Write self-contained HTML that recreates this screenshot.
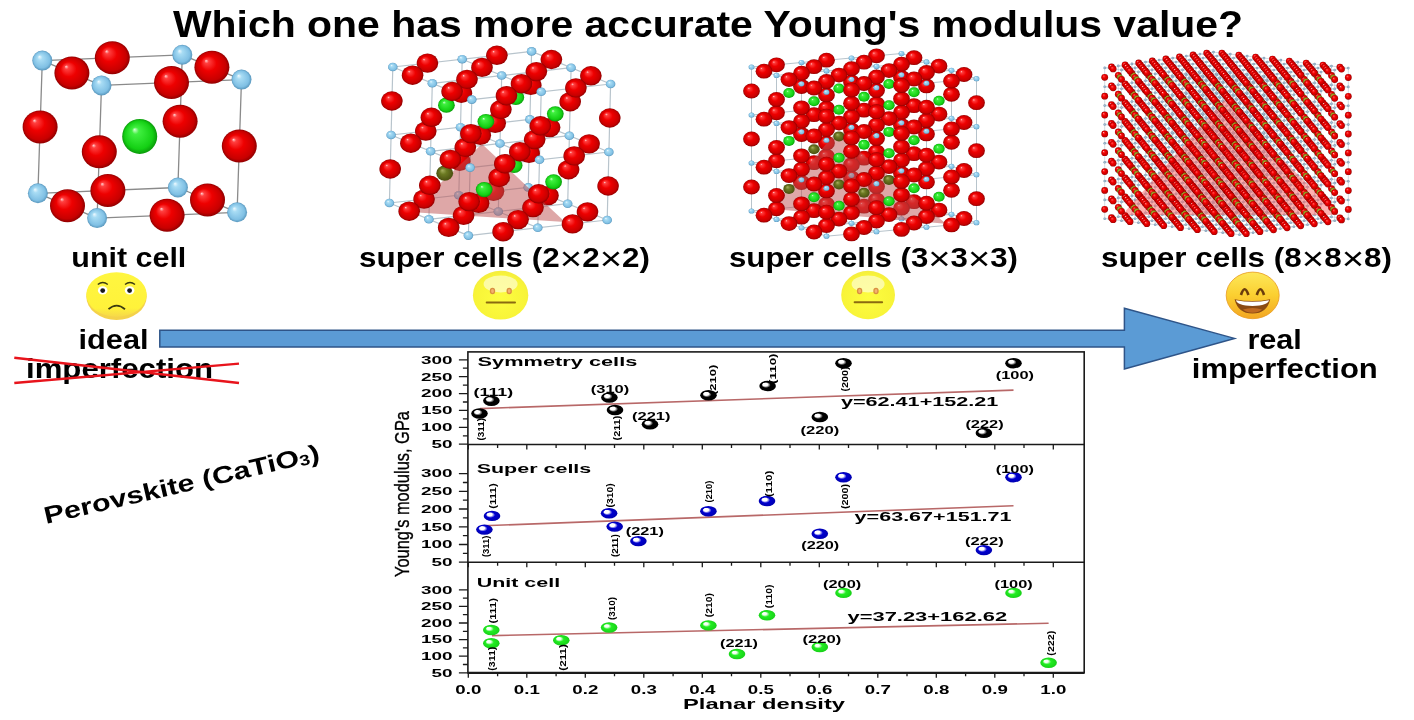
<!DOCTYPE html>
<html><head><meta charset="utf-8">
<style>
html,body{margin:0;padding:0;background:#fff;}
svg{display:block;}
text{font-family:"Liberation Sans",Arial,sans-serif;}
.b{font-weight:bold;}
</style></head>
<body>
<svg width="1414" height="720" viewBox="0 0 1414 720">
<defs>
<radialGradient id="r" cx="0.5" cy="0.5" r="0.5" fx="0.33" fy="0.3">
<stop offset="0" stop-color="#ffd8d8"/><stop offset="0.12" stop-color="#ff4040"/><stop offset="0.45" stop-color="#ee0000"/><stop offset="0.85" stop-color="#c80000"/><stop offset="1" stop-color="#900000"/></radialGradient>
<radialGradient id="b" cx="0.5" cy="0.5" r="0.5" fx="0.35" fy="0.3">
<stop offset="0" stop-color="#f0faff"/><stop offset="0.25" stop-color="#a8dcf4"/><stop offset="0.8" stop-color="#80c0e4"/><stop offset="1" stop-color="#5896bc"/></radialGradient>
<radialGradient id="g" cx="0.5" cy="0.5" r="0.5" fx="0.35" fy="0.3">
<stop offset="0" stop-color="#d8ffd8"/><stop offset="0.2" stop-color="#40f040"/><stop offset="0.8" stop-color="#14d014"/><stop offset="1" stop-color="#0a9a0a"/></radialGradient>
<radialGradient id="go" cx="0.5" cy="0.5" r="0.5" fx="0.35" fy="0.3">
<stop offset="0" stop-color="#a8b060"/><stop offset="0.4" stop-color="#6c7a22"/><stop offset="1" stop-color="#4a5010"/></radialGradient>
<radialGradient id="go8" cx="0.5" cy="0.5" r="0.5" fx="0.4" fy="0.35">
<stop offset="0" stop-color="#c8c040"/><stop offset="0.5" stop-color="#9a9a20"/><stop offset="1" stop-color="#6a6a10"/></radialGradient>
<radialGradient id="b8" cx="0.5" cy="0.5" r="0.5">
<stop offset="0" stop-color="#a8c4d8"/><stop offset="1" stop-color="#7c98b0"/></radialGradient>
<radialGradient id="pk" cx="0.5" cy="0.5" r="0.5" fx="0.3" fy="0.3">
<stop offset="0" stop-color="#ffffff"/><stop offset="0.3" stop-color="#ffffff"/><stop offset="0.55" stop-color="#000000"/><stop offset="1" stop-color="#000000"/></radialGradient>
<radialGradient id="pb" cx="0.5" cy="0.5" r="0.5" fx="0.3" fy="0.3">
<stop offset="0" stop-color="#ffffff"/><stop offset="0.3" stop-color="#ffffff"/><stop offset="0.55" stop-color="#0000d0"/><stop offset="1" stop-color="#0000b0"/></radialGradient>
<radialGradient id="pg" cx="0.5" cy="0.5" r="0.5" fx="0.3" fy="0.3">
<stop offset="0" stop-color="#ffffff"/><stop offset="0.25" stop-color="#f0fff0"/><stop offset="0.5" stop-color="#22ee22"/><stop offset="1" stop-color="#18d018"/></radialGradient>
<linearGradient id="fy1" x1="0" y1="0" x2="0" y2="1"><stop offset="0" stop-color="#fff640"/><stop offset="0.8" stop-color="#fff23a"/><stop offset="1" stop-color="#f6d84a"/></linearGradient>
<radialGradient id="fy2" cx="0.5" cy="0.55" r="0.55"><stop offset="0" stop-color="#fdfd40"/><stop offset="0.85" stop-color="#f8f438"/><stop offset="1" stop-color="#f4ec40"/></radialGradient>
<linearGradient id="fy3" x1="0" y1="0" x2="0" y2="1"><stop offset="0" stop-color="#fde85a"/><stop offset="0.5" stop-color="#fbcf30"/><stop offset="1" stop-color="#f3a622"/></linearGradient>
</defs>

<!-- Title -->
<text class="b" x="173" y="37.4" font-size="36" textLength="1070" lengthAdjust="spacingAndGlyphs">Which one has more accurate Young's modulus value?</text>

<!-- unit cell -->
<g><path d="M42.3 60.6L101.5 85.4M42.3 60.6L37.9 193.3M42.3 60.6L182.3 54.8M37.9 193.3L97.1 218.1M101.5 85.4L97.1 218.1M101.5 85.4L241.5 79.6M182.3 54.8L241.5 79.6M182.3 54.8L177.9 187.5M37.9 193.3L177.9 187.5M177.9 187.5L237.1 212.3M241.5 79.6L237.1 212.3M97.1 218.1L237.1 212.3" stroke="#8a8a8a" stroke-width="1.3" fill="none"/>
<circle cx="177.9" cy="187.5" r="10" fill="url(#b)"/>
<ellipse cx="180.1" cy="121.2" rx="17.5" ry="16.5" fill="url(#r)"/>
<circle cx="182.3" cy="54.8" r="10" fill="url(#b)"/>
<ellipse cx="107.9" cy="190.4" rx="17.5" ry="16.5" fill="url(#r)"/>
<ellipse cx="112.3" cy="57.7" rx="17.5" ry="16.5" fill="url(#r)"/>
<circle cx="37.9" cy="193.3" r="10" fill="url(#b)"/>
<ellipse cx="207.5" cy="199.9" rx="17.5" ry="16.5" fill="url(#r)"/>
<ellipse cx="40.1" cy="126.9" rx="17.5" ry="16.5" fill="url(#r)"/>
<circle cx="42.3" cy="60.6" r="10" fill="url(#b)"/>
<ellipse cx="211.9" cy="67.2" rx="17.5" ry="16.5" fill="url(#r)"/>
<circle cx="139.7" cy="136.4" r="17.5" fill="url(#g)"/>
<ellipse cx="67.5" cy="205.7" rx="17.5" ry="16.5" fill="url(#r)"/>
<circle cx="237.1" cy="212.3" r="10" fill="url(#b)"/>
<ellipse cx="239.3" cy="146" rx="17.5" ry="16.5" fill="url(#r)"/>
<ellipse cx="71.9" cy="73" rx="17.5" ry="16.5" fill="url(#r)"/>
<circle cx="241.5" cy="79.6" r="10" fill="url(#b)"/>
<ellipse cx="167.1" cy="215.2" rx="17.5" ry="16.5" fill="url(#r)"/>
<ellipse cx="171.5" cy="82.5" rx="17.5" ry="16.5" fill="url(#r)"/>
<circle cx="97.1" cy="218.1" r="10" fill="url(#b)"/>
<ellipse cx="99.3" cy="151.8" rx="17.5" ry="16.5" fill="url(#r)"/>
<circle cx="101.5" cy="85.4" r="10" fill="url(#b)"/></g>
<!-- 2x2x2 -->
<g><path d="M392.8 67L471.8 99.6M392.8 67L389.4 203M392.8 67L531.6 51.4M391.1 135L470.1 167.6M432.3 83.3L428.9 219.3M432.3 83.3L571.1 67.7M389.4 203L468.4 235.6M471.8 99.6L468.4 235.6M471.8 99.6L610.6 84M462.2 59.2L541.2 91.8M462.2 59.2L458.8 195.2M391.1 135L529.9 119.4M460.5 127.2L539.5 159.8M501.7 75.5L498.3 211.5M430.6 151.3L569.4 135.7M458.8 195.2L537.8 227.8M541.2 91.8L537.8 227.8M470.1 167.6L608.9 152M531.6 51.4L610.6 84M531.6 51.4L528.2 187.4M389.4 203L528.2 187.4M529.9 119.4L608.9 152M571.1 67.7L567.7 203.7M428.9 219.3L567.7 203.7M528.2 187.4L607.2 220M610.6 84L607.2 220M468.4 235.6L607.2 220" stroke="#b8c4cc" stroke-width="1.2" fill="none"/>
<ellipse cx="528.2" cy="187.4" rx="4.8" ry="4.3" fill="url(#b)"/>
<ellipse cx="529.1" cy="153.4" rx="10.8" ry="9.7" fill="url(#r)"/>
<ellipse cx="493.5" cy="191.3" rx="10.8" ry="9.7" fill="url(#r)"/>
<ellipse cx="529.9" cy="119.4" rx="4.8" ry="4.3" fill="url(#b)"/>
<ellipse cx="530.8" cy="85.4" rx="10.8" ry="9.7" fill="url(#r)"/>
<ellipse cx="548" cy="195.6" rx="10.8" ry="9.7" fill="url(#r)"/>
<ellipse cx="458.8" cy="195.2" rx="4.8" ry="4.3" fill="url(#b)"/>
<ellipse cx="495.2" cy="123.3" rx="10.8" ry="9.7" fill="url(#r)"/>
<ellipse cx="531.6" cy="51.4" rx="4.8" ry="4.3" fill="url(#b)"/>
<ellipse cx="459.7" cy="161.2" rx="10.8" ry="9.7" fill="url(#r)"/>
<ellipse cx="549.6" cy="127.6" rx="10.8" ry="9.7" fill="url(#r)"/>
<ellipse cx="460.5" cy="127.2" rx="4.8" ry="4.3" fill="url(#b)"/>
<ellipse cx="496.9" cy="55.3" rx="10.8" ry="9.7" fill="url(#r)"/>
<ellipse cx="514.1" cy="165.5" rx="8.4" ry="7.6" fill="url(#g)"/>
<ellipse cx="567.7" cy="203.7" rx="4.8" ry="4.3" fill="url(#b)"/>
<ellipse cx="461.4" cy="93.2" rx="10.8" ry="9.7" fill="url(#r)"/>
<ellipse cx="551.4" cy="59.5" rx="10.8" ry="9.7" fill="url(#r)"/>
<ellipse cx="389.4" cy="203" rx="4.8" ry="4.3" fill="url(#b)"/>
<ellipse cx="568.6" cy="169.7" rx="10.8" ry="9.7" fill="url(#r)"/>
<ellipse cx="425.8" cy="131.1" rx="10.8" ry="9.7" fill="url(#r)"/>
<ellipse cx="462.2" cy="59.2" rx="4.8" ry="4.3" fill="url(#b)"/>
<ellipse cx="515.8" cy="97.5" rx="8.4" ry="7.6" fill="url(#g)"/>
<ellipse cx="569.4" cy="135.7" rx="4.8" ry="4.3" fill="url(#b)"/>
<ellipse cx="480.3" cy="135.3" rx="10.8" ry="9.7" fill="url(#r)"/>
<ellipse cx="391.1" cy="135" rx="4.8" ry="4.3" fill="url(#b)"/>
<ellipse cx="570.2" cy="101.7" rx="10.8" ry="9.7" fill="url(#r)"/>
<ellipse cx="427.5" cy="63.1" rx="10.8" ry="9.7" fill="url(#r)"/>
<ellipse cx="498.3" cy="211.5" rx="4.8" ry="4.3" fill="url(#b)"/>
<ellipse cx="534.7" cy="139.6" rx="10.8" ry="9.7" fill="url(#r)"/>
<ellipse cx="391.9" cy="101" rx="10.8" ry="9.7" fill="url(#r)"/>
<ellipse cx="571.1" cy="67.7" rx="4.8" ry="4.3" fill="url(#b)"/>
<ellipse cx="482" cy="67.4" rx="10.8" ry="9.7" fill="url(#r)"/>
<ellipse cx="392.8" cy="67" rx="4.8" ry="4.3" fill="url(#b)"/>
<ellipse cx="589.1" cy="143.9" rx="10.8" ry="9.7" fill="url(#r)"/>
<ellipse cx="446.4" cy="105.2" rx="8.4" ry="7.6" fill="url(#g)"/>
<ellipse cx="500" cy="143.5" rx="4.8" ry="4.3" fill="url(#b)"/>
<ellipse cx="536.4" cy="71.6" rx="10.8" ry="9.7" fill="url(#r)"/>
<ellipse cx="553.6" cy="181.8" rx="8.4" ry="7.6" fill="url(#g)"/>
<ellipse cx="607.2" cy="220" rx="4.8" ry="4.3" fill="url(#b)"/>
<ellipse cx="500.9" cy="109.5" rx="10.8" ry="9.7" fill="url(#r)"/>
<ellipse cx="590.9" cy="75.8" rx="10.8" ry="9.7" fill="url(#r)"/>
<ellipse cx="501.7" cy="75.5" rx="4.8" ry="4.3" fill="url(#b)"/>
<ellipse cx="555.3" cy="113.8" rx="8.4" ry="7.6" fill="url(#g)"/>
<ellipse cx="412.6" cy="75.2" rx="10.8" ry="9.7" fill="url(#r)"/>
<ellipse cx="608.9" cy="152" rx="4.8" ry="4.3" fill="url(#b)"/>
<ellipse cx="430.6" cy="151.3" rx="4.8" ry="4.3" fill="url(#b)"/>
<ellipse cx="609.8" cy="118" rx="10.8" ry="9.7" fill="url(#r)"/>
<ellipse cx="467" cy="79.4" rx="10.8" ry="9.7" fill="url(#r)"/>
<ellipse cx="610.6" cy="84" rx="4.8" ry="4.3" fill="url(#b)"/>
<ellipse cx="521.5" cy="83.7" rx="10.8" ry="9.7" fill="url(#r)"/>
<ellipse cx="432.3" cy="83.3" rx="4.8" ry="4.3" fill="url(#b)"/>
<ellipse cx="485.9" cy="121.5" rx="8.4" ry="7.6" fill="url(#g)"/>
<ellipse cx="539.5" cy="159.8" rx="4.8" ry="4.3" fill="url(#b)"/>
<ellipse cx="575.9" cy="87.9" rx="10.8" ry="9.7" fill="url(#r)"/>
<ellipse cx="541.2" cy="91.8" rx="4.8" ry="4.3" fill="url(#b)"/>
<ellipse cx="471.8" cy="99.6" rx="4.8" ry="4.3" fill="url(#b)"/>
<polygon points="482,144 410,212 565,222" fill="rgba(190,80,80,0.5)"/>
<ellipse cx="424.1" cy="199.1" rx="10.8" ry="9.7" fill="url(#r)"/>
<ellipse cx="478.6" cy="203.3" rx="10.8" ry="9.7" fill="url(#r)"/>
<ellipse cx="533" cy="207.6" rx="10.8" ry="9.7" fill="url(#r)"/>
<ellipse cx="390.2" cy="169" rx="10.8" ry="9.7" fill="url(#r)"/>
<ellipse cx="587.5" cy="211.9" rx="10.8" ry="9.7" fill="url(#r)"/>
<ellipse cx="444.7" cy="173.2" rx="8.4" ry="7.6" fill="url(#go)"/>
<ellipse cx="409.2" cy="211.2" rx="10.8" ry="9.7" fill="url(#r)"/>
<ellipse cx="499.2" cy="177.5" rx="10.8" ry="9.7" fill="url(#r)"/>
<ellipse cx="463.6" cy="215.4" rx="10.8" ry="9.7" fill="url(#r)"/>
<ellipse cx="410.9" cy="143.2" rx="10.8" ry="9.7" fill="url(#r)"/>
<ellipse cx="518.1" cy="219.6" rx="10.8" ry="9.7" fill="url(#r)"/>
<ellipse cx="428.9" cy="219.3" rx="4.8" ry="4.3" fill="url(#b)"/>
<ellipse cx="608.1" cy="186" rx="10.8" ry="9.7" fill="url(#r)"/>
<ellipse cx="465.3" cy="147.4" rx="10.8" ry="9.7" fill="url(#r)"/>
<ellipse cx="572.5" cy="223.9" rx="10.8" ry="9.7" fill="url(#r)"/>
<ellipse cx="429.8" cy="185.3" rx="10.8" ry="9.7" fill="url(#r)"/>
<ellipse cx="519.8" cy="151.7" rx="10.8" ry="9.7" fill="url(#r)"/>
<ellipse cx="484.2" cy="189.6" rx="8.4" ry="7.6" fill="url(#g)"/>
<ellipse cx="537.8" cy="227.8" rx="4.8" ry="4.3" fill="url(#b)"/>
<ellipse cx="574.2" cy="155.9" rx="10.8" ry="9.7" fill="url(#r)"/>
<ellipse cx="431.4" cy="117.3" rx="10.8" ry="9.7" fill="url(#r)"/>
<ellipse cx="448.7" cy="227.4" rx="10.8" ry="9.7" fill="url(#r)"/>
<ellipse cx="538.7" cy="193.8" rx="10.8" ry="9.7" fill="url(#r)"/>
<ellipse cx="503.1" cy="231.7" rx="10.8" ry="9.7" fill="url(#r)"/>
<ellipse cx="450.4" cy="159.4" rx="10.8" ry="9.7" fill="url(#r)"/>
<ellipse cx="540.4" cy="125.8" rx="10.8" ry="9.7" fill="url(#r)"/>
<ellipse cx="468.4" cy="235.6" rx="4.8" ry="4.3" fill="url(#b)"/>
<ellipse cx="504.8" cy="163.7" rx="10.8" ry="9.7" fill="url(#r)"/>
<ellipse cx="452.1" cy="91.5" rx="10.8" ry="9.7" fill="url(#r)"/>
<ellipse cx="469.2" cy="201.6" rx="10.8" ry="9.7" fill="url(#r)"/>
<ellipse cx="470.1" cy="167.6" rx="4.8" ry="4.3" fill="url(#b)"/>
<ellipse cx="506.5" cy="95.7" rx="10.8" ry="9.7" fill="url(#r)"/>
<ellipse cx="470.9" cy="133.6" rx="10.8" ry="9.7" fill="url(#r)"/></g>
<!-- 3x3x3 -->
<g><path d="M751.5 67L826.5 92.2M751.5 67L751.5 211M751.5 67L901.5 53.5M751.5 115L826.5 140.2M776.5 75.4L776.5 219.4M776.5 75.4L926.5 61.9M751.5 163L826.5 188.2M801.5 83.8L801.5 227.8M801.5 83.8L951.5 70.3M751.5 211L826.5 236.2M826.5 92.2L826.5 236.2M826.5 92.2L976.5 78.7M801.5 62.5L876.5 87.7M801.5 62.5L801.5 206.5M751.5 115L901.5 101.5M801.5 110.5L876.5 135.7M826.5 70.9L826.5 214.9M776.5 123.4L926.5 109.9M801.5 158.5L876.5 183.7M851.5 79.3L851.5 223.3M801.5 131.8L951.5 118.3M801.5 206.5L876.5 231.7M876.5 87.7L876.5 231.7M826.5 140.2L976.5 126.7M851.5 58L926.5 83.2M851.5 58L851.5 202M751.5 163L901.5 149.5M851.5 106L926.5 131.2M876.5 66.4L876.5 210.4M776.5 171.4L926.5 157.9M851.5 154L926.5 179.2M901.5 74.8L901.5 218.8M801.5 179.8L951.5 166.3M851.5 202L926.5 227.2M926.5 83.2L926.5 227.2M826.5 188.2L976.5 174.7M901.5 53.5L976.5 78.7M901.5 53.5L901.5 197.5M751.5 211L901.5 197.5M901.5 101.5L976.5 126.7M926.5 61.9L926.5 205.9M776.5 219.4L926.5 205.9M901.5 149.5L976.5 174.7M951.5 70.3L951.5 214.3M801.5 227.8L951.5 214.3M901.5 197.5L976.5 222.7M976.5 78.7L976.5 222.7M826.5 236.2L976.5 222.7" stroke="#b8c4cc" stroke-width="1.0" fill="none"/>
<ellipse cx="901.5" cy="197.5" rx="2.9" ry="2.6" fill="url(#b)"/>
<ellipse cx="901.5" cy="173.5" rx="8.4" ry="7.4" fill="url(#r)"/>
<ellipse cx="901.5" cy="149.5" rx="2.9" ry="2.6" fill="url(#b)"/>
<ellipse cx="876.5" cy="199.8" rx="8.4" ry="7.4" fill="url(#r)"/>
<ellipse cx="901.5" cy="125.5" rx="8.4" ry="7.4" fill="url(#r)"/>
<ellipse cx="901.5" cy="101.5" rx="2.9" ry="2.6" fill="url(#b)"/>
<ellipse cx="876.5" cy="151.8" rx="8.4" ry="7.4" fill="url(#r)"/>
<ellipse cx="914" cy="201.7" rx="8.4" ry="7.4" fill="url(#r)"/>
<ellipse cx="851.5" cy="202" rx="2.9" ry="2.6" fill="url(#b)"/>
<ellipse cx="901.5" cy="77.5" rx="8.4" ry="7.4" fill="url(#r)"/>
<ellipse cx="851.5" cy="178" rx="8.4" ry="7.4" fill="url(#r)"/>
<ellipse cx="901.5" cy="53.5" rx="2.9" ry="2.6" fill="url(#b)"/>
<ellipse cx="876.5" cy="103.8" rx="8.4" ry="7.4" fill="url(#r)"/>
<ellipse cx="914" cy="153.7" rx="8.4" ry="7.4" fill="url(#r)"/>
<ellipse cx="851.5" cy="154" rx="2.9" ry="2.6" fill="url(#b)"/>
<ellipse cx="826.5" cy="204.2" rx="8.4" ry="7.4" fill="url(#r)"/>
<ellipse cx="851.5" cy="130" rx="8.4" ry="7.4" fill="url(#r)"/>
<ellipse cx="876.5" cy="55.8" rx="8.4" ry="7.4" fill="url(#r)"/>
<ellipse cx="914" cy="105.7" rx="8.4" ry="7.4" fill="url(#r)"/>
<ellipse cx="851.5" cy="106" rx="2.9" ry="2.6" fill="url(#b)"/>
<ellipse cx="826.5" cy="156.2" rx="8.4" ry="7.4" fill="url(#r)"/>
<ellipse cx="926.5" cy="205.9" rx="2.9" ry="2.6" fill="url(#b)"/>
<ellipse cx="864" cy="206.2" rx="8.4" ry="7.4" fill="url(#r)"/>
<ellipse cx="801.5" cy="206.5" rx="2.9" ry="2.6" fill="url(#b)"/>
<ellipse cx="851.5" cy="82" rx="8.4" ry="7.4" fill="url(#r)"/>
<ellipse cx="889" cy="131.9" rx="5.7" ry="5" fill="url(#g)"/>
<ellipse cx="926.5" cy="181.9" rx="8.4" ry="7.4" fill="url(#r)"/>
<ellipse cx="801.5" cy="182.5" rx="8.4" ry="7.4" fill="url(#r)"/>
<ellipse cx="914" cy="57.7" rx="8.4" ry="7.4" fill="url(#r)"/>
<ellipse cx="851.5" cy="58" rx="2.9" ry="2.6" fill="url(#b)"/>
<ellipse cx="826.5" cy="108.2" rx="8.4" ry="7.4" fill="url(#r)"/>
<ellipse cx="926.5" cy="157.9" rx="2.9" ry="2.6" fill="url(#b)"/>
<ellipse cx="864" cy="158.2" rx="8.4" ry="7.4" fill="url(#r)"/>
<ellipse cx="801.5" cy="158.5" rx="2.9" ry="2.6" fill="url(#b)"/>
<ellipse cx="901.5" cy="208.2" rx="8.4" ry="7.4" fill="url(#r)"/>
<ellipse cx="889" cy="84" rx="5.7" ry="5" fill="url(#g)"/>
<ellipse cx="926.5" cy="133.9" rx="8.4" ry="7.4" fill="url(#r)"/>
<ellipse cx="801.5" cy="134.5" rx="8.4" ry="7.4" fill="url(#r)"/>
<ellipse cx="826.5" cy="60.2" rx="8.4" ry="7.4" fill="url(#r)"/>
<ellipse cx="926.5" cy="109.9" rx="2.9" ry="2.6" fill="url(#b)"/>
<ellipse cx="864" cy="110.2" rx="8.4" ry="7.4" fill="url(#r)"/>
<ellipse cx="801.5" cy="110.5" rx="2.9" ry="2.6" fill="url(#b)"/>
<ellipse cx="901.5" cy="160.2" rx="8.4" ry="7.4" fill="url(#r)"/>
<ellipse cx="776.5" cy="160.8" rx="8.4" ry="7.4" fill="url(#r)"/>
<ellipse cx="939" cy="210.1" rx="8.4" ry="7.4" fill="url(#r)"/>
<ellipse cx="876.5" cy="210.4" rx="2.9" ry="2.6" fill="url(#b)"/>
<ellipse cx="751.5" cy="211" rx="2.9" ry="2.6" fill="url(#b)"/>
<ellipse cx="926.5" cy="85.9" rx="8.4" ry="7.4" fill="url(#r)"/>
<ellipse cx="801.5" cy="86.5" rx="8.4" ry="7.4" fill="url(#r)"/>
<ellipse cx="876.5" cy="186.4" rx="8.4" ry="7.4" fill="url(#r)"/>
<ellipse cx="926.5" cy="61.9" rx="2.9" ry="2.6" fill="url(#b)"/>
<ellipse cx="864" cy="62.2" rx="8.4" ry="7.4" fill="url(#r)"/>
<ellipse cx="801.5" cy="62.5" rx="2.9" ry="2.6" fill="url(#b)"/>
<ellipse cx="901.5" cy="112.2" rx="8.4" ry="7.4" fill="url(#r)"/>
<ellipse cx="776.5" cy="112.8" rx="8.4" ry="7.4" fill="url(#r)"/>
<ellipse cx="939" cy="162.1" rx="8.4" ry="7.4" fill="url(#r)"/>
<ellipse cx="876.5" cy="162.4" rx="2.9" ry="2.6" fill="url(#b)"/>
<ellipse cx="814" cy="162.7" rx="8.4" ry="7.4" fill="url(#r)"/>
<ellipse cx="751.5" cy="163" rx="2.9" ry="2.6" fill="url(#b)"/>
<ellipse cx="839" cy="88.5" rx="5.7" ry="5" fill="url(#g)"/>
<ellipse cx="876.5" cy="138.4" rx="8.4" ry="7.4" fill="url(#r)"/>
<ellipse cx="751.5" cy="139" rx="8.4" ry="7.4" fill="url(#r)"/>
<ellipse cx="914" cy="188.3" rx="5.7" ry="5" fill="url(#g)"/>
<ellipse cx="901.5" cy="64.2" rx="8.4" ry="7.4" fill="url(#r)"/>
<ellipse cx="776.5" cy="64.8" rx="8.4" ry="7.4" fill="url(#r)"/>
<ellipse cx="939" cy="114.1" rx="8.4" ry="7.4" fill="url(#r)"/>
<ellipse cx="876.5" cy="114.4" rx="2.9" ry="2.6" fill="url(#b)"/>
<ellipse cx="814" cy="114.7" rx="8.4" ry="7.4" fill="url(#r)"/>
<ellipse cx="751.5" cy="115" rx="2.9" ry="2.6" fill="url(#b)"/>
<ellipse cx="851.5" cy="164.7" rx="8.4" ry="7.4" fill="url(#r)"/>
<ellipse cx="951.5" cy="214.3" rx="2.9" ry="2.6" fill="url(#b)"/>
<ellipse cx="826.5" cy="214.9" rx="2.9" ry="2.6" fill="url(#b)"/>
<ellipse cx="876.5" cy="90.4" rx="8.4" ry="7.4" fill="url(#r)"/>
<ellipse cx="751.5" cy="91" rx="8.4" ry="7.4" fill="url(#r)"/>
<ellipse cx="914" cy="140.3" rx="5.7" ry="5" fill="url(#g)"/>
<ellipse cx="789" cy="140.9" rx="5.7" ry="5" fill="url(#g)"/>
<ellipse cx="951.5" cy="190.3" rx="8.4" ry="7.4" fill="url(#r)"/>
<ellipse cx="939" cy="66.1" rx="8.4" ry="7.4" fill="url(#r)"/>
<ellipse cx="876.5" cy="66.4" rx="2.9" ry="2.6" fill="url(#b)"/>
<ellipse cx="814" cy="66.7" rx="8.4" ry="7.4" fill="url(#r)"/>
<ellipse cx="751.5" cy="67" rx="2.9" ry="2.6" fill="url(#b)"/>
<ellipse cx="851.5" cy="116.7" rx="8.4" ry="7.4" fill="url(#r)"/>
<ellipse cx="951.5" cy="166.3" rx="2.9" ry="2.6" fill="url(#b)"/>
<ellipse cx="889" cy="166.6" rx="8.4" ry="7.4" fill="url(#r)"/>
<ellipse cx="826.5" cy="166.9" rx="2.9" ry="2.6" fill="url(#b)"/>
<ellipse cx="914" cy="92.3" rx="5.7" ry="5" fill="url(#g)"/>
<ellipse cx="789" cy="93" rx="5.7" ry="5" fill="url(#g)"/>
<ellipse cx="951.5" cy="142.3" rx="8.4" ry="7.4" fill="url(#r)"/>
<ellipse cx="826.5" cy="142.9" rx="8.4" ry="7.4" fill="url(#r)"/>
<ellipse cx="851.5" cy="68.7" rx="8.4" ry="7.4" fill="url(#r)"/>
<ellipse cx="951.5" cy="118.3" rx="2.9" ry="2.6" fill="url(#b)"/>
<ellipse cx="889" cy="118.6" rx="8.4" ry="7.4" fill="url(#r)"/>
<ellipse cx="826.5" cy="118.9" rx="2.9" ry="2.6" fill="url(#b)"/>
<ellipse cx="764" cy="119.2" rx="8.4" ry="7.4" fill="url(#r)"/>
<ellipse cx="926.5" cy="168.6" rx="8.4" ry="7.4" fill="url(#r)"/>
<ellipse cx="901.5" cy="218.8" rx="2.9" ry="2.6" fill="url(#b)"/>
<ellipse cx="951.5" cy="94.3" rx="8.4" ry="7.4" fill="url(#r)"/>
<ellipse cx="826.5" cy="94.9" rx="8.4" ry="7.4" fill="url(#r)"/>
<ellipse cx="864" cy="144.8" rx="5.7" ry="5" fill="url(#g)"/>
<ellipse cx="951.5" cy="70.3" rx="2.9" ry="2.6" fill="url(#b)"/>
<ellipse cx="889" cy="70.6" rx="8.4" ry="7.4" fill="url(#r)"/>
<ellipse cx="826.5" cy="70.9" rx="2.9" ry="2.6" fill="url(#b)"/>
<ellipse cx="764" cy="71.2" rx="8.4" ry="7.4" fill="url(#r)"/>
<ellipse cx="926.5" cy="120.5" rx="8.4" ry="7.4" fill="url(#r)"/>
<ellipse cx="801.5" cy="121.2" rx="8.4" ry="7.4" fill="url(#r)"/>
<ellipse cx="964" cy="170.5" rx="8.4" ry="7.4" fill="url(#r)"/>
<ellipse cx="901.5" cy="170.8" rx="2.9" ry="2.6" fill="url(#b)"/>
<ellipse cx="776.5" cy="171.4" rx="2.9" ry="2.6" fill="url(#b)"/>
<ellipse cx="864" cy="96.8" rx="5.7" ry="5" fill="url(#g)"/>
<ellipse cx="901.5" cy="146.8" rx="8.4" ry="7.4" fill="url(#r)"/>
<ellipse cx="939" cy="196.8" rx="5.7" ry="5" fill="url(#g)"/>
<ellipse cx="926.5" cy="72.5" rx="8.4" ry="7.4" fill="url(#r)"/>
<ellipse cx="801.5" cy="73.2" rx="8.4" ry="7.4" fill="url(#r)"/>
<ellipse cx="964" cy="122.5" rx="8.4" ry="7.4" fill="url(#r)"/>
<ellipse cx="901.5" cy="122.8" rx="2.9" ry="2.6" fill="url(#b)"/>
<ellipse cx="839" cy="123.1" rx="8.4" ry="7.4" fill="url(#r)"/>
<ellipse cx="776.5" cy="123.4" rx="2.9" ry="2.6" fill="url(#b)"/>
<ellipse cx="976.5" cy="222.7" rx="2.9" ry="2.6" fill="url(#b)"/>
<ellipse cx="901.5" cy="98.8" rx="8.4" ry="7.4" fill="url(#r)"/>
<ellipse cx="776.5" cy="99.4" rx="8.4" ry="7.4" fill="url(#r)"/>
<ellipse cx="939" cy="148.8" rx="5.7" ry="5" fill="url(#g)"/>
<ellipse cx="964" cy="74.5" rx="8.4" ry="7.4" fill="url(#r)"/>
<ellipse cx="901.5" cy="74.8" rx="2.9" ry="2.6" fill="url(#b)"/>
<ellipse cx="839" cy="75.1" rx="8.4" ry="7.4" fill="url(#r)"/>
<ellipse cx="776.5" cy="75.4" rx="2.9" ry="2.6" fill="url(#b)"/>
<ellipse cx="876.5" cy="125" rx="8.4" ry="7.4" fill="url(#r)"/>
<ellipse cx="976.5" cy="174.7" rx="2.9" ry="2.6" fill="url(#b)"/>
<ellipse cx="851.5" cy="175.3" rx="2.9" ry="2.6" fill="url(#b)"/>
<ellipse cx="939" cy="100.8" rx="5.7" ry="5" fill="url(#g)"/>
<ellipse cx="814" cy="101.3" rx="5.7" ry="5" fill="url(#g)"/>
<ellipse cx="976.5" cy="150.7" rx="8.4" ry="7.4" fill="url(#r)"/>
<ellipse cx="876.5" cy="77" rx="8.4" ry="7.4" fill="url(#r)"/>
<ellipse cx="976.5" cy="126.7" rx="2.9" ry="2.6" fill="url(#b)"/>
<ellipse cx="914" cy="127" rx="8.4" ry="7.4" fill="url(#r)"/>
<ellipse cx="851.5" cy="127.3" rx="2.9" ry="2.6" fill="url(#b)"/>
<ellipse cx="976.5" cy="102.7" rx="8.4" ry="7.4" fill="url(#r)"/>
<ellipse cx="851.5" cy="103.3" rx="8.4" ry="7.4" fill="url(#r)"/>
<ellipse cx="889" cy="153.2" rx="5.7" ry="5" fill="url(#g)"/>
<ellipse cx="976.5" cy="78.7" rx="2.9" ry="2.6" fill="url(#b)"/>
<ellipse cx="914" cy="79" rx="8.4" ry="7.4" fill="url(#r)"/>
<ellipse cx="851.5" cy="79.3" rx="2.9" ry="2.6" fill="url(#b)"/>
<ellipse cx="789" cy="79.6" rx="8.4" ry="7.4" fill="url(#r)"/>
<ellipse cx="951.5" cy="128.9" rx="8.4" ry="7.4" fill="url(#r)"/>
<ellipse cx="926.5" cy="179.2" rx="2.9" ry="2.6" fill="url(#b)"/>
<ellipse cx="889" cy="105.2" rx="5.7" ry="5" fill="url(#g)"/>
<ellipse cx="951.5" cy="81" rx="8.4" ry="7.4" fill="url(#r)"/>
<ellipse cx="826.5" cy="81.5" rx="8.4" ry="7.4" fill="url(#r)"/>
<ellipse cx="926.5" cy="131.2" rx="2.9" ry="2.6" fill="url(#b)"/>
<ellipse cx="801.5" cy="131.8" rx="2.9" ry="2.6" fill="url(#b)"/>
<ellipse cx="926.5" cy="107.2" rx="8.4" ry="7.4" fill="url(#r)"/>
<ellipse cx="926.5" cy="83.2" rx="2.9" ry="2.6" fill="url(#b)"/>
<ellipse cx="864" cy="83.5" rx="8.4" ry="7.4" fill="url(#r)"/>
<ellipse cx="801.5" cy="83.8" rx="2.9" ry="2.6" fill="url(#b)"/>
<ellipse cx="839" cy="109.8" rx="5.7" ry="5" fill="url(#g)"/>
<ellipse cx="901.5" cy="85.5" rx="8.4" ry="7.4" fill="url(#r)"/>
<ellipse cx="876.5" cy="135.7" rx="2.9" ry="2.6" fill="url(#b)"/>
<ellipse cx="876.5" cy="87.7" rx="2.9" ry="2.6" fill="url(#b)"/>
<ellipse cx="826.5" cy="92.2" rx="2.9" ry="2.6" fill="url(#b)"/>
<polygon points="836,132 772,209 946,223.7" fill="rgba(190,80,80,0.5)"/>
<ellipse cx="889" cy="179.9" rx="5.7" ry="5" fill="url(#go)"/>
<ellipse cx="776.5" cy="208.8" rx="8.4" ry="7.4" fill="url(#r)"/>
<ellipse cx="839" cy="184.4" rx="5.7" ry="5" fill="url(#go)"/>
<ellipse cx="814" cy="210.7" rx="8.4" ry="7.4" fill="url(#r)"/>
<ellipse cx="839" cy="136.4" rx="5.7" ry="5" fill="url(#go)"/>
<ellipse cx="751.5" cy="187" rx="8.4" ry="7.4" fill="url(#r)"/>
<ellipse cx="851.5" cy="212.7" rx="8.4" ry="7.4" fill="url(#r)"/>
<ellipse cx="789" cy="188.9" rx="5.7" ry="5" fill="url(#go)"/>
<ellipse cx="889" cy="214.6" rx="8.4" ry="7.4" fill="url(#r)"/>
<ellipse cx="764" cy="215.2" rx="8.4" ry="7.4" fill="url(#r)"/>
<ellipse cx="826.5" cy="190.9" rx="8.4" ry="7.4" fill="url(#r)"/>
<ellipse cx="764" cy="167.2" rx="8.4" ry="7.4" fill="url(#r)"/>
<ellipse cx="926.5" cy="216.6" rx="8.4" ry="7.4" fill="url(#r)"/>
<ellipse cx="801.5" cy="217.2" rx="8.4" ry="7.4" fill="url(#r)"/>
<ellipse cx="864" cy="192.8" rx="5.7" ry="5" fill="url(#go)"/>
<ellipse cx="801.5" cy="169.2" rx="8.4" ry="7.4" fill="url(#r)"/>
<ellipse cx="964" cy="218.5" rx="8.4" ry="7.4" fill="url(#r)"/>
<ellipse cx="839" cy="219.1" rx="8.4" ry="7.4" fill="url(#r)"/>
<ellipse cx="776.5" cy="219.4" rx="2.9" ry="2.6" fill="url(#b)"/>
<ellipse cx="901.5" cy="194.8" rx="8.4" ry="7.4" fill="url(#r)"/>
<ellipse cx="776.5" cy="195.4" rx="8.4" ry="7.4" fill="url(#r)"/>
<ellipse cx="839" cy="171.1" rx="8.4" ry="7.4" fill="url(#r)"/>
<ellipse cx="876.5" cy="221.1" rx="8.4" ry="7.4" fill="url(#r)"/>
<ellipse cx="776.5" cy="147.4" rx="8.4" ry="7.4" fill="url(#r)"/>
<ellipse cx="814" cy="197.3" rx="5.7" ry="5" fill="url(#g)"/>
<ellipse cx="876.5" cy="173.1" rx="8.4" ry="7.4" fill="url(#r)"/>
<ellipse cx="914" cy="223" rx="8.4" ry="7.4" fill="url(#r)"/>
<ellipse cx="851.5" cy="223.3" rx="2.9" ry="2.6" fill="url(#b)"/>
<ellipse cx="789" cy="223.6" rx="8.4" ry="7.4" fill="url(#r)"/>
<ellipse cx="814" cy="149.3" rx="5.7" ry="5" fill="url(#go)"/>
<ellipse cx="976.5" cy="198.7" rx="8.4" ry="7.4" fill="url(#r)"/>
<ellipse cx="851.5" cy="199.3" rx="8.4" ry="7.4" fill="url(#r)"/>
<ellipse cx="914" cy="175" rx="8.4" ry="7.4" fill="url(#r)"/>
<ellipse cx="789" cy="175.6" rx="8.4" ry="7.4" fill="url(#r)"/>
<ellipse cx="951.5" cy="224.9" rx="8.4" ry="7.4" fill="url(#r)"/>
<ellipse cx="826.5" cy="225.6" rx="8.4" ry="7.4" fill="url(#r)"/>
<ellipse cx="851.5" cy="151.3" rx="8.4" ry="7.4" fill="url(#r)"/>
<ellipse cx="889" cy="201.2" rx="5.7" ry="5" fill="url(#g)"/>
<ellipse cx="789" cy="127.6" rx="8.4" ry="7.4" fill="url(#r)"/>
<ellipse cx="951.5" cy="176.9" rx="8.4" ry="7.4" fill="url(#r)"/>
<ellipse cx="826.5" cy="177.6" rx="8.4" ry="7.4" fill="url(#r)"/>
<ellipse cx="926.5" cy="227.2" rx="2.9" ry="2.6" fill="url(#b)"/>
<ellipse cx="864" cy="227.5" rx="8.4" ry="7.4" fill="url(#r)"/>
<ellipse cx="801.5" cy="227.8" rx="2.9" ry="2.6" fill="url(#b)"/>
<ellipse cx="926.5" cy="203.2" rx="8.4" ry="7.4" fill="url(#r)"/>
<ellipse cx="801.5" cy="203.8" rx="8.4" ry="7.4" fill="url(#r)"/>
<ellipse cx="826.5" cy="129.6" rx="8.4" ry="7.4" fill="url(#r)"/>
<ellipse cx="864" cy="179.5" rx="8.4" ry="7.4" fill="url(#r)"/>
<ellipse cx="801.5" cy="179.8" rx="2.9" ry="2.6" fill="url(#b)"/>
<ellipse cx="901.5" cy="229.4" rx="8.4" ry="7.4" fill="url(#r)"/>
<ellipse cx="926.5" cy="155.2" rx="8.4" ry="7.4" fill="url(#r)"/>
<ellipse cx="801.5" cy="155.8" rx="8.4" ry="7.4" fill="url(#r)"/>
<ellipse cx="839" cy="205.8" rx="5.7" ry="5" fill="url(#g)"/>
<ellipse cx="864" cy="131.5" rx="8.4" ry="7.4" fill="url(#r)"/>
<ellipse cx="901.5" cy="181.4" rx="8.4" ry="7.4" fill="url(#r)"/>
<ellipse cx="876.5" cy="231.7" rx="2.9" ry="2.6" fill="url(#b)"/>
<ellipse cx="814" cy="232" rx="8.4" ry="7.4" fill="url(#r)"/>
<ellipse cx="801.5" cy="107.8" rx="8.4" ry="7.4" fill="url(#r)"/>
<ellipse cx="839" cy="157.8" rx="5.7" ry="5" fill="url(#g)"/>
<ellipse cx="876.5" cy="207.7" rx="8.4" ry="7.4" fill="url(#r)"/>
<ellipse cx="901.5" cy="133.4" rx="8.4" ry="7.4" fill="url(#r)"/>
<ellipse cx="876.5" cy="183.7" rx="2.9" ry="2.6" fill="url(#b)"/>
<ellipse cx="814" cy="184" rx="8.4" ry="7.4" fill="url(#r)"/>
<ellipse cx="851.5" cy="233.9" rx="8.4" ry="7.4" fill="url(#r)"/>
<ellipse cx="876.5" cy="159.7" rx="8.4" ry="7.4" fill="url(#r)"/>
<ellipse cx="814" cy="136" rx="8.4" ry="7.4" fill="url(#r)"/>
<ellipse cx="851.5" cy="185.9" rx="8.4" ry="7.4" fill="url(#r)"/>
<ellipse cx="826.5" cy="236.2" rx="2.9" ry="2.6" fill="url(#b)"/>
<ellipse cx="876.5" cy="111.7" rx="8.4" ry="7.4" fill="url(#r)"/>
<ellipse cx="826.5" cy="212.2" rx="8.4" ry="7.4" fill="url(#r)"/>
<ellipse cx="814" cy="88" rx="8.4" ry="7.4" fill="url(#r)"/>
<ellipse cx="851.5" cy="137.9" rx="8.4" ry="7.4" fill="url(#r)"/>
<ellipse cx="826.5" cy="188.2" rx="2.9" ry="2.6" fill="url(#b)"/>
<ellipse cx="826.5" cy="164.2" rx="8.4" ry="7.4" fill="url(#r)"/>
<ellipse cx="851.5" cy="90" rx="8.4" ry="7.4" fill="url(#r)"/>
<ellipse cx="826.5" cy="140.2" rx="2.9" ry="2.6" fill="url(#b)"/>
<ellipse cx="826.5" cy="116.2" rx="8.4" ry="7.4" fill="url(#r)"/></g>
<!-- 8x8x8 -->
<g><path d="M1104.7 67.9L1213.5 52.1M1104.7 67.9L1104.7 218.7M1104.7 67.9L1239.5 83.9M1104.7 86.8L1213.5 70.9M1118.3 65.9L1118.3 216.7M1118.3 65.9L1253.1 81.9M1104.7 105.6L1213.5 89.8M1131.9 63.9L1131.9 214.7M1131.9 63.9L1266.7 79.9M1104.7 124.5L1213.5 108.6M1145.5 62L1145.5 212.8M1145.5 62L1280.3 78M1104.7 143.3L1213.5 127.5M1159.1 60L1159.1 210.8M1159.1 60L1293.9 76M1104.7 162.2L1213.5 146.3M1172.7 58L1172.7 208.8M1172.7 58L1307.5 74M1104.7 181L1213.5 165.2M1186.3 56L1186.3 206.8M1186.3 56L1321.1 72M1104.7 199.9L1213.5 184M1199.9 54L1199.9 204.8M1199.9 54L1334.7 70M1104.7 218.7L1213.5 202.9M1213.5 52.1L1213.5 202.9M1213.5 52.1L1348.3 68.1M1121.5 69.9L1230.3 54.1M1121.5 69.9L1121.5 220.7M1104.7 86.8L1239.5 102.8M1121.5 88.8L1230.3 72.9M1135.1 67.9L1135.1 218.7M1118.3 84.8L1253.1 100.8M1121.5 107.6L1230.3 91.8M1148.8 65.9L1148.8 216.7M1131.9 82.8L1266.7 98.8M1121.5 126.5L1230.3 110.6M1162.3 64L1162.3 214.8M1145.5 80.8L1280.3 96.8M1121.5 145.3L1230.3 129.5M1176 62L1176 212.8M1159.1 78.8L1293.9 94.8M1121.5 164.2L1230.3 148.3M1189.5 60L1189.5 210.8M1172.7 76.8L1307.5 92.8M1121.5 183L1230.3 167.2M1203.1 58L1203.1 208.8M1186.3 74.9L1321.1 90.9M1121.5 201.9L1230.3 186M1216.8 56L1216.8 206.8M1199.9 72.9L1334.7 88.9M1121.5 220.7L1230.3 204.9M1230.3 54.1L1230.3 204.9M1213.5 70.9L1348.3 86.9M1138.4 71.9L1247.2 56.1M1138.4 71.9L1138.4 222.7M1104.7 105.6L1239.5 121.6M1138.4 90.8L1247.2 74.9M1152 69.9L1152 220.7M1118.3 103.6L1253.1 119.6M1138.4 109.6L1247.2 93.8M1165.6 67.9L1165.6 218.7M1131.9 101.6L1266.7 117.6M1138.4 128.5L1247.2 112.6M1179.2 66L1179.2 216.8M1145.5 99.7L1280.3 115.7M1138.4 147.3L1247.2 131.5M1192.8 64L1192.8 214.8M1159.1 97.7L1293.9 113.7M1138.4 166.2L1247.2 150.3M1206.4 62L1206.4 212.8M1172.7 95.7L1307.5 111.7M1138.4 185L1247.2 169.2M1220 60L1220 210.8M1186.3 93.7L1321.1 109.7M1138.4 203.9L1247.2 188M1233.6 58L1233.6 208.8M1199.9 91.7L1334.7 107.7M1138.4 222.7L1247.2 206.9M1247.2 56.1L1247.2 206.9M1213.5 89.8L1348.3 105.8M1155.2 73.9L1264 58.1M1155.2 73.9L1155.2 224.7M1104.7 124.5L1239.5 140.5M1155.2 92.8L1264 76.9M1168.8 71.9L1168.8 222.7M1118.3 122.5L1253.1 138.5M1155.2 111.6L1264 95.8M1182.5 69.9L1182.5 220.7M1131.9 120.5L1266.7 136.5M1155.2 130.5L1264 114.6M1196 68L1196 218.8M1145.5 118.5L1280.3 134.5M1155.2 149.3L1264 133.5M1209.7 66L1209.7 216.8M1159.1 116.5L1293.9 132.5M1155.2 168.2L1264 152.3M1223.2 64L1223.2 214.8M1172.7 114.6L1307.5 130.6M1155.2 187L1264 171.2M1236.8 62L1236.8 212.8M1186.3 112.6L1321.1 128.6M1155.2 205.9L1264 190M1250.5 60L1250.5 210.8M1199.9 110.6L1334.7 126.6M1155.2 224.7L1264 208.9M1264 58.1L1264 208.9M1213.5 108.6L1348.3 124.6M1172.1 75.9L1280.9 60.1M1172.1 75.9L1172.1 226.7M1104.7 143.3L1239.5 159.3M1172.1 94.8L1280.9 78.9M1185.7 73.9L1185.7 224.7M1118.3 141.3L1253.1 157.3M1172.1 113.6L1280.9 97.8M1199.3 71.9L1199.3 222.7M1131.9 139.3L1266.7 155.3M1172.1 132.5L1280.9 116.6M1212.9 70L1212.9 220.8M1145.5 137.4L1280.3 153.4M1172.1 151.3L1280.9 135.5M1226.5 68L1226.5 218.8M1159.1 135.4L1293.9 151.4M1172.1 170.2L1280.9 154.3M1240.1 66L1240.1 216.8M1172.7 133.4L1307.5 149.4M1172.1 189L1280.9 173.2M1253.7 64L1253.7 214.8M1186.3 131.4L1321.1 147.4M1172.1 207.9L1280.9 192M1267.3 62L1267.3 212.8M1199.9 129.4L1334.7 145.4M1172.1 226.7L1280.9 210.9M1280.9 60.1L1280.9 210.9M1213.5 127.5L1348.3 143.5M1189 77.9L1297.8 62.1M1189 77.9L1189 228.7M1104.7 162.2L1239.5 178.2M1189 96.8L1297.8 80.9M1202.5 75.9L1202.5 226.7M1118.3 160.2L1253.1 176.2M1189 115.6L1297.8 99.8M1216.2 73.9L1216.2 224.7M1131.9 158.2L1266.7 174.2M1189 134.5L1297.8 118.6M1229.8 72L1229.8 222.8M1145.5 156.2L1280.3 172.2M1189 153.3L1297.8 137.5M1243.4 70L1243.4 220.8M1159.1 154.2L1293.9 170.2M1189 172.2L1297.8 156.3M1257 68L1257 218.8M1172.7 152.2L1307.5 168.2M1189 191L1297.8 175.2M1270.5 66L1270.5 216.8M1186.3 150.3L1321.1 166.3M1189 209.9L1297.8 194M1284.2 64L1284.2 214.8M1199.9 148.3L1334.7 164.3M1189 228.7L1297.8 212.9M1297.8 62.1L1297.8 212.9M1213.5 146.3L1348.3 162.3M1205.8 79.9L1314.6 64.1M1205.8 79.9L1205.8 230.7M1104.7 181L1239.5 197M1205.8 98.8L1314.6 82.9M1219.4 77.9L1219.4 228.7M1118.3 179L1253.1 195M1205.8 117.6L1314.6 101.8M1233 75.9L1233 226.7M1131.9 177L1266.7 193M1205.8 136.5L1314.6 120.6M1246.6 74L1246.6 224.8M1145.5 175.1L1280.3 191.1M1205.8 155.3L1314.6 139.5M1260.2 72L1260.2 222.8M1159.1 173.1L1293.9 189.1M1205.8 174.2L1314.6 158.3M1273.8 70L1273.8 220.8M1172.7 171.1L1307.5 187.1M1205.8 193L1314.6 177.2M1287.4 68L1287.4 218.8M1186.3 169.1L1321.1 185.1M1205.8 211.9L1314.6 196M1301 66L1301 216.8M1199.9 167.1L1334.7 183.1M1205.8 230.7L1314.6 214.9M1314.6 64.1L1314.6 214.9M1213.5 165.2L1348.3 181.2M1222.7 81.9L1331.5 66.1M1222.7 81.9L1222.7 232.7M1104.7 199.9L1239.5 215.9M1222.7 100.8L1331.5 84.9M1236.2 79.9L1236.2 230.7M1118.3 197.9L1253.1 213.9M1222.7 119.6L1331.5 103.8M1249.9 77.9L1249.9 228.7M1131.9 195.9L1266.7 211.9M1222.7 138.5L1331.5 122.6M1263.5 76L1263.5 226.8M1145.5 193.9L1280.3 209.9M1222.7 157.3L1331.5 141.5M1277.1 74L1277.1 224.8M1159.1 191.9L1293.9 207.9M1222.7 176.2L1331.5 160.3M1290.7 72L1290.7 222.8M1172.7 190L1307.5 206M1222.7 195L1331.5 179.2M1304.2 70L1304.2 220.8M1186.3 188L1321.1 204M1222.7 213.9L1331.5 198M1317.9 68L1317.9 218.8M1199.9 186L1334.7 202M1222.7 232.7L1331.5 216.9M1331.5 66.1L1331.5 216.9M1213.5 184L1348.3 200M1239.5 83.9L1348.3 68.1M1239.5 83.9L1239.5 234.7M1104.7 218.7L1239.5 234.7M1239.5 102.8L1348.3 86.9M1253.1 81.9L1253.1 232.7M1118.3 216.7L1253.1 232.7M1239.5 121.6L1348.3 105.8M1266.7 79.9L1266.7 230.7M1131.9 214.7L1266.7 230.7M1239.5 140.5L1348.3 124.6M1280.3 78L1280.3 228.8M1145.5 212.8L1280.3 228.8M1239.5 159.3L1348.3 143.5M1293.9 76L1293.9 226.8M1159.1 210.8L1293.9 226.8M1239.5 178.2L1348.3 162.3M1307.5 74L1307.5 224.8M1172.7 208.8L1307.5 224.8M1239.5 197L1348.3 181.2M1321.1 72L1321.1 222.8M1186.3 206.8L1321.1 222.8M1239.5 215.9L1348.3 200M1334.7 70L1334.7 220.8M1199.9 204.8L1334.7 220.8M1239.5 234.7L1348.3 218.9M1348.3 68.1L1348.3 218.9M1213.5 202.9L1348.3 218.9" stroke="#b4c4d0" stroke-width="0.6" fill="none"/>
<circle cx="1213.5" cy="202.9" r="1.3" fill="url(#b8)"/>
<circle cx="1213.5" cy="184" r="1.3" fill="url(#b8)"/>
<circle cx="1213.5" cy="165.2" r="1.3" fill="url(#b8)"/>
<circle cx="1213.5" cy="146.3" r="1.3" fill="url(#b8)"/>
<circle cx="1213.5" cy="127.5" r="1.3" fill="url(#b8)"/>
<circle cx="1230.3" cy="204.9" r="1.3" fill="url(#b8)"/>
<circle cx="1213.5" cy="108.6" r="1.3" fill="url(#b8)"/>
<circle cx="1230.3" cy="186" r="1.3" fill="url(#b8)"/>
<circle cx="1199.9" cy="204.8" r="1.3" fill="url(#b8)"/>
<circle cx="1213.5" cy="89.8" r="1.3" fill="url(#b8)"/>
<circle cx="1230.3" cy="167.2" r="1.3" fill="url(#b8)"/>
<circle cx="1199.9" cy="186" r="1.3" fill="url(#b8)"/>
<circle cx="1213.5" cy="70.9" r="1.3" fill="url(#b8)"/>
<circle cx="1230.3" cy="148.3" r="1.3" fill="url(#b8)"/>
<circle cx="1199.9" cy="167.1" r="1.3" fill="url(#b8)"/>
<circle cx="1213.5" cy="52.1" r="1.3" fill="url(#b8)"/>
<circle cx="1230.3" cy="129.5" r="1.3" fill="url(#b8)"/>
<circle cx="1199.9" cy="148.3" r="1.3" fill="url(#b8)"/>
<circle cx="1247.2" cy="206.9" r="1.3" fill="url(#b8)"/>
<circle cx="1230.3" cy="110.6" r="1.3" fill="url(#b8)"/>
<circle cx="1199.9" cy="129.4" r="1.3" fill="url(#b8)"/>
<circle cx="1247.2" cy="188" r="1.3" fill="url(#b8)"/>
<circle cx="1216.8" cy="206.8" r="1.3" fill="url(#b8)"/>
<circle cx="1230.3" cy="91.8" r="1.3" fill="url(#b8)"/>
<circle cx="1199.9" cy="110.6" r="1.3" fill="url(#b8)"/>
<circle cx="1247.2" cy="169.2" r="1.3" fill="url(#b8)"/>
<circle cx="1216.8" cy="188" r="1.3" fill="url(#b8)"/>
<circle cx="1186.3" cy="206.8" r="1.3" fill="url(#b8)"/>
<circle cx="1230.3" cy="72.9" r="1.3" fill="url(#b8)"/>
<circle cx="1199.9" cy="91.7" r="1.3" fill="url(#b8)"/>
<circle cx="1247.2" cy="150.3" r="1.3" fill="url(#b8)"/>
<circle cx="1216.8" cy="169.1" r="1.3" fill="url(#b8)"/>
<circle cx="1186.3" cy="188" r="1.3" fill="url(#b8)"/>
<circle cx="1230.3" cy="54.1" r="1.3" fill="url(#b8)"/>
<circle cx="1199.9" cy="72.9" r="1.3" fill="url(#b8)"/>
<circle cx="1247.2" cy="131.5" r="1.3" fill="url(#b8)"/>
<circle cx="1216.8" cy="150.3" r="1.3" fill="url(#b8)"/>
<circle cx="1264" cy="208.9" r="1.3" fill="url(#b8)"/>
<circle cx="1186.3" cy="169.1" r="1.3" fill="url(#b8)"/>
<circle cx="1199.9" cy="54" r="1.3" fill="url(#b8)"/>
<circle cx="1247.2" cy="112.6" r="1.3" fill="url(#b8)"/>
<circle cx="1216.8" cy="131.4" r="1.3" fill="url(#b8)"/>
<circle cx="1264" cy="190" r="1.3" fill="url(#b8)"/>
<circle cx="1233.6" cy="208.8" r="1.3" fill="url(#b8)"/>
<circle cx="1186.3" cy="150.3" r="1.3" fill="url(#b8)"/>
<circle cx="1247.2" cy="93.8" r="1.3" fill="url(#b8)"/>
<circle cx="1216.8" cy="112.6" r="1.3" fill="url(#b8)"/>
<circle cx="1264" cy="171.2" r="1.3" fill="url(#b8)"/>
<circle cx="1233.6" cy="190" r="1.3" fill="url(#b8)"/>
<circle cx="1186.3" cy="131.4" r="1.3" fill="url(#b8)"/>
<circle cx="1203.1" cy="208.8" r="1.3" fill="url(#b8)"/>
<circle cx="1247.2" cy="74.9" r="1.3" fill="url(#b8)"/>
<circle cx="1216.8" cy="93.7" r="1.3" fill="url(#b8)"/>
<circle cx="1264" cy="152.3" r="1.3" fill="url(#b8)"/>
<circle cx="1186.3" cy="112.6" r="1.3" fill="url(#b8)"/>
<circle cx="1233.6" cy="171.1" r="1.3" fill="url(#b8)"/>
<circle cx="1203.1" cy="190" r="1.3" fill="url(#b8)"/>
<circle cx="1172.7" cy="208.8" r="1.3" fill="url(#b8)"/>
<circle cx="1247.2" cy="56.1" r="1.3" fill="url(#b8)"/>
<circle cx="1216.8" cy="74.9" r="1.3" fill="url(#b8)"/>
<circle cx="1264" cy="133.5" r="1.3" fill="url(#b8)"/>
<circle cx="1233.6" cy="152.3" r="1.3" fill="url(#b8)"/>
<circle cx="1186.3" cy="93.7" r="1.3" fill="url(#b8)"/>
<circle cx="1280.9" cy="210.9" r="1.3" fill="url(#b8)"/>
<circle cx="1203.1" cy="171.1" r="1.3" fill="url(#b8)"/>
<circle cx="1172.7" cy="190" r="1.3" fill="url(#b8)"/>
<circle cx="1216.8" cy="56" r="1.3" fill="url(#b8)"/>
<circle cx="1264" cy="114.6" r="1.3" fill="url(#b8)"/>
<circle cx="1186.3" cy="74.9" r="1.3" fill="url(#b8)"/>
<circle cx="1233.6" cy="133.4" r="1.3" fill="url(#b8)"/>
<circle cx="1280.9" cy="192" r="1.3" fill="url(#b8)"/>
<circle cx="1250.5" cy="210.8" r="1.3" fill="url(#b8)"/>
<circle cx="1203.1" cy="152.3" r="1.3" fill="url(#b8)"/>
<circle cx="1172.7" cy="171.1" r="1.3" fill="url(#b8)"/>
<circle cx="1264" cy="95.8" r="1.3" fill="url(#b8)"/>
<circle cx="1233.6" cy="114.6" r="1.3" fill="url(#b8)"/>
<circle cx="1186.3" cy="56" r="1.3" fill="url(#b8)"/>
<circle cx="1280.9" cy="173.2" r="1.3" fill="url(#b8)"/>
<circle cx="1203.1" cy="133.4" r="1.3" fill="url(#b8)"/>
<circle cx="1250.5" cy="192" r="1.3" fill="url(#b8)"/>
<circle cx="1172.7" cy="152.2" r="1.3" fill="url(#b8)"/>
<circle cx="1220" cy="210.8" r="1.3" fill="url(#b8)"/>
<circle cx="1264" cy="76.9" r="1.3" fill="url(#b8)"/>
<circle cx="1233.6" cy="95.7" r="1.3" fill="url(#b8)"/>
<circle cx="1280.9" cy="154.3" r="1.3" fill="url(#b8)"/>
<circle cx="1250.5" cy="173.1" r="1.3" fill="url(#b8)"/>
<circle cx="1203.1" cy="114.6" r="1.3" fill="url(#b8)"/>
<circle cx="1172.7" cy="133.4" r="1.3" fill="url(#b8)"/>
<circle cx="1220" cy="192" r="1.3" fill="url(#b8)"/>
<circle cx="1189.5" cy="210.8" r="1.3" fill="url(#b8)"/>
<circle cx="1264" cy="58.1" r="1.3" fill="url(#b8)"/>
<circle cx="1233.6" cy="76.9" r="1.3" fill="url(#b8)"/>
<circle cx="1280.9" cy="135.5" r="1.3" fill="url(#b8)"/>
<circle cx="1203.1" cy="95.7" r="1.3" fill="url(#b8)"/>
<circle cx="1250.5" cy="154.3" r="1.3" fill="url(#b8)"/>
<circle cx="1297.8" cy="212.9" r="1.3" fill="url(#b8)"/>
<circle cx="1172.7" cy="114.6" r="1.3" fill="url(#b8)"/>
<circle cx="1220" cy="173.1" r="1.3" fill="url(#b8)"/>
<circle cx="1189.5" cy="192" r="1.3" fill="url(#b8)"/>
<circle cx="1159.1" cy="210.8" r="1.3" fill="url(#b8)"/>
<circle cx="1233.6" cy="58" r="1.3" fill="url(#b8)"/>
<circle cx="1280.9" cy="116.6" r="1.3" fill="url(#b8)"/>
<circle cx="1203.1" cy="76.9" r="1.3" fill="url(#b8)"/>
<circle cx="1250.5" cy="135.4" r="1.3" fill="url(#b8)"/>
<circle cx="1297.8" cy="194" r="1.3" fill="url(#b8)"/>
<circle cx="1172.7" cy="95.7" r="1.3" fill="url(#b8)"/>
<circle cx="1220" cy="154.3" r="1.3" fill="url(#b8)"/>
<circle cx="1267.3" cy="212.8" r="1.3" fill="url(#b8)"/>
<circle cx="1189.5" cy="173.1" r="1.3" fill="url(#b8)"/>
<circle cx="1159.1" cy="191.9" r="1.3" fill="url(#b8)"/>
<circle cx="1280.9" cy="97.8" r="1.3" fill="url(#b8)"/>
<circle cx="1250.5" cy="116.6" r="1.3" fill="url(#b8)"/>
<circle cx="1203.1" cy="58" r="1.3" fill="url(#b8)"/>
<circle cx="1297.8" cy="175.2" r="1.3" fill="url(#b8)"/>
<circle cx="1267.3" cy="194" r="1.3" fill="url(#b8)"/>
<circle cx="1172.7" cy="76.8" r="1.3" fill="url(#b8)"/>
<circle cx="1220" cy="135.4" r="1.3" fill="url(#b8)"/>
<circle cx="1189.5" cy="154.2" r="1.3" fill="url(#b8)"/>
<circle cx="1236.8" cy="212.8" r="1.3" fill="url(#b8)"/>
<circle cx="1159.1" cy="173.1" r="1.3" fill="url(#b8)"/>
<circle cx="1280.9" cy="78.9" r="1.3" fill="url(#b8)"/>
<circle cx="1250.5" cy="97.7" r="1.3" fill="url(#b8)"/>
<circle cx="1297.8" cy="156.3" r="1.3" fill="url(#b8)"/>
<circle cx="1267.3" cy="175.1" r="1.3" fill="url(#b8)"/>
<circle cx="1172.7" cy="58" r="1.3" fill="url(#b8)"/>
<circle cx="1220" cy="116.6" r="1.3" fill="url(#b8)"/>
<circle cx="1189.5" cy="135.4" r="1.3" fill="url(#b8)"/>
<circle cx="1236.8" cy="194" r="1.3" fill="url(#b8)"/>
<circle cx="1159.1" cy="154.2" r="1.3" fill="url(#b8)"/>
<circle cx="1206.4" cy="212.8" r="1.3" fill="url(#b8)"/>
<circle cx="1280.9" cy="60.1" r="1.3" fill="url(#b8)"/>
<circle cx="1250.5" cy="78.9" r="1.3" fill="url(#b8)"/>
<circle cx="1297.8" cy="137.5" r="1.3" fill="url(#b8)"/>
<circle cx="1267.3" cy="156.3" r="1.3" fill="url(#b8)"/>
<circle cx="1220" cy="97.7" r="1.3" fill="url(#b8)"/>
<circle cx="1314.6" cy="214.9" r="1.3" fill="url(#b8)"/>
<circle cx="1189.5" cy="116.6" r="1.3" fill="url(#b8)"/>
<circle cx="1236.8" cy="175.1" r="1.3" fill="url(#b8)"/>
<circle cx="1159.1" cy="135.4" r="1.3" fill="url(#b8)"/>
<circle cx="1206.4" cy="194" r="1.3" fill="url(#b8)"/>
<circle cx="1176" cy="212.8" r="1.3" fill="url(#b8)"/>
<circle cx="1250.5" cy="60" r="1.3" fill="url(#b8)"/>
<circle cx="1297.8" cy="118.6" r="1.3" fill="url(#b8)"/>
<circle cx="1267.3" cy="137.4" r="1.3" fill="url(#b8)"/>
<circle cx="1220" cy="78.9" r="1.3" fill="url(#b8)"/>
<circle cx="1314.6" cy="196" r="1.3" fill="url(#b8)"/>
<circle cx="1284.2" cy="214.8" r="1.3" fill="url(#b8)"/>
<circle cx="1189.5" cy="97.7" r="1.3" fill="url(#b8)"/>
<circle cx="1236.8" cy="156.3" r="1.3" fill="url(#b8)"/>
<circle cx="1159.1" cy="116.5" r="1.3" fill="url(#b8)"/>
<circle cx="1206.4" cy="175.1" r="1.3" fill="url(#b8)"/>
<circle cx="1176" cy="193.9" r="1.3" fill="url(#b8)"/>
<circle cx="1145.5" cy="212.8" r="1.3" fill="url(#b8)"/>
<circle cx="1297.8" cy="99.8" r="1.3" fill="url(#b8)"/>
<circle cx="1220" cy="60" r="1.3" fill="url(#b8)"/>
<circle cx="1267.3" cy="118.6" r="1.3" fill="url(#b8)"/>
<circle cx="1314.6" cy="177.2" r="1.3" fill="url(#b8)"/>
<circle cx="1284.2" cy="196" r="1.3" fill="url(#b8)"/>
<circle cx="1189.5" cy="78.8" r="1.3" fill="url(#b8)"/>
<circle cx="1236.8" cy="137.4" r="1.3" fill="url(#b8)"/>
<circle cx="1159.1" cy="97.7" r="1.3" fill="url(#b8)"/>
<circle cx="1206.4" cy="156.2" r="1.3" fill="url(#b8)"/>
<circle cx="1253.7" cy="214.8" r="1.3" fill="url(#b8)"/>
<circle cx="1176" cy="175.1" r="1.3" fill="url(#b8)"/>
<circle cx="1145.5" cy="193.9" r="1.3" fill="url(#b8)"/>
<circle cx="1297.8" cy="80.9" r="1.3" fill="url(#b8)"/>
<circle cx="1267.3" cy="99.7" r="1.3" fill="url(#b8)"/>
<circle cx="1314.6" cy="158.3" r="1.3" fill="url(#b8)"/>
<circle cx="1284.2" cy="177.1" r="1.3" fill="url(#b8)"/>
<circle cx="1189.5" cy="60" r="1.3" fill="url(#b8)"/>
<circle cx="1236.8" cy="118.6" r="1.3" fill="url(#b8)"/>
<circle cx="1253.7" cy="196" r="1.3" fill="url(#b8)"/>
<circle cx="1159.1" cy="78.8" r="1.3" fill="url(#b8)"/>
<circle cx="1206.4" cy="137.4" r="1.3" fill="url(#b8)"/>
<circle cx="1176" cy="156.2" r="1.3" fill="url(#b8)"/>
<circle cx="1223.2" cy="214.8" r="1.3" fill="url(#b8)"/>
<circle cx="1145.5" cy="175.1" r="1.3" fill="url(#b8)"/>
<circle cx="1297.8" cy="62.1" r="1.3" fill="url(#b8)"/>
<circle cx="1267.3" cy="80.9" r="1.3" fill="url(#b8)"/>
<circle cx="1314.6" cy="139.5" r="1.3" fill="url(#b8)"/>
<circle cx="1284.2" cy="158.3" r="1.3" fill="url(#b8)"/>
<circle cx="1331.5" cy="216.9" r="1.3" fill="url(#b8)"/>
<circle cx="1236.8" cy="99.7" r="1.3" fill="url(#b8)"/>
<circle cx="1159.1" cy="60" r="1.3" fill="url(#b8)"/>
<circle cx="1206.4" cy="118.6" r="1.3" fill="url(#b8)"/>
<circle cx="1253.7" cy="177.1" r="1.3" fill="url(#b8)"/>
<circle cx="1176" cy="137.4" r="1.3" fill="url(#b8)"/>
<circle cx="1223.2" cy="196" r="1.3" fill="url(#b8)"/>
<circle cx="1145.5" cy="156.2" r="1.3" fill="url(#b8)"/>
<circle cx="1192.8" cy="214.8" r="1.3" fill="url(#b8)"/>
<circle cx="1267.3" cy="62" r="1.3" fill="url(#b8)"/>
<circle cx="1314.6" cy="120.6" r="1.3" fill="url(#b8)"/>
<circle cx="1284.2" cy="139.4" r="1.3" fill="url(#b8)"/>
<circle cx="1331.5" cy="198" r="1.3" fill="url(#b8)"/>
<circle cx="1236.8" cy="80.9" r="1.3" fill="url(#b8)"/>
<circle cx="1301" cy="216.8" r="1.3" fill="url(#b8)"/>
<circle cx="1206.4" cy="99.7" r="1.3" fill="url(#b8)"/>
<circle cx="1253.7" cy="158.3" r="1.3" fill="url(#b8)"/>
<circle cx="1176" cy="118.5" r="1.3" fill="url(#b8)"/>
<circle cx="1223.2" cy="177.1" r="1.3" fill="url(#b8)"/>
<circle cx="1145.5" cy="137.4" r="1.3" fill="url(#b8)"/>
<circle cx="1192.8" cy="195.9" r="1.3" fill="url(#b8)"/>
<circle cx="1162.3" cy="214.8" r="1.3" fill="url(#b8)"/>
<circle cx="1314.6" cy="101.8" r="1.3" fill="url(#b8)"/>
<circle cx="1284.2" cy="120.6" r="1.3" fill="url(#b8)"/>
<circle cx="1331.5" cy="179.2" r="1.3" fill="url(#b8)"/>
<circle cx="1236.8" cy="62" r="1.3" fill="url(#b8)"/>
<circle cx="1206.4" cy="80.8" r="1.3" fill="url(#b8)"/>
<circle cx="1253.7" cy="139.4" r="1.3" fill="url(#b8)"/>
<circle cx="1301" cy="198" r="1.3" fill="url(#b8)"/>
<circle cx="1270.5" cy="216.8" r="1.3" fill="url(#b8)"/>
<circle cx="1176" cy="99.7" r="1.3" fill="url(#b8)"/>
<circle cx="1223.2" cy="158.2" r="1.3" fill="url(#b8)"/>
<circle cx="1145.5" cy="118.5" r="1.3" fill="url(#b8)"/>
<circle cx="1192.8" cy="177.1" r="1.3" fill="url(#b8)"/>
<circle cx="1162.3" cy="195.9" r="1.3" fill="url(#b8)"/>
<circle cx="1131.9" cy="214.7" r="1.3" fill="url(#b8)"/>
<circle cx="1314.6" cy="82.9" r="1.3" fill="url(#b8)"/>
<circle cx="1284.2" cy="101.7" r="1.3" fill="url(#b8)"/>
<circle cx="1331.5" cy="160.3" r="1.3" fill="url(#b8)"/>
<circle cx="1301" cy="179.1" r="1.3" fill="url(#b8)"/>
<circle cx="1206.4" cy="62" r="1.3" fill="url(#b8)"/>
<circle cx="1253.7" cy="120.6" r="1.3" fill="url(#b8)"/>
<circle cx="1176" cy="80.8" r="1.3" fill="url(#b8)"/>
<circle cx="1223.2" cy="139.4" r="1.3" fill="url(#b8)"/>
<circle cx="1270.5" cy="198" r="1.3" fill="url(#b8)"/>
<circle cx="1192.8" cy="158.2" r="1.3" fill="url(#b8)"/>
<circle cx="1240.1" cy="216.8" r="1.3" fill="url(#b8)"/>
<circle cx="1145.5" cy="99.7" r="1.3" fill="url(#b8)"/>
<circle cx="1162.3" cy="177.1" r="1.3" fill="url(#b8)"/>
<circle cx="1131.9" cy="195.9" r="1.3" fill="url(#b8)"/>
<circle cx="1314.6" cy="64.1" r="1.3" fill="url(#b8)"/>
<circle cx="1284.2" cy="82.9" r="1.3" fill="url(#b8)"/>
<circle cx="1331.5" cy="141.5" r="1.3" fill="url(#b8)"/>
<circle cx="1301" cy="160.3" r="1.3" fill="url(#b8)"/>
<circle cx="1348.3" cy="218.9" r="1.3" fill="url(#b8)"/>
<circle cx="1253.7" cy="101.7" r="1.3" fill="url(#b8)"/>
<circle cx="1176" cy="62" r="1.3" fill="url(#b8)"/>
<circle cx="1270.5" cy="179.1" r="1.3" fill="url(#b8)"/>
<circle cx="1223.2" cy="120.6" r="1.3" fill="url(#b8)"/>
<circle cx="1145.5" cy="80.8" r="1.3" fill="url(#b8)"/>
<circle cx="1192.8" cy="139.4" r="1.3" fill="url(#b8)"/>
<circle cx="1240.1" cy="198" r="1.3" fill="url(#b8)"/>
<circle cx="1162.3" cy="158.2" r="1.3" fill="url(#b8)"/>
<circle cx="1209.7" cy="216.8" r="1.3" fill="url(#b8)"/>
<circle cx="1131.9" cy="177" r="1.3" fill="url(#b8)"/>
<circle cx="1284.2" cy="64" r="1.3" fill="url(#b8)"/>
<circle cx="1331.5" cy="122.6" r="1.3" fill="url(#b8)"/>
<circle cx="1301" cy="141.4" r="1.3" fill="url(#b8)"/>
<circle cx="1253.7" cy="82.9" r="1.3" fill="url(#b8)"/>
<circle cx="1348.3" cy="200" r="1.3" fill="url(#b8)"/>
<circle cx="1317.9" cy="218.8" r="1.3" fill="url(#b8)"/>
<circle cx="1223.2" cy="101.7" r="1.3" fill="url(#b8)"/>
<circle cx="1270.5" cy="160.3" r="1.3" fill="url(#b8)"/>
<circle cx="1145.5" cy="62" r="1.3" fill="url(#b8)"/>
<circle cx="1192.8" cy="120.5" r="1.3" fill="url(#b8)"/>
<circle cx="1240.1" cy="179.1" r="1.3" fill="url(#b8)"/>
<circle cx="1162.3" cy="139.4" r="1.3" fill="url(#b8)"/>
<circle cx="1209.7" cy="197.9" r="1.3" fill="url(#b8)"/>
<circle cx="1131.9" cy="158.2" r="1.3" fill="url(#b8)"/>
<circle cx="1179.2" cy="216.8" r="1.3" fill="url(#b8)"/>
<circle cx="1331.5" cy="103.8" r="1.3" fill="url(#b8)"/>
<circle cx="1301" cy="122.6" r="1.3" fill="url(#b8)"/>
<circle cx="1253.7" cy="64" r="1.3" fill="url(#b8)"/>
<circle cx="1348.3" cy="181.2" r="1.3" fill="url(#b8)"/>
<circle cx="1317.9" cy="200" r="1.3" fill="url(#b8)"/>
<circle cx="1270.5" cy="141.4" r="1.3" fill="url(#b8)"/>
<circle cx="1223.2" cy="82.8" r="1.3" fill="url(#b8)"/>
<circle cx="1192.8" cy="101.7" r="1.3" fill="url(#b8)"/>
<circle cx="1240.1" cy="160.2" r="1.3" fill="url(#b8)"/>
<circle cx="1287.4" cy="218.8" r="1.3" fill="url(#b8)"/>
<circle cx="1162.3" cy="120.5" r="1.3" fill="url(#b8)"/>
<circle cx="1209.7" cy="179.1" r="1.3" fill="url(#b8)"/>
<circle cx="1131.9" cy="139.3" r="1.3" fill="url(#b8)"/>
<circle cx="1179.2" cy="197.9" r="1.3" fill="url(#b8)"/>
<circle cx="1148.8" cy="216.7" r="1.3" fill="url(#b8)"/>
<circle cx="1331.5" cy="84.9" r="1.3" fill="url(#b8)"/>
<circle cx="1301" cy="103.7" r="1.3" fill="url(#b8)"/>
<circle cx="1348.3" cy="162.3" r="1.3" fill="url(#b8)"/>
<circle cx="1317.9" cy="181.1" r="1.3" fill="url(#b8)"/>
<circle cx="1270.5" cy="122.6" r="1.3" fill="url(#b8)"/>
<circle cx="1223.2" cy="64" r="1.3" fill="url(#b8)"/>
<circle cx="1240.1" cy="141.4" r="1.3" fill="url(#b8)"/>
<circle cx="1192.8" cy="82.8" r="1.3" fill="url(#b8)"/>
<circle cx="1287.4" cy="200" r="1.3" fill="url(#b8)"/>
<circle cx="1162.3" cy="101.7" r="1.3" fill="url(#b8)"/>
<circle cx="1209.7" cy="160.2" r="1.3" fill="url(#b8)"/>
<circle cx="1257" cy="218.8" r="1.3" fill="url(#b8)"/>
<circle cx="1131.9" cy="120.5" r="1.3" fill="url(#b8)"/>
<circle cx="1179.2" cy="179.1" r="1.3" fill="url(#b8)"/>
<circle cx="1148.8" cy="197.9" r="1.3" fill="url(#b8)"/>
<circle cx="1118.3" cy="216.7" r="1.3" fill="url(#b8)"/>
<circle cx="1331.5" cy="66.1" r="1.3" fill="url(#b8)"/>
<circle cx="1301" cy="84.9" r="1.3" fill="url(#b8)"/>
<circle cx="1348.3" cy="143.5" r="1.3" fill="url(#b8)"/>
<circle cx="1317.9" cy="162.3" r="1.3" fill="url(#b8)"/>
<circle cx="1270.5" cy="103.7" r="1.3" fill="url(#b8)"/>
<circle cx="1192.8" cy="64" r="1.3" fill="url(#b8)"/>
<circle cx="1240.1" cy="122.6" r="1.3" fill="url(#b8)"/>
<circle cx="1287.4" cy="181.1" r="1.3" fill="url(#b8)"/>
<circle cx="1257" cy="200" r="1.3" fill="url(#b8)"/>
<circle cx="1162.3" cy="82.8" r="1.3" fill="url(#b8)"/>
<circle cx="1209.7" cy="141.4" r="1.3" fill="url(#b8)"/>
<circle cx="1131.9" cy="101.6" r="1.3" fill="url(#b8)"/>
<circle cx="1179.2" cy="160.2" r="1.3" fill="url(#b8)"/>
<circle cx="1226.5" cy="218.8" r="1.3" fill="url(#b8)"/>
<circle cx="1148.8" cy="179" r="1.3" fill="url(#b8)"/>
<circle cx="1118.3" cy="197.9" r="1.3" fill="url(#b8)"/>
<circle cx="1301" cy="66" r="1.3" fill="url(#b8)"/>
<circle cx="1348.3" cy="124.6" r="1.3" fill="url(#b8)"/>
<circle cx="1317.9" cy="143.4" r="1.3" fill="url(#b8)"/>
<circle cx="1270.5" cy="84.9" r="1.3" fill="url(#b8)"/>
<circle cx="1334.7" cy="220.8" r="1.3" fill="url(#b8)"/>
<circle cx="1240.1" cy="103.7" r="1.3" fill="url(#b8)"/>
<circle cx="1287.4" cy="162.3" r="1.3" fill="url(#b8)"/>
<circle cx="1162.3" cy="64" r="1.3" fill="url(#b8)"/>
<circle cx="1257" cy="181.1" r="1.3" fill="url(#b8)"/>
<circle cx="1209.7" cy="122.5" r="1.3" fill="url(#b8)"/>
<circle cx="1226.5" cy="199.9" r="1.3" fill="url(#b8)"/>
<circle cx="1131.9" cy="82.8" r="1.3" fill="url(#b8)"/>
<circle cx="1179.2" cy="141.4" r="1.3" fill="url(#b8)"/>
<circle cx="1148.8" cy="160.2" r="1.3" fill="url(#b8)"/>
<circle cx="1196" cy="218.8" r="1.3" fill="url(#b8)"/>
<circle cx="1118.3" cy="179" r="1.3" fill="url(#b8)"/>
<circle cx="1348.3" cy="105.8" r="1.3" fill="url(#b8)"/>
<circle cx="1317.9" cy="124.6" r="1.3" fill="url(#b8)"/>
<circle cx="1270.5" cy="66" r="1.3" fill="url(#b8)"/>
<circle cx="1334.7" cy="202" r="1.3" fill="url(#b8)"/>
<circle cx="1240.1" cy="84.8" r="1.3" fill="url(#b8)"/>
<circle cx="1287.4" cy="143.4" r="1.3" fill="url(#b8)"/>
<circle cx="1304.2" cy="220.8" r="1.3" fill="url(#b8)"/>
<circle cx="1257" cy="162.2" r="1.3" fill="url(#b8)"/>
<circle cx="1209.7" cy="103.7" r="1.3" fill="url(#b8)"/>
<circle cx="1131.9" cy="63.9" r="1.3" fill="url(#b8)"/>
<circle cx="1179.2" cy="122.5" r="1.3" fill="url(#b8)"/>
<circle cx="1226.5" cy="181.1" r="1.3" fill="url(#b8)"/>
<circle cx="1148.8" cy="141.3" r="1.3" fill="url(#b8)"/>
<circle cx="1196" cy="199.9" r="1.3" fill="url(#b8)"/>
<circle cx="1118.3" cy="160.2" r="1.3" fill="url(#b8)"/>
<circle cx="1165.6" cy="218.7" r="1.3" fill="url(#b8)"/>
<circle cx="1348.3" cy="86.9" r="1.3" fill="url(#b8)"/>
<circle cx="1317.9" cy="105.7" r="1.3" fill="url(#b8)"/>
<circle cx="1334.7" cy="183.1" r="1.3" fill="url(#b8)"/>
<circle cx="1240.1" cy="66" r="1.3" fill="url(#b8)"/>
<circle cx="1287.4" cy="124.6" r="1.3" fill="url(#b8)"/>
<circle cx="1257" cy="143.4" r="1.3" fill="url(#b8)"/>
<circle cx="1304.2" cy="202" r="1.3" fill="url(#b8)"/>
<circle cx="1209.7" cy="84.8" r="1.3" fill="url(#b8)"/>
<circle cx="1179.2" cy="103.7" r="1.3" fill="url(#b8)"/>
<circle cx="1226.5" cy="162.2" r="1.3" fill="url(#b8)"/>
<circle cx="1273.8" cy="220.8" r="1.3" fill="url(#b8)"/>
<circle cx="1148.8" cy="122.5" r="1.3" fill="url(#b8)"/>
<circle cx="1196" cy="181.1" r="1.3" fill="url(#b8)"/>
<circle cx="1118.3" cy="141.3" r="1.3" fill="url(#b8)"/>
<circle cx="1165.6" cy="199.9" r="1.3" fill="url(#b8)"/>
<circle cx="1135.1" cy="218.7" r="1.3" fill="url(#b8)"/>
<circle cx="1348.3" cy="68.1" r="1.3" fill="url(#b8)"/>
<circle cx="1317.9" cy="86.9" r="1.3" fill="url(#b8)"/>
<circle cx="1334.7" cy="164.3" r="1.3" fill="url(#b8)"/>
<circle cx="1287.4" cy="105.7" r="1.3" fill="url(#b8)"/>
<circle cx="1257" cy="124.6" r="1.3" fill="url(#b8)"/>
<circle cx="1304.2" cy="183.1" r="1.3" fill="url(#b8)"/>
<circle cx="1209.7" cy="66" r="1.3" fill="url(#b8)"/>
<circle cx="1226.5" cy="143.4" r="1.3" fill="url(#b8)"/>
<circle cx="1179.2" cy="84.8" r="1.3" fill="url(#b8)"/>
<circle cx="1273.8" cy="202" r="1.3" fill="url(#b8)"/>
<circle cx="1243.4" cy="220.8" r="1.3" fill="url(#b8)"/>
<circle cx="1148.8" cy="103.6" r="1.3" fill="url(#b8)"/>
<circle cx="1196" cy="162.2" r="1.3" fill="url(#b8)"/>
<circle cx="1118.3" cy="122.5" r="1.3" fill="url(#b8)"/>
<circle cx="1165.6" cy="181" r="1.3" fill="url(#b8)"/>
<circle cx="1135.1" cy="199.9" r="1.3" fill="url(#b8)"/>
<circle cx="1104.7" cy="218.7" r="1.3" fill="url(#b8)"/>
<circle cx="1317.9" cy="68" r="1.3" fill="url(#b8)"/>
<circle cx="1334.7" cy="145.4" r="1.3" fill="url(#b8)"/>
<circle cx="1287.4" cy="86.9" r="1.3" fill="url(#b8)"/>
<circle cx="1304.2" cy="164.3" r="1.3" fill="url(#b8)"/>
<circle cx="1257" cy="105.7" r="1.3" fill="url(#b8)"/>
<circle cx="1179.2" cy="66" r="1.3" fill="url(#b8)"/>
<circle cx="1226.5" cy="124.5" r="1.3" fill="url(#b8)"/>
<circle cx="1273.8" cy="183.1" r="1.3" fill="url(#b8)"/>
<circle cx="1243.4" cy="201.9" r="1.3" fill="url(#b8)"/>
<circle cx="1148.8" cy="84.8" r="1.3" fill="url(#b8)"/>
<circle cx="1196" cy="143.4" r="1.3" fill="url(#b8)"/>
<circle cx="1118.3" cy="103.6" r="1.3" fill="url(#b8)"/>
<circle cx="1165.6" cy="162.2" r="1.3" fill="url(#b8)"/>
<circle cx="1212.9" cy="220.8" r="1.3" fill="url(#b8)"/>
<circle cx="1135.1" cy="181" r="1.3" fill="url(#b8)"/>
<circle cx="1104.7" cy="199.9" r="1.3" fill="url(#b8)"/>
<circle cx="1334.7" cy="126.6" r="1.3" fill="url(#b8)"/>
<circle cx="1287.4" cy="68" r="1.3" fill="url(#b8)"/>
<circle cx="1304.2" cy="145.4" r="1.3" fill="url(#b8)"/>
<circle cx="1257" cy="86.8" r="1.3" fill="url(#b8)"/>
<circle cx="1321.1" cy="222.8" r="1.3" fill="url(#b8)"/>
<circle cx="1226.5" cy="105.7" r="1.3" fill="url(#b8)"/>
<circle cx="1273.8" cy="164.2" r="1.3" fill="url(#b8)"/>
<circle cx="1243.4" cy="183.1" r="1.3" fill="url(#b8)"/>
<circle cx="1148.8" cy="65.9" r="1.3" fill="url(#b8)"/>
<circle cx="1196" cy="124.5" r="1.3" fill="url(#b8)"/>
<circle cx="1212.9" cy="201.9" r="1.3" fill="url(#b8)"/>
<circle cx="1118.3" cy="84.8" r="1.3" fill="url(#b8)"/>
<circle cx="1165.6" cy="143.3" r="1.3" fill="url(#b8)"/>
<circle cx="1135.1" cy="162.2" r="1.3" fill="url(#b8)"/>
<circle cx="1182.5" cy="220.7" r="1.3" fill="url(#b8)"/>
<circle cx="1104.7" cy="181" r="1.3" fill="url(#b8)"/>
<circle cx="1334.7" cy="107.7" r="1.3" fill="url(#b8)"/>
<circle cx="1304.2" cy="126.6" r="1.3" fill="url(#b8)"/>
<circle cx="1257" cy="68" r="1.3" fill="url(#b8)"/>
<circle cx="1226.5" cy="86.8" r="1.3" fill="url(#b8)"/>
<circle cx="1273.8" cy="145.4" r="1.3" fill="url(#b8)"/>
<circle cx="1321.1" cy="204" r="1.3" fill="url(#b8)"/>
<circle cx="1290.7" cy="222.8" r="1.3" fill="url(#b8)"/>
<circle cx="1243.4" cy="164.2" r="1.3" fill="url(#b8)"/>
<circle cx="1196" cy="105.7" r="1.3" fill="url(#b8)"/>
<circle cx="1118.3" cy="65.9" r="1.3" fill="url(#b8)"/>
<circle cx="1165.6" cy="124.5" r="1.3" fill="url(#b8)"/>
<circle cx="1212.9" cy="183.1" r="1.3" fill="url(#b8)"/>
<circle cx="1135.1" cy="143.3" r="1.3" fill="url(#b8)"/>
<circle cx="1182.5" cy="201.9" r="1.3" fill="url(#b8)"/>
<circle cx="1104.7" cy="162.2" r="1.3" fill="url(#b8)"/>
<circle cx="1152" cy="220.7" r="1.3" fill="url(#b8)"/>
<circle cx="1334.7" cy="88.9" r="1.3" fill="url(#b8)"/>
<circle cx="1304.2" cy="107.7" r="1.3" fill="url(#b8)"/>
<circle cx="1226.5" cy="68" r="1.3" fill="url(#b8)"/>
<circle cx="1273.8" cy="126.6" r="1.3" fill="url(#b8)"/>
<circle cx="1321.1" cy="185.1" r="1.3" fill="url(#b8)"/>
<circle cx="1243.4" cy="145.4" r="1.3" fill="url(#b8)"/>
<circle cx="1290.7" cy="204" r="1.3" fill="url(#b8)"/>
<circle cx="1196" cy="86.8" r="1.3" fill="url(#b8)"/>
<circle cx="1165.6" cy="105.6" r="1.3" fill="url(#b8)"/>
<circle cx="1212.9" cy="164.2" r="1.3" fill="url(#b8)"/>
<circle cx="1260.2" cy="222.8" r="1.3" fill="url(#b8)"/>
<circle cx="1135.1" cy="124.5" r="1.3" fill="url(#b8)"/>
<circle cx="1182.5" cy="183" r="1.3" fill="url(#b8)"/>
<circle cx="1152" cy="201.9" r="1.3" fill="url(#b8)"/>
<circle cx="1104.7" cy="143.3" r="1.3" fill="url(#b8)"/>
<circle cx="1121.5" cy="220.7" r="1.3" fill="url(#b8)"/>
<circle cx="1334.7" cy="70" r="1.3" fill="url(#b8)"/>
<circle cx="1304.2" cy="88.9" r="1.3" fill="url(#b8)"/>
<circle cx="1321.1" cy="166.3" r="1.3" fill="url(#b8)"/>
<circle cx="1273.8" cy="107.7" r="1.3" fill="url(#b8)"/>
<circle cx="1243.4" cy="126.5" r="1.3" fill="url(#b8)"/>
<circle cx="1290.7" cy="185.1" r="1.3" fill="url(#b8)"/>
<circle cx="1196" cy="68" r="1.3" fill="url(#b8)"/>
<circle cx="1212.9" cy="145.4" r="1.3" fill="url(#b8)"/>
<circle cx="1165.6" cy="86.8" r="1.3" fill="url(#b8)"/>
<circle cx="1260.2" cy="203.9" r="1.3" fill="url(#b8)"/>
<circle cx="1229.8" cy="222.8" r="1.3" fill="url(#b8)"/>
<circle cx="1135.1" cy="105.6" r="1.3" fill="url(#b8)"/>
<circle cx="1182.5" cy="164.2" r="1.3" fill="url(#b8)"/>
<circle cx="1104.7" cy="124.5" r="1.3" fill="url(#b8)"/>
<circle cx="1152" cy="183" r="1.3" fill="url(#b8)"/>
<circle cx="1121.5" cy="201.9" r="1.3" fill="url(#b8)"/>
<circle cx="1304.2" cy="70" r="1.3" fill="url(#b8)"/>
<circle cx="1273.8" cy="88.8" r="1.3" fill="url(#b8)"/>
<circle cx="1321.1" cy="147.4" r="1.3" fill="url(#b8)"/>
<circle cx="1290.7" cy="166.2" r="1.3" fill="url(#b8)"/>
<circle cx="1243.4" cy="107.7" r="1.3" fill="url(#b8)"/>
<circle cx="1165.6" cy="67.9" r="1.3" fill="url(#b8)"/>
<circle cx="1212.9" cy="126.5" r="1.3" fill="url(#b8)"/>
<circle cx="1260.2" cy="185.1" r="1.3" fill="url(#b8)"/>
<circle cx="1229.8" cy="203.9" r="1.3" fill="url(#b8)"/>
<circle cx="1135.1" cy="86.8" r="1.3" fill="url(#b8)"/>
<circle cx="1182.5" cy="145.3" r="1.3" fill="url(#b8)"/>
<circle cx="1152" cy="164.2" r="1.3" fill="url(#b8)"/>
<circle cx="1199.3" cy="222.7" r="1.3" fill="url(#b8)"/>
<circle cx="1104.7" cy="105.6" r="1.3" fill="url(#b8)"/>
<circle cx="1121.5" cy="183" r="1.3" fill="url(#b8)"/>
<circle cx="1321.1" cy="128.6" r="1.3" fill="url(#b8)"/>
<circle cx="1273.8" cy="70" r="1.3" fill="url(#b8)"/>
<circle cx="1290.7" cy="147.4" r="1.3" fill="url(#b8)"/>
<circle cx="1243.4" cy="88.8" r="1.3" fill="url(#b8)"/>
<circle cx="1307.5" cy="224.8" r="1.3" fill="url(#b8)"/>
<circle cx="1212.9" cy="107.7" r="1.3" fill="url(#b8)"/>
<circle cx="1260.2" cy="166.2" r="1.3" fill="url(#b8)"/>
<circle cx="1229.8" cy="185.1" r="1.3" fill="url(#b8)"/>
<circle cx="1135.1" cy="67.9" r="1.3" fill="url(#b8)"/>
<circle cx="1182.5" cy="126.5" r="1.3" fill="url(#b8)"/>
<circle cx="1199.3" cy="203.9" r="1.3" fill="url(#b8)"/>
<circle cx="1152" cy="145.3" r="1.3" fill="url(#b8)"/>
<circle cx="1104.7" cy="86.8" r="1.3" fill="url(#b8)"/>
<circle cx="1121.5" cy="164.2" r="1.3" fill="url(#b8)"/>
<circle cx="1168.8" cy="222.7" r="1.3" fill="url(#b8)"/>
<circle cx="1321.1" cy="109.7" r="1.3" fill="url(#b8)"/>
<circle cx="1290.7" cy="128.6" r="1.3" fill="url(#b8)"/>
<circle cx="1243.4" cy="70" r="1.3" fill="url(#b8)"/>
<circle cx="1212.9" cy="88.8" r="1.3" fill="url(#b8)"/>
<circle cx="1260.2" cy="147.4" r="1.3" fill="url(#b8)"/>
<circle cx="1307.5" cy="206" r="1.3" fill="url(#b8)"/>
<circle cx="1277.1" cy="224.8" r="1.3" fill="url(#b8)"/>
<circle cx="1229.8" cy="166.2" r="1.3" fill="url(#b8)"/>
<circle cx="1182.5" cy="107.6" r="1.3" fill="url(#b8)"/>
<circle cx="1104.7" cy="67.9" r="1.3" fill="url(#b8)"/>
<circle cx="1152" cy="126.5" r="1.3" fill="url(#b8)"/>
<circle cx="1199.3" cy="185" r="1.3" fill="url(#b8)"/>
<circle cx="1121.5" cy="145.3" r="1.3" fill="url(#b8)"/>
<circle cx="1168.8" cy="203.9" r="1.3" fill="url(#b8)"/>
<circle cx="1138.4" cy="222.7" r="1.3" fill="url(#b8)"/>
<circle cx="1321.1" cy="90.9" r="1.3" fill="url(#b8)"/>
<circle cx="1290.7" cy="109.7" r="1.3" fill="url(#b8)"/>
<circle cx="1212.9" cy="70" r="1.3" fill="url(#b8)"/>
<circle cx="1260.2" cy="128.5" r="1.3" fill="url(#b8)"/>
<circle cx="1307.5" cy="187.1" r="1.3" fill="url(#b8)"/>
<circle cx="1229.8" cy="147.4" r="1.3" fill="url(#b8)"/>
<circle cx="1277.1" cy="205.9" r="1.3" fill="url(#b8)"/>
<circle cx="1182.5" cy="88.8" r="1.3" fill="url(#b8)"/>
<circle cx="1152" cy="107.6" r="1.3" fill="url(#b8)"/>
<circle cx="1199.3" cy="166.2" r="1.3" fill="url(#b8)"/>
<circle cx="1246.6" cy="224.8" r="1.3" fill="url(#b8)"/>
<circle cx="1121.5" cy="126.5" r="1.3" fill="url(#b8)"/>
<circle cx="1168.8" cy="185" r="1.3" fill="url(#b8)"/>
<circle cx="1138.4" cy="203.9" r="1.3" fill="url(#b8)"/>
<circle cx="1321.1" cy="72" r="1.3" fill="url(#b8)"/>
<circle cx="1290.7" cy="90.8" r="1.3" fill="url(#b8)"/>
<circle cx="1307.5" cy="168.2" r="1.3" fill="url(#b8)"/>
<circle cx="1260.2" cy="109.7" r="1.3" fill="url(#b8)"/>
<circle cx="1229.8" cy="128.5" r="1.3" fill="url(#b8)"/>
<circle cx="1277.1" cy="187.1" r="1.3" fill="url(#b8)"/>
<circle cx="1182.5" cy="69.9" r="1.3" fill="url(#b8)"/>
<circle cx="1199.3" cy="147.3" r="1.3" fill="url(#b8)"/>
<circle cx="1152" cy="88.8" r="1.3" fill="url(#b8)"/>
<circle cx="1246.6" cy="205.9" r="1.3" fill="url(#b8)"/>
<circle cx="1216.2" cy="224.7" r="1.3" fill="url(#b8)"/>
<circle cx="1121.5" cy="107.6" r="1.3" fill="url(#b8)"/>
<circle cx="1168.8" cy="166.2" r="1.3" fill="url(#b8)"/>
<circle cx="1138.4" cy="185" r="1.3" fill="url(#b8)"/>
<circle cx="1290.7" cy="72" r="1.3" fill="url(#b8)"/>
<circle cx="1260.2" cy="90.8" r="1.3" fill="url(#b8)"/>
<circle cx="1307.5" cy="149.4" r="1.3" fill="url(#b8)"/>
<circle cx="1277.1" cy="168.2" r="1.3" fill="url(#b8)"/>
<circle cx="1229.8" cy="109.7" r="1.3" fill="url(#b8)"/>
<circle cx="1152" cy="69.9" r="1.3" fill="url(#b8)"/>
<circle cx="1199.3" cy="128.5" r="1.3" fill="url(#b8)"/>
<circle cx="1246.6" cy="187.1" r="1.3" fill="url(#b8)"/>
<circle cx="1216.2" cy="205.9" r="1.3" fill="url(#b8)"/>
<circle cx="1121.5" cy="88.8" r="1.3" fill="url(#b8)"/>
<circle cx="1168.8" cy="147.3" r="1.3" fill="url(#b8)"/>
<circle cx="1138.4" cy="166.2" r="1.3" fill="url(#b8)"/>
<circle cx="1185.7" cy="224.7" r="1.3" fill="url(#b8)"/>
<circle cx="1307.5" cy="130.6" r="1.3" fill="url(#b8)"/>
<circle cx="1260.2" cy="72" r="1.3" fill="url(#b8)"/>
<circle cx="1277.1" cy="149.4" r="1.3" fill="url(#b8)"/>
<circle cx="1229.8" cy="90.8" r="1.3" fill="url(#b8)"/>
<circle cx="1293.9" cy="226.8" r="1.3" fill="url(#b8)"/>
<circle cx="1199.3" cy="109.6" r="1.3" fill="url(#b8)"/>
<circle cx="1246.6" cy="168.2" r="1.3" fill="url(#b8)"/>
<circle cx="1216.2" cy="187" r="1.3" fill="url(#b8)"/>
<circle cx="1121.5" cy="69.9" r="1.3" fill="url(#b8)"/>
<circle cx="1168.8" cy="128.5" r="1.3" fill="url(#b8)"/>
<circle cx="1185.7" cy="205.9" r="1.3" fill="url(#b8)"/>
<circle cx="1138.4" cy="147.3" r="1.3" fill="url(#b8)"/>
<circle cx="1155.2" cy="224.7" r="1.3" fill="url(#b8)"/>
<circle cx="1307.5" cy="111.7" r="1.3" fill="url(#b8)"/>
<circle cx="1277.1" cy="130.5" r="1.3" fill="url(#b8)"/>
<circle cx="1229.8" cy="72" r="1.3" fill="url(#b8)"/>
<circle cx="1199.3" cy="90.8" r="1.3" fill="url(#b8)"/>
<circle cx="1246.6" cy="149.4" r="1.3" fill="url(#b8)"/>
<circle cx="1293.9" cy="207.9" r="1.3" fill="url(#b8)"/>
<circle cx="1263.5" cy="226.8" r="1.3" fill="url(#b8)"/>
<circle cx="1216.2" cy="168.2" r="1.3" fill="url(#b8)"/>
<circle cx="1168.8" cy="109.6" r="1.3" fill="url(#b8)"/>
<circle cx="1138.4" cy="128.5" r="1.3" fill="url(#b8)"/>
<circle cx="1185.7" cy="187" r="1.3" fill="url(#b8)"/>
<circle cx="1155.2" cy="205.9" r="1.3" fill="url(#b8)"/>
<circle cx="1307.5" cy="92.8" r="1.3" fill="url(#b8)"/>
<circle cx="1277.1" cy="111.7" r="1.3" fill="url(#b8)"/>
<circle cx="1199.3" cy="71.9" r="1.3" fill="url(#b8)"/>
<circle cx="1246.6" cy="130.5" r="1.3" fill="url(#b8)"/>
<circle cx="1293.9" cy="189.1" r="1.3" fill="url(#b8)"/>
<circle cx="1216.2" cy="149.3" r="1.3" fill="url(#b8)"/>
<circle cx="1263.5" cy="207.9" r="1.3" fill="url(#b8)"/>
<circle cx="1168.8" cy="90.8" r="1.3" fill="url(#b8)"/>
<circle cx="1138.4" cy="109.6" r="1.3" fill="url(#b8)"/>
<circle cx="1185.7" cy="168.2" r="1.3" fill="url(#b8)"/>
<circle cx="1233" cy="226.7" r="1.3" fill="url(#b8)"/>
<circle cx="1155.2" cy="187" r="1.3" fill="url(#b8)"/>
<circle cx="1307.5" cy="74" r="1.3" fill="url(#b8)"/>
<circle cx="1277.1" cy="92.8" r="1.3" fill="url(#b8)"/>
<circle cx="1293.9" cy="170.2" r="1.3" fill="url(#b8)"/>
<circle cx="1246.6" cy="111.7" r="1.3" fill="url(#b8)"/>
<circle cx="1216.2" cy="130.5" r="1.3" fill="url(#b8)"/>
<circle cx="1263.5" cy="189.1" r="1.3" fill="url(#b8)"/>
<circle cx="1168.8" cy="71.9" r="1.3" fill="url(#b8)"/>
<circle cx="1185.7" cy="149.3" r="1.3" fill="url(#b8)"/>
<circle cx="1138.4" cy="90.8" r="1.3" fill="url(#b8)"/>
<circle cx="1233" cy="207.9" r="1.3" fill="url(#b8)"/>
<circle cx="1202.5" cy="226.7" r="1.3" fill="url(#b8)"/>
<circle cx="1155.2" cy="168.2" r="1.3" fill="url(#b8)"/>
<circle cx="1277.1" cy="74" r="1.3" fill="url(#b8)"/>
<circle cx="1246.6" cy="92.8" r="1.3" fill="url(#b8)"/>
<circle cx="1293.9" cy="151.4" r="1.3" fill="url(#b8)"/>
<circle cx="1263.5" cy="170.2" r="1.3" fill="url(#b8)"/>
<circle cx="1216.2" cy="111.6" r="1.3" fill="url(#b8)"/>
<circle cx="1138.4" cy="71.9" r="1.3" fill="url(#b8)"/>
<circle cx="1185.7" cy="130.5" r="1.3" fill="url(#b8)"/>
<circle cx="1233" cy="189" r="1.3" fill="url(#b8)"/>
<circle cx="1202.5" cy="207.9" r="1.3" fill="url(#b8)"/>
<circle cx="1155.2" cy="149.3" r="1.3" fill="url(#b8)"/>
<circle cx="1172.1" cy="226.7" r="1.3" fill="url(#b8)"/>
<circle cx="1293.9" cy="132.5" r="1.3" fill="url(#b8)"/>
<circle cx="1246.6" cy="74" r="1.3" fill="url(#b8)"/>
<circle cx="1263.5" cy="151.4" r="1.3" fill="url(#b8)"/>
<circle cx="1216.2" cy="92.8" r="1.3" fill="url(#b8)"/>
<circle cx="1280.3" cy="228.8" r="1.3" fill="url(#b8)"/>
<circle cx="1185.7" cy="111.6" r="1.3" fill="url(#b8)"/>
<circle cx="1233" cy="170.2" r="1.3" fill="url(#b8)"/>
<circle cx="1202.5" cy="189" r="1.3" fill="url(#b8)"/>
<circle cx="1155.2" cy="130.5" r="1.3" fill="url(#b8)"/>
<circle cx="1172.1" cy="207.9" r="1.3" fill="url(#b8)"/>
<circle cx="1293.9" cy="113.7" r="1.3" fill="url(#b8)"/>
<circle cx="1263.5" cy="132.5" r="1.3" fill="url(#b8)"/>
<circle cx="1216.2" cy="73.9" r="1.3" fill="url(#b8)"/>
<circle cx="1185.7" cy="92.8" r="1.3" fill="url(#b8)"/>
<circle cx="1233" cy="151.3" r="1.3" fill="url(#b8)"/>
<circle cx="1280.3" cy="209.9" r="1.3" fill="url(#b8)"/>
<circle cx="1249.9" cy="228.7" r="1.3" fill="url(#b8)"/>
<circle cx="1202.5" cy="170.2" r="1.3" fill="url(#b8)"/>
<circle cx="1155.2" cy="111.6" r="1.3" fill="url(#b8)"/>
<circle cx="1172.1" cy="189" r="1.3" fill="url(#b8)"/>
<circle cx="1293.9" cy="94.8" r="1.3" fill="url(#b8)"/>
<circle cx="1263.5" cy="113.7" r="1.3" fill="url(#b8)"/>
<circle cx="1185.7" cy="73.9" r="1.3" fill="url(#b8)"/>
<circle cx="1233" cy="132.5" r="1.3" fill="url(#b8)"/>
<circle cx="1280.3" cy="191.1" r="1.3" fill="url(#b8)"/>
<circle cx="1202.5" cy="151.3" r="1.3" fill="url(#b8)"/>
<circle cx="1249.9" cy="209.9" r="1.3" fill="url(#b8)"/>
<circle cx="1155.2" cy="92.8" r="1.3" fill="url(#b8)"/>
<circle cx="1172.1" cy="170.2" r="1.3" fill="url(#b8)"/>
<circle cx="1219.4" cy="228.7" r="1.3" fill="url(#b8)"/>
<circle cx="1293.9" cy="76" r="1.3" fill="url(#b8)"/>
<circle cx="1263.5" cy="94.8" r="1.3" fill="url(#b8)"/>
<circle cx="1280.3" cy="172.2" r="1.3" fill="url(#b8)"/>
<circle cx="1233" cy="113.6" r="1.3" fill="url(#b8)"/>
<circle cx="1202.5" cy="132.5" r="1.3" fill="url(#b8)"/>
<circle cx="1249.9" cy="191" r="1.3" fill="url(#b8)"/>
<circle cx="1155.2" cy="73.9" r="1.3" fill="url(#b8)"/>
<circle cx="1172.1" cy="151.3" r="1.3" fill="url(#b8)"/>
<circle cx="1219.4" cy="209.9" r="1.3" fill="url(#b8)"/>
<circle cx="1189" cy="228.7" r="1.3" fill="url(#b8)"/>
<circle cx="1263.5" cy="76" r="1.3" fill="url(#b8)"/>
<circle cx="1233" cy="94.8" r="1.3" fill="url(#b8)"/>
<circle cx="1280.3" cy="153.4" r="1.3" fill="url(#b8)"/>
<circle cx="1249.9" cy="172.2" r="1.3" fill="url(#b8)"/>
<circle cx="1202.5" cy="113.6" r="1.3" fill="url(#b8)"/>
<circle cx="1172.1" cy="132.5" r="1.3" fill="url(#b8)"/>
<circle cx="1219.4" cy="191" r="1.3" fill="url(#b8)"/>
<circle cx="1189" cy="209.9" r="1.3" fill="url(#b8)"/>
<circle cx="1280.3" cy="134.5" r="1.3" fill="url(#b8)"/>
<circle cx="1233" cy="75.9" r="1.3" fill="url(#b8)"/>
<circle cx="1249.9" cy="153.3" r="1.3" fill="url(#b8)"/>
<circle cx="1202.5" cy="94.8" r="1.3" fill="url(#b8)"/>
<circle cx="1266.7" cy="230.7" r="1.3" fill="url(#b8)"/>
<circle cx="1172.1" cy="113.6" r="1.3" fill="url(#b8)"/>
<circle cx="1219.4" cy="172.2" r="1.3" fill="url(#b8)"/>
<circle cx="1189" cy="191" r="1.3" fill="url(#b8)"/>
<circle cx="1280.3" cy="115.7" r="1.3" fill="url(#b8)"/>
<circle cx="1249.9" cy="134.5" r="1.3" fill="url(#b8)"/>
<circle cx="1202.5" cy="75.9" r="1.3" fill="url(#b8)"/>
<circle cx="1172.1" cy="94.8" r="1.3" fill="url(#b8)"/>
<circle cx="1219.4" cy="153.3" r="1.3" fill="url(#b8)"/>
<circle cx="1266.7" cy="211.9" r="1.3" fill="url(#b8)"/>
<circle cx="1236.2" cy="230.7" r="1.3" fill="url(#b8)"/>
<circle cx="1189" cy="172.2" r="1.3" fill="url(#b8)"/>
<circle cx="1280.3" cy="96.8" r="1.3" fill="url(#b8)"/>
<circle cx="1249.9" cy="115.6" r="1.3" fill="url(#b8)"/>
<circle cx="1172.1" cy="75.9" r="1.3" fill="url(#b8)"/>
<circle cx="1219.4" cy="134.5" r="1.3" fill="url(#b8)"/>
<circle cx="1266.7" cy="193" r="1.3" fill="url(#b8)"/>
<circle cx="1189" cy="153.3" r="1.3" fill="url(#b8)"/>
<circle cx="1236.2" cy="211.9" r="1.3" fill="url(#b8)"/>
<circle cx="1205.8" cy="230.7" r="1.3" fill="url(#b8)"/>
<circle cx="1280.3" cy="78" r="1.3" fill="url(#b8)"/>
<circle cx="1249.9" cy="96.8" r="1.3" fill="url(#b8)"/>
<circle cx="1266.7" cy="174.2" r="1.3" fill="url(#b8)"/>
<circle cx="1219.4" cy="115.6" r="1.3" fill="url(#b8)"/>
<circle cx="1189" cy="134.5" r="1.3" fill="url(#b8)"/>
<circle cx="1236.2" cy="193" r="1.3" fill="url(#b8)"/>
<circle cx="1205.8" cy="211.9" r="1.3" fill="url(#b8)"/>
<circle cx="1249.9" cy="77.9" r="1.3" fill="url(#b8)"/>
<circle cx="1219.4" cy="96.8" r="1.3" fill="url(#b8)"/>
<circle cx="1266.7" cy="155.3" r="1.3" fill="url(#b8)"/>
<circle cx="1236.2" cy="174.2" r="1.3" fill="url(#b8)"/>
<circle cx="1189" cy="115.6" r="1.3" fill="url(#b8)"/>
<circle cx="1205.8" cy="193" r="1.3" fill="url(#b8)"/>
<circle cx="1266.7" cy="136.5" r="1.3" fill="url(#b8)"/>
<circle cx="1219.4" cy="77.9" r="1.3" fill="url(#b8)"/>
<circle cx="1236.2" cy="155.3" r="1.3" fill="url(#b8)"/>
<circle cx="1189" cy="96.8" r="1.3" fill="url(#b8)"/>
<circle cx="1253.1" cy="232.7" r="1.3" fill="url(#b8)"/>
<circle cx="1205.8" cy="174.2" r="1.3" fill="url(#b8)"/>
<circle cx="1266.7" cy="117.6" r="1.3" fill="url(#b8)"/>
<circle cx="1236.2" cy="136.5" r="1.3" fill="url(#b8)"/>
<circle cx="1189" cy="77.9" r="1.3" fill="url(#b8)"/>
<circle cx="1205.8" cy="155.3" r="1.3" fill="url(#b8)"/>
<circle cx="1253.1" cy="213.9" r="1.3" fill="url(#b8)"/>
<circle cx="1222.7" cy="232.7" r="1.3" fill="url(#b8)"/>
<circle cx="1266.7" cy="98.8" r="1.3" fill="url(#b8)"/>
<circle cx="1236.2" cy="117.6" r="1.3" fill="url(#b8)"/>
<circle cx="1205.8" cy="136.5" r="1.3" fill="url(#b8)"/>
<circle cx="1253.1" cy="195" r="1.3" fill="url(#b8)"/>
<circle cx="1222.7" cy="213.9" r="1.3" fill="url(#b8)"/>
<circle cx="1266.7" cy="79.9" r="1.3" fill="url(#b8)"/>
<circle cx="1236.2" cy="98.8" r="1.3" fill="url(#b8)"/>
<circle cx="1253.1" cy="176.2" r="1.3" fill="url(#b8)"/>
<circle cx="1205.8" cy="117.6" r="1.3" fill="url(#b8)"/>
<circle cx="1222.7" cy="195" r="1.3" fill="url(#b8)"/>
<circle cx="1236.2" cy="79.9" r="1.3" fill="url(#b8)"/>
<circle cx="1205.8" cy="98.8" r="1.3" fill="url(#b8)"/>
<circle cx="1253.1" cy="157.3" r="1.3" fill="url(#b8)"/>
<circle cx="1222.7" cy="176.2" r="1.3" fill="url(#b8)"/>
<circle cx="1253.1" cy="138.5" r="1.3" fill="url(#b8)"/>
<circle cx="1205.8" cy="79.9" r="1.3" fill="url(#b8)"/>
<circle cx="1222.7" cy="157.3" r="1.3" fill="url(#b8)"/>
<circle cx="1239.5" cy="234.7" r="1.3" fill="url(#b8)"/>
<circle cx="1253.1" cy="119.6" r="1.3" fill="url(#b8)"/>
<circle cx="1222.7" cy="138.5" r="1.3" fill="url(#b8)"/>
<circle cx="1239.5" cy="215.9" r="1.3" fill="url(#b8)"/>
<circle cx="1253.1" cy="100.8" r="1.3" fill="url(#b8)"/>
<circle cx="1222.7" cy="119.6" r="1.3" fill="url(#b8)"/>
<circle cx="1239.5" cy="197" r="1.3" fill="url(#b8)"/>
<circle cx="1253.1" cy="81.9" r="1.3" fill="url(#b8)"/>
<circle cx="1222.7" cy="100.8" r="1.3" fill="url(#b8)"/>
<circle cx="1239.5" cy="178.2" r="1.3" fill="url(#b8)"/>
<circle cx="1222.7" cy="81.9" r="1.3" fill="url(#b8)"/>
<circle cx="1239.5" cy="159.3" r="1.3" fill="url(#b8)"/>
<circle cx="1239.5" cy="140.5" r="1.3" fill="url(#b8)"/>
<circle cx="1239.5" cy="121.6" r="1.3" fill="url(#b8)"/>
<circle cx="1239.5" cy="102.8" r="1.3" fill="url(#b8)"/>
<circle cx="1239.5" cy="83.9" r="1.3" fill="url(#b8)"/>
<polygon points="1224,100 1122,215 1338,215" fill="rgba(255,100,100,0.5)"/>
<circle cx="1213.5" cy="193.4" r="3.4" fill="url(#r)"/>
<circle cx="1213.5" cy="174.6" r="3.4" fill="url(#r)"/>
<circle cx="1221.9" cy="203.9" r="3.4" fill="url(#r)"/>
<circle cx="1213.5" cy="155.7" r="3.4" fill="url(#r)"/>
<circle cx="1206.7" cy="203.9" r="3.4" fill="url(#r)"/>
<circle cx="1221.9" cy="185" r="3.4" fill="url(#r)"/>
<circle cx="1213.5" cy="136.9" r="3.4" fill="url(#r)"/>
<circle cx="1206.7" cy="185" r="3.4" fill="url(#r)"/>
<circle cx="1221.9" cy="166.2" r="3.4" fill="url(#r)"/>
<circle cx="1213.5" cy="118" r="3.4" fill="url(#r)"/>
<circle cx="1206.7" cy="166.2" r="3.4" fill="url(#r)"/>
<circle cx="1230.3" cy="195.4" r="3.4" fill="url(#r)"/>
<circle cx="1221.9" cy="147.3" r="3.4" fill="url(#r)"/>
<circle cx="1215.1" cy="195.4" r="3" fill="url(#go8)"/>
<circle cx="1213.5" cy="99.2" r="3.4" fill="url(#r)"/>
<circle cx="1206.7" cy="147.3" r="3.4" fill="url(#r)"/>
<circle cx="1230.3" cy="176.6" r="3.4" fill="url(#r)"/>
<circle cx="1199.9" cy="195.4" r="3.4" fill="url(#r)"/>
<circle cx="1221.9" cy="128.5" r="3.4" fill="url(#r)"/>
<circle cx="1215.1" cy="176.6" r="3" fill="url(#go8)"/>
<circle cx="1238.8" cy="205.9" r="3.4" fill="url(#r)"/>
<circle cx="1213.5" cy="80.3" r="3.4" fill="url(#r)"/>
<circle cx="1206.7" cy="128.5" r="3.4" fill="url(#r)"/>
<circle cx="1230.3" cy="157.7" r="3.4" fill="url(#r)"/>
<circle cx="1199.9" cy="176.6" r="3.4" fill="url(#r)"/>
<circle cx="1223.5" cy="205.9" r="3.4" fill="url(#r)"/>
<circle cx="1221.9" cy="109.6" r="3.4" fill="url(#r)"/>
<circle cx="1215.1" cy="157.7" r="3" fill="url(#go8)"/>
<circle cx="1238.8" cy="187" r="3.4" fill="url(#r)"/>
<circle cx="1208.3" cy="205.8" r="3.4" fill="url(#r)"/>
<circle cx="1213.5" cy="61.5" r="3.4" fill="url(#r)"/>
<circle cx="1206.7" cy="109.6" r="3.4" fill="url(#r)"/>
<circle cx="1230.3" cy="138.9" r="3.4" fill="url(#r)"/>
<circle cx="1199.9" cy="157.7" r="3.4" fill="url(#r)"/>
<circle cx="1223.5" cy="187" r="3.4" fill="url(#r)"/>
<circle cx="1193.1" cy="205.8" r="3.4" fill="url(#r)"/>
<circle cx="1221.9" cy="90.8" r="3.4" fill="url(#r)"/>
<circle cx="1215.1" cy="138.9" r="3" fill="url(#go8)"/>
<circle cx="1238.8" cy="168.2" r="3.4" fill="url(#r)"/>
<circle cx="1208.3" cy="187" r="3.4" fill="url(#r)"/>
<circle cx="1206.7" cy="90.8" r="3.4" fill="url(#r)"/>
<circle cx="1230.3" cy="120" r="3.4" fill="url(#r)"/>
<circle cx="1199.9" cy="138.9" r="3.4" fill="url(#r)"/>
<circle cx="1223.5" cy="168.2" r="3.4" fill="url(#r)"/>
<circle cx="1247.2" cy="197.4" r="3.4" fill="url(#r)"/>
<circle cx="1193.1" cy="187" r="3.4" fill="url(#r)"/>
<circle cx="1221.9" cy="71.9" r="3.4" fill="url(#r)"/>
<circle cx="1215.1" cy="120" r="3" fill="url(#go8)"/>
<circle cx="1238.8" cy="149.3" r="3.4" fill="url(#r)"/>
<circle cx="1208.3" cy="168.1" r="3.4" fill="url(#r)"/>
<circle cx="1232" cy="197.4" r="3" fill="url(#go8)"/>
<circle cx="1206.7" cy="71.9" r="3.4" fill="url(#r)"/>
<circle cx="1230.3" cy="101.2" r="3.4" fill="url(#r)"/>
<circle cx="1199.9" cy="120" r="3.4" fill="url(#r)"/>
<circle cx="1223.5" cy="149.3" r="3.4" fill="url(#r)"/>
<circle cx="1247.2" cy="178.6" r="3.4" fill="url(#r)"/>
<circle cx="1216.8" cy="197.4" r="3.4" fill="url(#r)"/>
<circle cx="1193.1" cy="168.1" r="3.4" fill="url(#r)"/>
<circle cx="1221.9" cy="53.1" r="3.4" fill="url(#r)"/>
<circle cx="1215.1" cy="101.2" r="3" fill="url(#go8)"/>
<circle cx="1238.8" cy="130.5" r="3.4" fill="url(#r)"/>
<circle cx="1208.3" cy="149.3" r="3.4" fill="url(#r)"/>
<circle cx="1232" cy="178.6" r="3" fill="url(#go8)"/>
<circle cx="1255.6" cy="207.9" r="3.4" fill="url(#r)"/>
<circle cx="1201.5" cy="197.4" r="3" fill="url(#go8)"/>
<circle cx="1206.7" cy="53.1" r="3.4" fill="url(#r)"/>
<circle cx="1230.3" cy="82.3" r="3.4" fill="url(#r)"/>
<circle cx="1199.9" cy="101.2" r="3.4" fill="url(#r)"/>
<circle cx="1223.5" cy="130.5" r="3.4" fill="url(#r)"/>
<circle cx="1247.2" cy="159.7" r="3.4" fill="url(#r)"/>
<circle cx="1216.8" cy="178.6" r="3.4" fill="url(#r)"/>
<circle cx="1240.4" cy="207.9" r="3.4" fill="url(#r)"/>
<circle cx="1193.1" cy="149.3" r="3.4" fill="url(#r)"/>
<circle cx="1186.3" cy="197.4" r="3.4" fill="url(#r)"/>
<circle cx="1215.1" cy="82.3" r="3" fill="url(#go8)"/>
<circle cx="1238.8" cy="111.6" r="3.4" fill="url(#r)"/>
<circle cx="1208.3" cy="130.4" r="3.4" fill="url(#r)"/>
<circle cx="1232" cy="159.7" r="3" fill="url(#go8)"/>
<circle cx="1255.6" cy="189" r="3.4" fill="url(#r)"/>
<circle cx="1225.2" cy="207.8" r="3.4" fill="url(#r)"/>
<circle cx="1201.5" cy="178.6" r="3" fill="url(#go8)"/>
<circle cx="1230.3" cy="63.5" r="3.4" fill="url(#r)"/>
<circle cx="1199.9" cy="82.3" r="3.4" fill="url(#r)"/>
<circle cx="1223.5" cy="111.6" r="3.4" fill="url(#r)"/>
<circle cx="1247.2" cy="140.9" r="3.4" fill="url(#r)"/>
<circle cx="1216.8" cy="159.7" r="3.4" fill="url(#r)"/>
<circle cx="1240.4" cy="189" r="3.4" fill="url(#r)"/>
<circle cx="1193.1" cy="130.4" r="3.4" fill="url(#r)"/>
<circle cx="1186.3" cy="178.5" r="3.4" fill="url(#r)"/>
<circle cx="1210" cy="207.8" r="3.4" fill="url(#r)"/>
<circle cx="1215.1" cy="63.5" r="3" fill="url(#go8)"/>
<circle cx="1238.8" cy="92.8" r="3.4" fill="url(#r)"/>
<circle cx="1208.3" cy="111.6" r="3.4" fill="url(#r)"/>
<circle cx="1232" cy="140.9" r="3" fill="url(#go8)"/>
<circle cx="1255.6" cy="170.2" r="3.4" fill="url(#r)"/>
<circle cx="1201.5" cy="159.7" r="3" fill="url(#go8)"/>
<circle cx="1225.2" cy="189" r="3.4" fill="url(#r)"/>
<circle cx="1194.7" cy="207.8" r="3.4" fill="url(#r)"/>
<circle cx="1199.9" cy="63.5" r="3.4" fill="url(#r)"/>
<circle cx="1223.5" cy="92.8" r="3.4" fill="url(#r)"/>
<circle cx="1247.2" cy="122" r="3.4" fill="url(#r)"/>
<circle cx="1193.1" cy="111.6" r="3.4" fill="url(#r)"/>
<circle cx="1216.8" cy="140.9" r="3.4" fill="url(#r)"/>
<circle cx="1240.4" cy="170.2" r="3.4" fill="url(#r)"/>
<circle cx="1264" cy="199.4" r="3.4" fill="url(#r)"/>
<circle cx="1186.3" cy="159.7" r="3.4" fill="url(#r)"/>
<circle cx="1210" cy="189" r="3.4" fill="url(#r)"/>
<circle cx="1179.5" cy="207.8" r="3.4" fill="url(#r)"/>
<circle cx="1238.8" cy="73.9" r="3.4" fill="url(#r)"/>
<circle cx="1208.3" cy="92.7" r="3.4" fill="url(#r)"/>
<circle cx="1232" cy="122" r="3" fill="url(#go8)"/>
<circle cx="1255.6" cy="151.3" r="3.4" fill="url(#r)"/>
<circle cx="1201.5" cy="140.9" r="3" fill="url(#go8)"/>
<circle cx="1225.2" cy="170.1" r="3.4" fill="url(#r)"/>
<circle cx="1248.8" cy="199.4" r="3" fill="url(#go8)"/>
<circle cx="1194.7" cy="189" r="3.4" fill="url(#r)"/>
<circle cx="1223.5" cy="73.9" r="3.4" fill="url(#r)"/>
<circle cx="1247.2" cy="103.2" r="3.4" fill="url(#r)"/>
<circle cx="1216.8" cy="122" r="3.4" fill="url(#r)"/>
<circle cx="1240.4" cy="151.3" r="3.4" fill="url(#r)"/>
<circle cx="1193.1" cy="92.7" r="3.4" fill="url(#r)"/>
<circle cx="1264" cy="180.6" r="3.4" fill="url(#r)"/>
<circle cx="1233.6" cy="199.4" r="3.4" fill="url(#r)"/>
<circle cx="1186.3" cy="140.8" r="3.4" fill="url(#r)"/>
<circle cx="1210" cy="170.1" r="3.4" fill="url(#r)"/>
<circle cx="1179.5" cy="189" r="3.4" fill="url(#r)"/>
<circle cx="1238.8" cy="55.1" r="3.4" fill="url(#r)"/>
<circle cx="1208.3" cy="73.9" r="3.4" fill="url(#r)"/>
<circle cx="1232" cy="103.2" r="3" fill="url(#go8)"/>
<circle cx="1255.6" cy="132.5" r="3.4" fill="url(#r)"/>
<circle cx="1225.2" cy="151.3" r="3.4" fill="url(#r)"/>
<circle cx="1248.8" cy="180.6" r="3" fill="url(#go8)"/>
<circle cx="1272.5" cy="209.9" r="3.4" fill="url(#r)"/>
<circle cx="1201.5" cy="122" r="3" fill="url(#go8)"/>
<circle cx="1194.7" cy="170.1" r="3.4" fill="url(#r)"/>
<circle cx="1218.4" cy="199.4" r="3" fill="url(#go8)"/>
<circle cx="1223.5" cy="55.1" r="3.4" fill="url(#r)"/>
<circle cx="1247.2" cy="84.3" r="3.4" fill="url(#r)"/>
<circle cx="1193.1" cy="73.9" r="3.4" fill="url(#r)"/>
<circle cx="1216.8" cy="103.2" r="3.4" fill="url(#r)"/>
<circle cx="1240.4" cy="132.5" r="3.4" fill="url(#r)"/>
<circle cx="1264" cy="161.7" r="3.4" fill="url(#r)"/>
<circle cx="1186.3" cy="122" r="3.4" fill="url(#r)"/>
<circle cx="1233.6" cy="180.6" r="3.4" fill="url(#r)"/>
<circle cx="1257.2" cy="209.9" r="3.4" fill="url(#r)"/>
<circle cx="1210" cy="151.3" r="3.4" fill="url(#r)"/>
<circle cx="1179.5" cy="170.1" r="3.4" fill="url(#r)"/>
<circle cx="1203.1" cy="199.4" r="3.4" fill="url(#r)"/>
<circle cx="1208.3" cy="55" r="3.4" fill="url(#r)"/>
<circle cx="1232" cy="84.3" r="3" fill="url(#go8)"/>
<circle cx="1255.6" cy="113.6" r="3.4" fill="url(#r)"/>
<circle cx="1201.5" cy="103.2" r="3" fill="url(#go8)"/>
<circle cx="1225.2" cy="132.4" r="3.4" fill="url(#r)"/>
<circle cx="1248.8" cy="161.7" r="3" fill="url(#go8)"/>
<circle cx="1272.5" cy="191" r="3.4" fill="url(#r)"/>
<circle cx="1194.7" cy="151.3" r="3.4" fill="url(#r)"/>
<circle cx="1242" cy="209.8" r="3.4" fill="url(#r)"/>
<circle cx="1218.4" cy="180.6" r="3" fill="url(#go8)"/>
<circle cx="1187.9" cy="199.4" r="3" fill="url(#go8)"/>
<circle cx="1247.2" cy="65.5" r="3.4" fill="url(#r)"/>
<circle cx="1216.8" cy="84.3" r="3.4" fill="url(#r)"/>
<circle cx="1240.4" cy="113.6" r="3.4" fill="url(#r)"/>
<circle cx="1193.1" cy="55" r="3.4" fill="url(#r)"/>
<circle cx="1264" cy="142.9" r="3.4" fill="url(#r)"/>
<circle cx="1233.6" cy="161.7" r="3.4" fill="url(#r)"/>
<circle cx="1186.3" cy="103.1" r="3.4" fill="url(#r)"/>
<circle cx="1210" cy="132.4" r="3.4" fill="url(#r)"/>
<circle cx="1257.2" cy="191" r="3.4" fill="url(#r)"/>
<circle cx="1179.5" cy="151.3" r="3.4" fill="url(#r)"/>
<circle cx="1203.1" cy="180.5" r="3.4" fill="url(#r)"/>
<circle cx="1226.8" cy="209.8" r="3.4" fill="url(#r)"/>
<circle cx="1172.7" cy="199.4" r="3.4" fill="url(#r)"/>
<circle cx="1232" cy="65.5" r="3" fill="url(#go8)"/>
<circle cx="1255.6" cy="94.8" r="3.4" fill="url(#r)"/>
<circle cx="1225.2" cy="113.6" r="3.4" fill="url(#r)"/>
<circle cx="1248.8" cy="142.9" r="3" fill="url(#go8)"/>
<circle cx="1272.5" cy="172.2" r="3.4" fill="url(#r)"/>
<circle cx="1201.5" cy="84.3" r="3" fill="url(#go8)"/>
<circle cx="1242" cy="191" r="3.4" fill="url(#r)"/>
<circle cx="1194.7" cy="132.4" r="3.4" fill="url(#r)"/>
<circle cx="1218.4" cy="161.7" r="3" fill="url(#go8)"/>
<circle cx="1187.9" cy="180.5" r="3" fill="url(#go8)"/>
<circle cx="1211.6" cy="209.8" r="3.4" fill="url(#r)"/>
<circle cx="1216.8" cy="65.5" r="3.4" fill="url(#r)"/>
<circle cx="1240.4" cy="94.8" r="3.4" fill="url(#r)"/>
<circle cx="1264" cy="124" r="3.4" fill="url(#r)"/>
<circle cx="1233.6" cy="142.9" r="3.4" fill="url(#r)"/>
<circle cx="1257.2" cy="172.2" r="3.4" fill="url(#r)"/>
<circle cx="1280.9" cy="201.4" r="3.4" fill="url(#r)"/>
<circle cx="1186.3" cy="84.3" r="3.4" fill="url(#r)"/>
<circle cx="1210" cy="113.6" r="3.4" fill="url(#r)"/>
<circle cx="1179.5" cy="132.4" r="3.4" fill="url(#r)"/>
<circle cx="1203.1" cy="161.7" r="3.4" fill="url(#r)"/>
<circle cx="1226.8" cy="191" r="3.4" fill="url(#r)"/>
<circle cx="1172.7" cy="180.5" r="3.4" fill="url(#r)"/>
<circle cx="1196.3" cy="209.8" r="3.4" fill="url(#r)"/>
<circle cx="1255.6" cy="75.9" r="3.4" fill="url(#r)"/>
<circle cx="1201.5" cy="65.5" r="3" fill="url(#go8)"/>
<circle cx="1225.2" cy="94.7" r="3.4" fill="url(#r)"/>
<circle cx="1248.8" cy="124" r="3" fill="url(#go8)"/>
<circle cx="1272.5" cy="153.3" r="3.4" fill="url(#r)"/>
<circle cx="1242" cy="172.1" r="3.4" fill="url(#r)"/>
<circle cx="1265.7" cy="201.4" r="3" fill="url(#go8)"/>
<circle cx="1194.7" cy="113.6" r="3.4" fill="url(#r)"/>
<circle cx="1218.4" cy="142.9" r="3" fill="url(#go8)"/>
<circle cx="1187.9" cy="161.7" r="3" fill="url(#go8)"/>
<circle cx="1211.6" cy="191" r="3.4" fill="url(#r)"/>
<circle cx="1181.1" cy="209.8" r="3.4" fill="url(#r)"/>
<circle cx="1240.4" cy="75.9" r="3.4" fill="url(#r)"/>
<circle cx="1264" cy="105.2" r="3.4" fill="url(#r)"/>
<circle cx="1186.3" cy="65.4" r="3.4" fill="url(#r)"/>
<circle cx="1210" cy="94.7" r="3.4" fill="url(#r)"/>
<circle cx="1233.6" cy="124" r="3.4" fill="url(#r)"/>
<circle cx="1257.2" cy="153.3" r="3.4" fill="url(#r)"/>
<circle cx="1280.9" cy="182.6" r="3.4" fill="url(#r)"/>
<circle cx="1179.5" cy="113.6" r="3.4" fill="url(#r)"/>
<circle cx="1203.1" cy="142.8" r="3.4" fill="url(#r)"/>
<circle cx="1250.5" cy="201.4" r="3.4" fill="url(#r)"/>
<circle cx="1226.8" cy="172.1" r="3.4" fill="url(#r)"/>
<circle cx="1196.3" cy="191" r="3.4" fill="url(#r)"/>
<circle cx="1172.7" cy="161.7" r="3.4" fill="url(#r)"/>
<circle cx="1165.9" cy="209.8" r="3.4" fill="url(#r)"/>
<circle cx="1255.6" cy="57.1" r="3.4" fill="url(#r)"/>
<circle cx="1225.2" cy="75.9" r="3.4" fill="url(#r)"/>
<circle cx="1248.8" cy="105.2" r="3" fill="url(#go8)"/>
<circle cx="1272.5" cy="134.5" r="3.4" fill="url(#r)"/>
<circle cx="1194.7" cy="94.7" r="3.4" fill="url(#r)"/>
<circle cx="1218.4" cy="124" r="3" fill="url(#go8)"/>
<circle cx="1242" cy="153.3" r="3.4" fill="url(#r)"/>
<circle cx="1265.7" cy="182.6" r="3" fill="url(#go8)"/>
<circle cx="1289.3" cy="211.9" r="3.4" fill="url(#r)"/>
<circle cx="1187.9" cy="142.8" r="3" fill="url(#go8)"/>
<circle cx="1211.6" cy="172.1" r="3.4" fill="url(#r)"/>
<circle cx="1235.2" cy="201.4" r="3" fill="url(#go8)"/>
<circle cx="1181.1" cy="191" r="3.4" fill="url(#r)"/>
<circle cx="1240.4" cy="57.1" r="3.4" fill="url(#r)"/>
<circle cx="1264" cy="86.3" r="3.4" fill="url(#r)"/>
<circle cx="1233.6" cy="105.2" r="3.4" fill="url(#r)"/>
<circle cx="1210" cy="75.9" r="3.4" fill="url(#r)"/>
<circle cx="1257.2" cy="134.5" r="3.4" fill="url(#r)"/>
<circle cx="1280.9" cy="163.7" r="3.4" fill="url(#r)"/>
<circle cx="1179.5" cy="94.7" r="3.4" fill="url(#r)"/>
<circle cx="1203.1" cy="124" r="3.4" fill="url(#r)"/>
<circle cx="1226.8" cy="153.3" r="3.4" fill="url(#r)"/>
<circle cx="1250.5" cy="182.6" r="3.4" fill="url(#r)"/>
<circle cx="1274.1" cy="211.9" r="3.4" fill="url(#r)"/>
<circle cx="1172.7" cy="142.8" r="3.4" fill="url(#r)"/>
<circle cx="1196.3" cy="172.1" r="3.4" fill="url(#r)"/>
<circle cx="1220" cy="201.4" r="3.4" fill="url(#r)"/>
<circle cx="1165.9" cy="190.9" r="3.4" fill="url(#r)"/>
<circle cx="1225.2" cy="57" r="3.4" fill="url(#r)"/>
<circle cx="1248.8" cy="86.3" r="3" fill="url(#go8)"/>
<circle cx="1272.5" cy="115.6" r="3.4" fill="url(#r)"/>
<circle cx="1242" cy="134.4" r="3.4" fill="url(#r)"/>
<circle cx="1265.7" cy="163.7" r="3" fill="url(#go8)"/>
<circle cx="1194.7" cy="75.9" r="3.4" fill="url(#r)"/>
<circle cx="1218.4" cy="105.2" r="3" fill="url(#go8)"/>
<circle cx="1289.3" cy="193" r="3.4" fill="url(#r)"/>
<circle cx="1258.9" cy="211.8" r="3.4" fill="url(#r)"/>
<circle cx="1187.9" cy="124" r="3" fill="url(#go8)"/>
<circle cx="1211.6" cy="153.3" r="3.4" fill="url(#r)"/>
<circle cx="1235.2" cy="182.6" r="3" fill="url(#go8)"/>
<circle cx="1181.1" cy="172.1" r="3.4" fill="url(#r)"/>
<circle cx="1204.8" cy="201.4" r="3" fill="url(#go8)"/>
<circle cx="1264" cy="67.5" r="3.4" fill="url(#r)"/>
<circle cx="1233.6" cy="86.3" r="3.4" fill="url(#r)"/>
<circle cx="1257.2" cy="115.6" r="3.4" fill="url(#r)"/>
<circle cx="1210" cy="57" r="3.4" fill="url(#r)"/>
<circle cx="1280.9" cy="144.9" r="3.4" fill="url(#r)"/>
<circle cx="1179.5" cy="75.9" r="3.4" fill="url(#r)"/>
<circle cx="1250.5" cy="163.7" r="3.4" fill="url(#r)"/>
<circle cx="1274.1" cy="193" r="3.4" fill="url(#r)"/>
<circle cx="1203.1" cy="105.1" r="3.4" fill="url(#r)"/>
<circle cx="1226.8" cy="134.4" r="3.4" fill="url(#r)"/>
<circle cx="1172.7" cy="124" r="3.4" fill="url(#r)"/>
<circle cx="1196.3" cy="153.3" r="3.4" fill="url(#r)"/>
<circle cx="1220" cy="182.5" r="3.4" fill="url(#r)"/>
<circle cx="1243.7" cy="211.8" r="3.4" fill="url(#r)"/>
<circle cx="1165.9" cy="172.1" r="3.4" fill="url(#r)"/>
<circle cx="1189.5" cy="201.4" r="3.4" fill="url(#r)"/>
<circle cx="1248.8" cy="67.5" r="3" fill="url(#go8)"/>
<circle cx="1272.5" cy="96.8" r="3.4" fill="url(#r)"/>
<circle cx="1194.7" cy="57" r="3.4" fill="url(#r)"/>
<circle cx="1242" cy="115.6" r="3.4" fill="url(#r)"/>
<circle cx="1265.7" cy="144.9" r="3" fill="url(#go8)"/>
<circle cx="1218.4" cy="86.3" r="3" fill="url(#go8)"/>
<circle cx="1289.3" cy="174.2" r="3.4" fill="url(#r)"/>
<circle cx="1187.9" cy="105.1" r="3" fill="url(#go8)"/>
<circle cx="1258.9" cy="193" r="3.4" fill="url(#r)"/>
<circle cx="1211.6" cy="134.4" r="3.4" fill="url(#r)"/>
<circle cx="1235.2" cy="163.7" r="3" fill="url(#go8)"/>
<circle cx="1181.1" cy="153.2" r="3.4" fill="url(#r)"/>
<circle cx="1204.8" cy="182.5" r="3" fill="url(#go8)"/>
<circle cx="1228.4" cy="211.8" r="3.4" fill="url(#r)"/>
<circle cx="1174.3" cy="201.4" r="3" fill="url(#go8)"/>
<circle cx="1233.6" cy="67.5" r="3.4" fill="url(#r)"/>
<circle cx="1257.2" cy="96.8" r="3.4" fill="url(#r)"/>
<circle cx="1280.9" cy="126" r="3.4" fill="url(#r)"/>
<circle cx="1179.5" cy="57" r="3.4" fill="url(#r)"/>
<circle cx="1203.1" cy="86.3" r="3.4" fill="url(#r)"/>
<circle cx="1250.5" cy="144.9" r="3.4" fill="url(#r)"/>
<circle cx="1274.1" cy="174.2" r="3.4" fill="url(#r)"/>
<circle cx="1297.8" cy="203.4" r="3.4" fill="url(#r)"/>
<circle cx="1226.8" cy="115.6" r="3.4" fill="url(#r)"/>
<circle cx="1196.3" cy="134.4" r="3.4" fill="url(#r)"/>
<circle cx="1172.7" cy="105.1" r="3.4" fill="url(#r)"/>
<circle cx="1220" cy="163.7" r="3.4" fill="url(#r)"/>
<circle cx="1243.7" cy="193" r="3.4" fill="url(#r)"/>
<circle cx="1165.9" cy="153.2" r="3.4" fill="url(#r)"/>
<circle cx="1189.5" cy="182.5" r="3.4" fill="url(#r)"/>
<circle cx="1213.2" cy="211.8" r="3.4" fill="url(#r)"/>
<circle cx="1159.1" cy="201.4" r="3.4" fill="url(#r)"/>
<circle cx="1272.5" cy="77.9" r="3.4" fill="url(#r)"/>
<circle cx="1242" cy="96.7" r="3.4" fill="url(#r)"/>
<circle cx="1265.7" cy="126" r="3" fill="url(#go8)"/>
<circle cx="1218.4" cy="67.5" r="3" fill="url(#go8)"/>
<circle cx="1289.3" cy="155.3" r="3.4" fill="url(#r)"/>
<circle cx="1258.9" cy="174.1" r="3.4" fill="url(#r)"/>
<circle cx="1187.9" cy="86.3" r="3" fill="url(#go8)"/>
<circle cx="1211.6" cy="115.6" r="3.4" fill="url(#r)"/>
<circle cx="1235.2" cy="144.9" r="3" fill="url(#go8)"/>
<circle cx="1282.5" cy="203.4" r="3" fill="url(#go8)"/>
<circle cx="1181.1" cy="134.4" r="3.4" fill="url(#r)"/>
<circle cx="1204.8" cy="163.7" r="3" fill="url(#go8)"/>
<circle cx="1228.4" cy="193" r="3.4" fill="url(#r)"/>
<circle cx="1174.3" cy="182.5" r="3" fill="url(#go8)"/>
<circle cx="1198" cy="211.8" r="3.4" fill="url(#r)"/>
<circle cx="1257.2" cy="77.9" r="3.4" fill="url(#r)"/>
<circle cx="1280.9" cy="107.2" r="3.4" fill="url(#r)"/>
<circle cx="1250.5" cy="126" r="3.4" fill="url(#r)"/>
<circle cx="1274.1" cy="155.3" r="3.4" fill="url(#r)"/>
<circle cx="1297.8" cy="184.6" r="3.4" fill="url(#r)"/>
<circle cx="1203.1" cy="67.4" r="3.4" fill="url(#r)"/>
<circle cx="1226.8" cy="96.7" r="3.4" fill="url(#r)"/>
<circle cx="1267.3" cy="203.4" r="3.4" fill="url(#r)"/>
<circle cx="1172.7" cy="86.3" r="3.4" fill="url(#r)"/>
<circle cx="1196.3" cy="115.6" r="3.4" fill="url(#r)"/>
<circle cx="1220" cy="144.8" r="3.4" fill="url(#r)"/>
<circle cx="1243.7" cy="174.1" r="3.4" fill="url(#r)"/>
<circle cx="1189.5" cy="163.7" r="3.4" fill="url(#r)"/>
<circle cx="1213.2" cy="193" r="3.4" fill="url(#r)"/>
<circle cx="1165.9" cy="134.4" r="3.4" fill="url(#r)"/>
<circle cx="1159.1" cy="182.5" r="3.4" fill="url(#r)"/>
<circle cx="1182.8" cy="211.8" r="3.4" fill="url(#r)"/>
<circle cx="1272.5" cy="59.1" r="3.4" fill="url(#r)"/>
<circle cx="1242" cy="77.9" r="3.4" fill="url(#r)"/>
<circle cx="1265.7" cy="107.2" r="3" fill="url(#go8)"/>
<circle cx="1289.3" cy="136.5" r="3.4" fill="url(#r)"/>
<circle cx="1187.9" cy="67.4" r="3" fill="url(#go8)"/>
<circle cx="1258.9" cy="155.3" r="3.4" fill="url(#r)"/>
<circle cx="1282.5" cy="184.6" r="3" fill="url(#go8)"/>
<circle cx="1211.6" cy="96.7" r="3.4" fill="url(#r)"/>
<circle cx="1235.2" cy="126" r="3" fill="url(#go8)"/>
<circle cx="1306.2" cy="213.9" r="3.4" fill="url(#r)"/>
<circle cx="1181.1" cy="115.6" r="3.4" fill="url(#r)"/>
<circle cx="1204.8" cy="144.8" r="3" fill="url(#go8)"/>
<circle cx="1228.4" cy="174.1" r="3.4" fill="url(#r)"/>
<circle cx="1252.1" cy="203.4" r="3" fill="url(#go8)"/>
<circle cx="1198" cy="193" r="3.4" fill="url(#r)"/>
<circle cx="1174.3" cy="163.7" r="3" fill="url(#go8)"/>
<circle cx="1167.5" cy="211.8" r="3.4" fill="url(#r)"/>
<circle cx="1257.2" cy="59.1" r="3.4" fill="url(#r)"/>
<circle cx="1280.9" cy="88.3" r="3.4" fill="url(#r)"/>
<circle cx="1250.5" cy="107.2" r="3.4" fill="url(#r)"/>
<circle cx="1274.1" cy="136.5" r="3.4" fill="url(#r)"/>
<circle cx="1297.8" cy="165.7" r="3.4" fill="url(#r)"/>
<circle cx="1226.8" cy="77.9" r="3.4" fill="url(#r)"/>
<circle cx="1267.3" cy="184.6" r="3.4" fill="url(#r)"/>
<circle cx="1291" cy="213.9" r="3.4" fill="url(#r)"/>
<circle cx="1172.7" cy="67.4" r="3.4" fill="url(#r)"/>
<circle cx="1196.3" cy="96.7" r="3.4" fill="url(#r)"/>
<circle cx="1220" cy="126" r="3.4" fill="url(#r)"/>
<circle cx="1243.7" cy="155.3" r="3.4" fill="url(#r)"/>
<circle cx="1165.9" cy="115.5" r="3.4" fill="url(#r)"/>
<circle cx="1189.5" cy="144.8" r="3.4" fill="url(#r)"/>
<circle cx="1213.2" cy="174.1" r="3.4" fill="url(#r)"/>
<circle cx="1236.8" cy="203.4" r="3.4" fill="url(#r)"/>
<circle cx="1159.1" cy="163.7" r="3.4" fill="url(#r)"/>
<circle cx="1182.8" cy="192.9" r="3.4" fill="url(#r)"/>
<circle cx="1152.3" cy="211.8" r="3.4" fill="url(#r)"/>
<circle cx="1242" cy="59" r="3.4" fill="url(#r)"/>
<circle cx="1265.7" cy="88.3" r="3" fill="url(#go8)"/>
<circle cx="1289.3" cy="117.6" r="3.4" fill="url(#r)"/>
<circle cx="1258.9" cy="136.4" r="3.4" fill="url(#r)"/>
<circle cx="1282.5" cy="165.7" r="3" fill="url(#go8)"/>
<circle cx="1306.2" cy="195" r="3.4" fill="url(#r)"/>
<circle cx="1211.6" cy="77.9" r="3.4" fill="url(#r)"/>
<circle cx="1235.2" cy="107.2" r="3" fill="url(#go8)"/>
<circle cx="1275.7" cy="213.8" r="3.4" fill="url(#r)"/>
<circle cx="1181.1" cy="96.7" r="3.4" fill="url(#r)"/>
<circle cx="1204.8" cy="126" r="3" fill="url(#go8)"/>
<circle cx="1228.4" cy="155.3" r="3.4" fill="url(#r)"/>
<circle cx="1252.1" cy="184.6" r="3" fill="url(#go8)"/>
<circle cx="1221.6" cy="203.4" r="3" fill="url(#go8)"/>
<circle cx="1174.3" cy="144.8" r="3" fill="url(#go8)"/>
<circle cx="1198" cy="174.1" r="3.4" fill="url(#r)"/>
<circle cx="1167.5" cy="192.9" r="3.4" fill="url(#r)"/>
<circle cx="1280.9" cy="69.5" r="3.4" fill="url(#r)"/>
<circle cx="1250.5" cy="88.3" r="3.4" fill="url(#r)"/>
<circle cx="1226.8" cy="59" r="3.4" fill="url(#r)"/>
<circle cx="1274.1" cy="117.6" r="3.4" fill="url(#r)"/>
<circle cx="1297.8" cy="146.9" r="3.4" fill="url(#r)"/>
<circle cx="1196.3" cy="77.9" r="3.4" fill="url(#r)"/>
<circle cx="1220" cy="107.1" r="3.4" fill="url(#r)"/>
<circle cx="1267.3" cy="165.7" r="3.4" fill="url(#r)"/>
<circle cx="1291" cy="195" r="3.4" fill="url(#r)"/>
<circle cx="1243.7" cy="136.4" r="3.4" fill="url(#r)"/>
<circle cx="1213.2" cy="155.3" r="3.4" fill="url(#r)"/>
<circle cx="1189.5" cy="126" r="3.4" fill="url(#r)"/>
<circle cx="1236.8" cy="184.5" r="3.4" fill="url(#r)"/>
<circle cx="1165.9" cy="96.7" r="3.4" fill="url(#r)"/>
<circle cx="1260.5" cy="213.8" r="3.4" fill="url(#r)"/>
<circle cx="1159.1" cy="144.8" r="3.4" fill="url(#r)"/>
<circle cx="1182.8" cy="174.1" r="3.4" fill="url(#r)"/>
<circle cx="1206.4" cy="203.4" r="3.4" fill="url(#r)"/>
<circle cx="1152.3" cy="192.9" r="3.4" fill="url(#r)"/>
<circle cx="1265.7" cy="69.5" r="3" fill="url(#go8)"/>
<circle cx="1289.3" cy="98.8" r="3.4" fill="url(#r)"/>
<circle cx="1258.9" cy="117.6" r="3.4" fill="url(#r)"/>
<circle cx="1211.6" cy="59" r="3.4" fill="url(#r)"/>
<circle cx="1235.2" cy="88.3" r="3" fill="url(#go8)"/>
<circle cx="1282.5" cy="146.9" r="3" fill="url(#go8)"/>
<circle cx="1306.2" cy="176.2" r="3.4" fill="url(#r)"/>
<circle cx="1181.1" cy="77.8" r="3.4" fill="url(#r)"/>
<circle cx="1204.8" cy="107.1" r="3" fill="url(#go8)"/>
<circle cx="1228.4" cy="136.4" r="3.4" fill="url(#r)"/>
<circle cx="1252.1" cy="165.7" r="3" fill="url(#go8)"/>
<circle cx="1275.7" cy="195" r="3.4" fill="url(#r)"/>
<circle cx="1221.6" cy="184.5" r="3" fill="url(#go8)"/>
<circle cx="1245.3" cy="213.8" r="3.4" fill="url(#r)"/>
<circle cx="1174.3" cy="126" r="3" fill="url(#go8)"/>
<circle cx="1198" cy="155.2" r="3.4" fill="url(#r)"/>
<circle cx="1167.5" cy="174.1" r="3.4" fill="url(#r)"/>
<circle cx="1191.2" cy="203.4" r="3" fill="url(#go8)"/>
<circle cx="1250.5" cy="69.5" r="3.4" fill="url(#r)"/>
<circle cx="1274.1" cy="98.8" r="3.4" fill="url(#r)"/>
<circle cx="1297.8" cy="128" r="3.4" fill="url(#r)"/>
<circle cx="1196.3" cy="59" r="3.4" fill="url(#r)"/>
<circle cx="1267.3" cy="146.9" r="3.4" fill="url(#r)"/>
<circle cx="1291" cy="176.2" r="3.4" fill="url(#r)"/>
<circle cx="1220" cy="88.3" r="3.4" fill="url(#r)"/>
<circle cx="1243.7" cy="117.6" r="3.4" fill="url(#r)"/>
<circle cx="1314.6" cy="205.4" r="3.4" fill="url(#r)"/>
<circle cx="1189.5" cy="107.1" r="3.4" fill="url(#r)"/>
<circle cx="1213.2" cy="136.4" r="3.4" fill="url(#r)"/>
<circle cx="1236.8" cy="165.7" r="3.4" fill="url(#r)"/>
<circle cx="1260.5" cy="195" r="3.4" fill="url(#r)"/>
<circle cx="1165.9" cy="77.8" r="3.4" fill="url(#r)"/>
<circle cx="1230" cy="213.8" r="3.4" fill="url(#r)"/>
<circle cx="1159.1" cy="126" r="3.4" fill="url(#r)"/>
<circle cx="1182.8" cy="155.2" r="3.4" fill="url(#r)"/>
<circle cx="1206.4" cy="184.5" r="3.4" fill="url(#r)"/>
<circle cx="1152.3" cy="174.1" r="3.4" fill="url(#r)"/>
<circle cx="1176" cy="203.4" r="3.4" fill="url(#r)"/>
<circle cx="1289.3" cy="79.9" r="3.4" fill="url(#r)"/>
<circle cx="1258.9" cy="98.7" r="3.4" fill="url(#r)"/>
<circle cx="1282.5" cy="128" r="3" fill="url(#go8)"/>
<circle cx="1306.2" cy="157.3" r="3.4" fill="url(#r)"/>
<circle cx="1235.2" cy="69.5" r="3" fill="url(#go8)"/>
<circle cx="1204.8" cy="88.3" r="3" fill="url(#go8)"/>
<circle cx="1275.7" cy="176.1" r="3.4" fill="url(#r)"/>
<circle cx="1299.4" cy="205.4" r="3" fill="url(#go8)"/>
<circle cx="1181.1" cy="59" r="3.4" fill="url(#r)"/>
<circle cx="1228.4" cy="117.6" r="3.4" fill="url(#r)"/>
<circle cx="1252.1" cy="146.9" r="3" fill="url(#go8)"/>
<circle cx="1198" cy="136.4" r="3.4" fill="url(#r)"/>
<circle cx="1221.6" cy="165.7" r="3" fill="url(#go8)"/>
<circle cx="1245.3" cy="195" r="3.4" fill="url(#r)"/>
<circle cx="1174.3" cy="107.1" r="3" fill="url(#go8)"/>
<circle cx="1214.8" cy="213.8" r="3.4" fill="url(#r)"/>
<circle cx="1167.5" cy="155.2" r="3.4" fill="url(#r)"/>
<circle cx="1191.2" cy="184.5" r="3" fill="url(#go8)"/>
<circle cx="1160.7" cy="203.3" r="3" fill="url(#go8)"/>
<circle cx="1274.1" cy="79.9" r="3.4" fill="url(#r)"/>
<circle cx="1297.8" cy="109.2" r="3.4" fill="url(#r)"/>
<circle cx="1267.3" cy="128" r="3.4" fill="url(#r)"/>
<circle cx="1291" cy="157.3" r="3.4" fill="url(#r)"/>
<circle cx="1220" cy="69.4" r="3.4" fill="url(#r)"/>
<circle cx="1314.6" cy="186.6" r="3.4" fill="url(#r)"/>
<circle cx="1243.7" cy="98.7" r="3.4" fill="url(#r)"/>
<circle cx="1284.2" cy="205.4" r="3.4" fill="url(#r)"/>
<circle cx="1213.2" cy="117.6" r="3.4" fill="url(#r)"/>
<circle cx="1165.9" cy="59" r="3.4" fill="url(#r)"/>
<circle cx="1189.5" cy="88.3" r="3.4" fill="url(#r)"/>
<circle cx="1236.8" cy="146.8" r="3.4" fill="url(#r)"/>
<circle cx="1260.5" cy="176.1" r="3.4" fill="url(#r)"/>
<circle cx="1159.1" cy="107.1" r="3.4" fill="url(#r)"/>
<circle cx="1182.8" cy="136.4" r="3.4" fill="url(#r)"/>
<circle cx="1206.4" cy="165.7" r="3.4" fill="url(#r)"/>
<circle cx="1230" cy="195" r="3.4" fill="url(#r)"/>
<circle cx="1152.3" cy="155.2" r="3.4" fill="url(#r)"/>
<circle cx="1176" cy="184.5" r="3.4" fill="url(#r)"/>
<circle cx="1199.6" cy="213.8" r="3.4" fill="url(#r)"/>
<circle cx="1145.5" cy="203.3" r="3.4" fill="url(#r)"/>
<circle cx="1289.3" cy="61.1" r="3.4" fill="url(#r)"/>
<circle cx="1258.9" cy="79.9" r="3.4" fill="url(#r)"/>
<circle cx="1282.5" cy="109.2" r="3" fill="url(#go8)"/>
<circle cx="1306.2" cy="138.5" r="3.4" fill="url(#r)"/>
<circle cx="1204.8" cy="69.4" r="3" fill="url(#go8)"/>
<circle cx="1228.4" cy="98.7" r="3.4" fill="url(#r)"/>
<circle cx="1275.7" cy="157.3" r="3.4" fill="url(#r)"/>
<circle cx="1299.4" cy="186.6" r="3" fill="url(#go8)"/>
<circle cx="1323" cy="215.9" r="3.4" fill="url(#r)"/>
<circle cx="1252.1" cy="128" r="3" fill="url(#go8)"/>
<circle cx="1221.6" cy="146.8" r="3" fill="url(#go8)"/>
<circle cx="1245.3" cy="176.1" r="3.4" fill="url(#r)"/>
<circle cx="1174.3" cy="88.3" r="3" fill="url(#go8)"/>
<circle cx="1198" cy="117.6" r="3.4" fill="url(#r)"/>
<circle cx="1268.9" cy="205.4" r="3" fill="url(#go8)"/>
<circle cx="1167.5" cy="136.4" r="3.4" fill="url(#r)"/>
<circle cx="1191.2" cy="165.7" r="3" fill="url(#go8)"/>
<circle cx="1214.8" cy="195" r="3.4" fill="url(#r)"/>
<circle cx="1160.7" cy="184.5" r="3" fill="url(#go8)"/>
<circle cx="1184.4" cy="213.8" r="3.4" fill="url(#r)"/>
<circle cx="1274.1" cy="61.1" r="3.4" fill="url(#r)"/>
<circle cx="1297.8" cy="90.3" r="3.4" fill="url(#r)"/>
<circle cx="1267.3" cy="109.2" r="3.4" fill="url(#r)"/>
<circle cx="1291" cy="138.5" r="3.4" fill="url(#r)"/>
<circle cx="1314.6" cy="167.7" r="3.4" fill="url(#r)"/>
<circle cx="1243.7" cy="79.9" r="3.4" fill="url(#r)"/>
<circle cx="1284.2" cy="186.6" r="3.4" fill="url(#r)"/>
<circle cx="1213.2" cy="98.7" r="3.4" fill="url(#r)"/>
<circle cx="1307.8" cy="215.9" r="3.4" fill="url(#r)"/>
<circle cx="1189.5" cy="69.4" r="3.4" fill="url(#r)"/>
<circle cx="1236.8" cy="128" r="3.4" fill="url(#r)"/>
<circle cx="1260.5" cy="157.3" r="3.4" fill="url(#r)"/>
<circle cx="1159.1" cy="88.3" r="3.4" fill="url(#r)"/>
<circle cx="1206.4" cy="146.8" r="3.4" fill="url(#r)"/>
<circle cx="1230" cy="176.1" r="3.4" fill="url(#r)"/>
<circle cx="1253.7" cy="205.4" r="3.4" fill="url(#r)"/>
<circle cx="1182.8" cy="117.5" r="3.4" fill="url(#r)"/>
<circle cx="1152.3" cy="136.4" r="3.4" fill="url(#r)"/>
<circle cx="1176" cy="165.7" r="3.4" fill="url(#r)"/>
<circle cx="1199.6" cy="194.9" r="3.4" fill="url(#r)"/>
<circle cx="1145.5" cy="184.5" r="3.4" fill="url(#r)"/>
<circle cx="1169.1" cy="213.8" r="3.4" fill="url(#r)"/>
<circle cx="1258.9" cy="61" r="3.4" fill="url(#r)"/>
<circle cx="1282.5" cy="90.3" r="3" fill="url(#go8)"/>
<circle cx="1306.2" cy="119.6" r="3.4" fill="url(#r)"/>
<circle cx="1275.7" cy="138.4" r="3.4" fill="url(#r)"/>
<circle cx="1228.4" cy="79.9" r="3.4" fill="url(#r)"/>
<circle cx="1252.1" cy="109.2" r="3" fill="url(#go8)"/>
<circle cx="1299.4" cy="167.7" r="3" fill="url(#go8)"/>
<circle cx="1323" cy="197" r="3.4" fill="url(#r)"/>
<circle cx="1198" cy="98.7" r="3.4" fill="url(#r)"/>
<circle cx="1221.6" cy="128" r="3" fill="url(#go8)"/>
<circle cx="1245.3" cy="157.3" r="3.4" fill="url(#r)"/>
<circle cx="1292.6" cy="215.8" r="3.4" fill="url(#r)"/>
<circle cx="1174.3" cy="69.4" r="3" fill="url(#go8)"/>
<circle cx="1268.9" cy="186.6" r="3" fill="url(#go8)"/>
<circle cx="1238.5" cy="205.4" r="3" fill="url(#go8)"/>
<circle cx="1167.5" cy="117.5" r="3.4" fill="url(#r)"/>
<circle cx="1214.8" cy="176.1" r="3.4" fill="url(#r)"/>
<circle cx="1191.2" cy="146.8" r="3" fill="url(#go8)"/>
<circle cx="1160.7" cy="165.6" r="3" fill="url(#go8)"/>
<circle cx="1184.4" cy="194.9" r="3.4" fill="url(#r)"/>
<circle cx="1153.9" cy="213.8" r="3.4" fill="url(#r)"/>
<circle cx="1297.8" cy="71.5" r="3.4" fill="url(#r)"/>
<circle cx="1267.3" cy="90.3" r="3.4" fill="url(#r)"/>
<circle cx="1291" cy="119.6" r="3.4" fill="url(#r)"/>
<circle cx="1243.7" cy="61" r="3.4" fill="url(#r)"/>
<circle cx="1314.6" cy="148.9" r="3.4" fill="url(#r)"/>
<circle cx="1284.2" cy="167.7" r="3.4" fill="url(#r)"/>
<circle cx="1213.2" cy="79.9" r="3.4" fill="url(#r)"/>
<circle cx="1236.8" cy="109.1" r="3.4" fill="url(#r)"/>
<circle cx="1260.5" cy="138.4" r="3.4" fill="url(#r)"/>
<circle cx="1307.8" cy="197" r="3.4" fill="url(#r)"/>
<circle cx="1159.1" cy="69.4" r="3.4" fill="url(#r)"/>
<circle cx="1206.4" cy="128" r="3.4" fill="url(#r)"/>
<circle cx="1230" cy="157.3" r="3.4" fill="url(#r)"/>
<circle cx="1253.7" cy="186.5" r="3.4" fill="url(#r)"/>
<circle cx="1277.4" cy="215.8" r="3.4" fill="url(#r)"/>
<circle cx="1182.8" cy="98.7" r="3.4" fill="url(#r)"/>
<circle cx="1152.3" cy="117.5" r="3.4" fill="url(#r)"/>
<circle cx="1176" cy="146.8" r="3.4" fill="url(#r)"/>
<circle cx="1223.2" cy="205.4" r="3.4" fill="url(#r)"/>
<circle cx="1199.6" cy="176.1" r="3.4" fill="url(#r)"/>
<circle cx="1169.1" cy="194.9" r="3.4" fill="url(#r)"/>
<circle cx="1145.5" cy="165.6" r="3.4" fill="url(#r)"/>
<circle cx="1138.7" cy="213.8" r="3.4" fill="url(#r)"/>
<circle cx="1282.5" cy="71.5" r="3" fill="url(#go8)"/>
<circle cx="1306.2" cy="100.8" r="3.4" fill="url(#r)"/>
<circle cx="1275.7" cy="119.6" r="3.4" fill="url(#r)"/>
<circle cx="1228.4" cy="61" r="3.4" fill="url(#r)"/>
<circle cx="1252.1" cy="90.3" r="3" fill="url(#go8)"/>
<circle cx="1299.4" cy="148.9" r="3" fill="url(#go8)"/>
<circle cx="1323" cy="178.2" r="3.4" fill="url(#r)"/>
<circle cx="1292.6" cy="197" r="3.4" fill="url(#r)"/>
<circle cx="1221.6" cy="109.1" r="3" fill="url(#go8)"/>
<circle cx="1245.3" cy="138.4" r="3.4" fill="url(#r)"/>
<circle cx="1198" cy="79.8" r="3.4" fill="url(#r)"/>
<circle cx="1268.9" cy="167.7" r="3" fill="url(#go8)"/>
<circle cx="1238.5" cy="186.5" r="3" fill="url(#go8)"/>
<circle cx="1167.5" cy="98.7" r="3.4" fill="url(#r)"/>
<circle cx="1214.8" cy="157.2" r="3.4" fill="url(#r)"/>
<circle cx="1262.1" cy="215.8" r="3.4" fill="url(#r)"/>
<circle cx="1191.2" cy="128" r="3" fill="url(#go8)"/>
<circle cx="1160.7" cy="146.8" r="3" fill="url(#go8)"/>
<circle cx="1184.4" cy="176.1" r="3.4" fill="url(#r)"/>
<circle cx="1208" cy="205.4" r="3" fill="url(#go8)"/>
<circle cx="1153.9" cy="194.9" r="3.4" fill="url(#r)"/>
<circle cx="1267.3" cy="71.5" r="3.4" fill="url(#r)"/>
<circle cx="1291" cy="100.8" r="3.4" fill="url(#r)"/>
<circle cx="1314.6" cy="130" r="3.4" fill="url(#r)"/>
<circle cx="1213.2" cy="61" r="3.4" fill="url(#r)"/>
<circle cx="1284.2" cy="148.9" r="3.4" fill="url(#r)"/>
<circle cx="1331.5" cy="207.4" r="3.4" fill="url(#r)"/>
<circle cx="1236.8" cy="90.3" r="3.4" fill="url(#r)"/>
<circle cx="1307.8" cy="178.2" r="3.4" fill="url(#r)"/>
<circle cx="1260.5" cy="119.6" r="3.4" fill="url(#r)"/>
<circle cx="1230" cy="138.4" r="3.4" fill="url(#r)"/>
<circle cx="1182.8" cy="79.8" r="3.4" fill="url(#r)"/>
<circle cx="1206.4" cy="109.1" r="3.4" fill="url(#r)"/>
<circle cx="1253.7" cy="167.7" r="3.4" fill="url(#r)"/>
<circle cx="1277.4" cy="197" r="3.4" fill="url(#r)"/>
<circle cx="1152.3" cy="98.7" r="3.4" fill="url(#r)"/>
<circle cx="1176" cy="128" r="3.4" fill="url(#r)"/>
<circle cx="1199.6" cy="157.2" r="3.4" fill="url(#r)"/>
<circle cx="1223.2" cy="186.5" r="3.4" fill="url(#r)"/>
<circle cx="1246.9" cy="215.8" r="3.4" fill="url(#r)"/>
<circle cx="1169.1" cy="176.1" r="3.4" fill="url(#r)"/>
<circle cx="1192.8" cy="205.4" r="3.4" fill="url(#r)"/>
<circle cx="1145.5" cy="146.8" r="3.4" fill="url(#r)"/>
<circle cx="1138.7" cy="194.9" r="3.4" fill="url(#r)"/>
<circle cx="1306.2" cy="81.9" r="3.4" fill="url(#r)"/>
<circle cx="1252.1" cy="71.5" r="3" fill="url(#go8)"/>
<circle cx="1275.7" cy="100.7" r="3.4" fill="url(#r)"/>
<circle cx="1299.4" cy="130" r="3" fill="url(#go8)"/>
<circle cx="1323" cy="159.3" r="3.4" fill="url(#r)"/>
<circle cx="1221.6" cy="90.3" r="3" fill="url(#go8)"/>
<circle cx="1245.3" cy="119.6" r="3.4" fill="url(#r)"/>
<circle cx="1292.6" cy="178.1" r="3.4" fill="url(#r)"/>
<circle cx="1316.2" cy="207.4" r="3" fill="url(#go8)"/>
<circle cx="1198" cy="61" r="3.4" fill="url(#r)"/>
<circle cx="1268.9" cy="148.9" r="3" fill="url(#go8)"/>
<circle cx="1238.5" cy="167.7" r="3" fill="url(#go8)"/>
<circle cx="1167.5" cy="79.8" r="3.4" fill="url(#r)"/>
<circle cx="1214.8" cy="138.4" r="3.4" fill="url(#r)"/>
<circle cx="1191.2" cy="109.1" r="3" fill="url(#go8)"/>
<circle cx="1262.1" cy="197" r="3.4" fill="url(#r)"/>
<circle cx="1160.7" cy="127.9" r="3" fill="url(#go8)"/>
<circle cx="1184.4" cy="157.2" r="3.4" fill="url(#r)"/>
<circle cx="1208" cy="186.5" r="3" fill="url(#go8)"/>
<circle cx="1231.7" cy="215.8" r="3.4" fill="url(#r)"/>
<circle cx="1153.9" cy="176.1" r="3.4" fill="url(#r)"/>
<circle cx="1177.6" cy="205.3" r="3" fill="url(#go8)"/>
<circle cx="1291" cy="81.9" r="3.4" fill="url(#r)"/>
<circle cx="1314.6" cy="111.2" r="3.4" fill="url(#r)"/>
<circle cx="1284.2" cy="130" r="3.4" fill="url(#r)"/>
<circle cx="1331.5" cy="188.6" r="3.4" fill="url(#r)"/>
<circle cx="1236.8" cy="71.4" r="3.4" fill="url(#r)"/>
<circle cx="1307.8" cy="159.3" r="3.4" fill="url(#r)"/>
<circle cx="1260.5" cy="100.7" r="3.4" fill="url(#r)"/>
<circle cx="1230" cy="119.6" r="3.4" fill="url(#r)"/>
<circle cx="1301" cy="207.4" r="3.4" fill="url(#r)"/>
<circle cx="1182.8" cy="61" r="3.4" fill="url(#r)"/>
<circle cx="1206.4" cy="90.3" r="3.4" fill="url(#r)"/>
<circle cx="1253.7" cy="148.8" r="3.4" fill="url(#r)"/>
<circle cx="1277.4" cy="178.1" r="3.4" fill="url(#r)"/>
<circle cx="1246.9" cy="197" r="3.4" fill="url(#r)"/>
<circle cx="1152.3" cy="79.8" r="3.4" fill="url(#r)"/>
<circle cx="1176" cy="109.1" r="3.4" fill="url(#r)"/>
<circle cx="1199.6" cy="138.4" r="3.4" fill="url(#r)"/>
<circle cx="1223.2" cy="167.7" r="3.4" fill="url(#r)"/>
<circle cx="1169.1" cy="157.2" r="3.4" fill="url(#r)"/>
<circle cx="1145.5" cy="127.9" r="3.4" fill="url(#r)"/>
<circle cx="1192.8" cy="186.5" r="3.4" fill="url(#r)"/>
<circle cx="1216.5" cy="215.8" r="3.4" fill="url(#r)"/>
<circle cx="1138.7" cy="176.1" r="3.4" fill="url(#r)"/>
<circle cx="1162.3" cy="205.3" r="3.4" fill="url(#r)"/>
<circle cx="1306.2" cy="63.1" r="3.4" fill="url(#r)"/>
<circle cx="1275.7" cy="81.9" r="3.4" fill="url(#r)"/>
<circle cx="1299.4" cy="111.2" r="3" fill="url(#go8)"/>
<circle cx="1323" cy="140.5" r="3.4" fill="url(#r)"/>
<circle cx="1292.6" cy="159.3" r="3.4" fill="url(#r)"/>
<circle cx="1316.2" cy="188.6" r="3" fill="url(#go8)"/>
<circle cx="1221.6" cy="71.4" r="3" fill="url(#go8)"/>
<circle cx="1245.3" cy="100.7" r="3.4" fill="url(#r)"/>
<circle cx="1339.9" cy="217.9" r="3.4" fill="url(#r)"/>
<circle cx="1268.9" cy="130" r="3" fill="url(#go8)"/>
<circle cx="1214.8" cy="119.6" r="3.4" fill="url(#r)"/>
<circle cx="1238.5" cy="148.8" r="3" fill="url(#go8)"/>
<circle cx="1167.5" cy="61" r="3.4" fill="url(#r)"/>
<circle cx="1191.2" cy="90.3" r="3" fill="url(#go8)"/>
<circle cx="1262.1" cy="178.1" r="3.4" fill="url(#r)"/>
<circle cx="1285.8" cy="207.4" r="3" fill="url(#go8)"/>
<circle cx="1231.7" cy="197" r="3.4" fill="url(#r)"/>
<circle cx="1160.7" cy="109.1" r="3" fill="url(#go8)"/>
<circle cx="1184.4" cy="138.4" r="3.4" fill="url(#r)"/>
<circle cx="1208" cy="167.7" r="3" fill="url(#go8)"/>
<circle cx="1177.6" cy="186.5" r="3" fill="url(#go8)"/>
<circle cx="1153.9" cy="157.2" r="3.4" fill="url(#r)"/>
<circle cx="1201.2" cy="215.8" r="3.4" fill="url(#r)"/>
<circle cx="1147.1" cy="205.3" r="3" fill="url(#go8)"/>
<circle cx="1291" cy="63.1" r="3.4" fill="url(#r)"/>
<circle cx="1314.6" cy="92.3" r="3.4" fill="url(#r)"/>
<circle cx="1284.2" cy="111.2" r="3.4" fill="url(#r)"/>
<circle cx="1331.5" cy="169.7" r="3.4" fill="url(#r)"/>
<circle cx="1307.8" cy="140.5" r="3.4" fill="url(#r)"/>
<circle cx="1260.5" cy="81.9" r="3.4" fill="url(#r)"/>
<circle cx="1324.7" cy="217.9" r="3.4" fill="url(#r)"/>
<circle cx="1301" cy="188.6" r="3.4" fill="url(#r)"/>
<circle cx="1206.4" cy="71.4" r="3.4" fill="url(#r)"/>
<circle cx="1230" cy="100.7" r="3.4" fill="url(#r)"/>
<circle cx="1253.7" cy="130" r="3.4" fill="url(#r)"/>
<circle cx="1277.4" cy="159.3" r="3.4" fill="url(#r)"/>
<circle cx="1152.3" cy="61" r="3.4" fill="url(#r)"/>
<circle cx="1176" cy="90.3" r="3.4" fill="url(#r)"/>
<circle cx="1246.9" cy="178.1" r="3.4" fill="url(#r)"/>
<circle cx="1270.5" cy="207.4" r="3.4" fill="url(#r)"/>
<circle cx="1199.6" cy="119.5" r="3.4" fill="url(#r)"/>
<circle cx="1223.2" cy="148.8" r="3.4" fill="url(#r)"/>
<circle cx="1169.1" cy="138.4" r="3.4" fill="url(#r)"/>
<circle cx="1145.5" cy="109.1" r="3.4" fill="url(#r)"/>
<circle cx="1192.8" cy="167.7" r="3.4" fill="url(#r)"/>
<circle cx="1216.5" cy="196.9" r="3.4" fill="url(#r)"/>
<circle cx="1186" cy="215.8" r="3.4" fill="url(#r)"/>
<circle cx="1138.7" cy="157.2" r="3.4" fill="url(#r)"/>
<circle cx="1162.3" cy="186.5" r="3.4" fill="url(#r)"/>
<circle cx="1131.9" cy="205.3" r="3.4" fill="url(#r)"/>
<circle cx="1275.7" cy="63" r="3.4" fill="url(#r)"/>
<circle cx="1299.4" cy="92.3" r="3" fill="url(#go8)"/>
<circle cx="1323" cy="121.6" r="3.4" fill="url(#r)"/>
<circle cx="1292.6" cy="140.4" r="3.4" fill="url(#r)"/>
<circle cx="1316.2" cy="169.7" r="3" fill="url(#go8)"/>
<circle cx="1245.3" cy="81.9" r="3.4" fill="url(#r)"/>
<circle cx="1268.9" cy="111.2" r="3" fill="url(#go8)"/>
<circle cx="1339.9" cy="199" r="3.4" fill="url(#r)"/>
<circle cx="1309.4" cy="217.8" r="3.4" fill="url(#r)"/>
<circle cx="1238.5" cy="130" r="3" fill="url(#go8)"/>
<circle cx="1191.2" cy="71.4" r="3" fill="url(#go8)"/>
<circle cx="1214.8" cy="100.7" r="3.4" fill="url(#r)"/>
<circle cx="1262.1" cy="159.3" r="3.4" fill="url(#r)"/>
<circle cx="1285.8" cy="188.6" r="3" fill="url(#go8)"/>
<circle cx="1160.7" cy="90.2" r="3" fill="url(#go8)"/>
<circle cx="1184.4" cy="119.5" r="3.4" fill="url(#r)"/>
<circle cx="1231.7" cy="178.1" r="3.4" fill="url(#r)"/>
<circle cx="1255.3" cy="207.4" r="3" fill="url(#go8)"/>
<circle cx="1208" cy="148.8" r="3" fill="url(#go8)"/>
<circle cx="1177.6" cy="167.6" r="3" fill="url(#go8)"/>
<circle cx="1201.2" cy="196.9" r="3.4" fill="url(#r)"/>
<circle cx="1153.9" cy="138.4" r="3.4" fill="url(#r)"/>
<circle cx="1147.1" cy="186.5" r="3" fill="url(#go8)"/>
<circle cx="1170.8" cy="215.8" r="3.4" fill="url(#r)"/>
<circle cx="1314.6" cy="73.5" r="3.4" fill="url(#r)"/>
<circle cx="1284.2" cy="92.3" r="3.4" fill="url(#r)"/>
<circle cx="1307.8" cy="121.6" r="3.4" fill="url(#r)"/>
<circle cx="1331.5" cy="150.9" r="3.4" fill="url(#r)"/>
<circle cx="1260.5" cy="63" r="3.4" fill="url(#r)"/>
<circle cx="1301" cy="169.7" r="3.4" fill="url(#r)"/>
<circle cx="1324.7" cy="199" r="3.4" fill="url(#r)"/>
<circle cx="1230" cy="81.9" r="3.4" fill="url(#r)"/>
<circle cx="1253.7" cy="111.1" r="3.4" fill="url(#r)"/>
<circle cx="1277.4" cy="140.4" r="3.4" fill="url(#r)"/>
<circle cx="1246.9" cy="159.3" r="3.4" fill="url(#r)"/>
<circle cx="1270.5" cy="188.5" r="3.4" fill="url(#r)"/>
<circle cx="1176" cy="71.4" r="3.4" fill="url(#r)"/>
<circle cx="1199.6" cy="100.7" r="3.4" fill="url(#r)"/>
<circle cx="1223.2" cy="130" r="3.4" fill="url(#r)"/>
<circle cx="1294.2" cy="217.8" r="3.4" fill="url(#r)"/>
<circle cx="1145.5" cy="90.2" r="3.4" fill="url(#r)"/>
<circle cx="1169.1" cy="119.5" r="3.4" fill="url(#r)"/>
<circle cx="1192.8" cy="148.8" r="3.4" fill="url(#r)"/>
<circle cx="1240.1" cy="207.4" r="3.4" fill="url(#r)"/>
<circle cx="1216.5" cy="178.1" r="3.4" fill="url(#r)"/>
<circle cx="1186" cy="196.9" r="3.4" fill="url(#r)"/>
<circle cx="1138.7" cy="138.4" r="3.4" fill="url(#r)"/>
<circle cx="1162.3" cy="167.6" r="3.4" fill="url(#r)"/>
<circle cx="1131.9" cy="186.5" r="3.4" fill="url(#r)"/>
<circle cx="1155.5" cy="215.8" r="3.4" fill="url(#r)"/>
<circle cx="1299.4" cy="73.5" r="3" fill="url(#go8)"/>
<circle cx="1323" cy="102.8" r="3.4" fill="url(#r)"/>
<circle cx="1245.3" cy="63" r="3.4" fill="url(#r)"/>
<circle cx="1292.6" cy="121.6" r="3.4" fill="url(#r)"/>
<circle cx="1316.2" cy="150.9" r="3" fill="url(#go8)"/>
<circle cx="1268.9" cy="92.3" r="3" fill="url(#go8)"/>
<circle cx="1339.9" cy="180.2" r="3.4" fill="url(#r)"/>
<circle cx="1238.5" cy="111.1" r="3" fill="url(#go8)"/>
<circle cx="1309.4" cy="199" r="3.4" fill="url(#r)"/>
<circle cx="1214.8" cy="81.8" r="3.4" fill="url(#r)"/>
<circle cx="1262.1" cy="140.4" r="3.4" fill="url(#r)"/>
<circle cx="1285.8" cy="169.7" r="3" fill="url(#go8)"/>
<circle cx="1160.7" cy="71.4" r="3" fill="url(#go8)"/>
<circle cx="1231.7" cy="159.2" r="3.4" fill="url(#r)"/>
<circle cx="1255.3" cy="188.5" r="3" fill="url(#go8)"/>
<circle cx="1184.4" cy="100.7" r="3.4" fill="url(#r)"/>
<circle cx="1208" cy="130" r="3" fill="url(#go8)"/>
<circle cx="1279" cy="217.8" r="3.4" fill="url(#r)"/>
<circle cx="1153.9" cy="119.5" r="3.4" fill="url(#r)"/>
<circle cx="1177.6" cy="148.8" r="3" fill="url(#go8)"/>
<circle cx="1201.2" cy="178.1" r="3.4" fill="url(#r)"/>
<circle cx="1224.9" cy="207.4" r="3" fill="url(#go8)"/>
<circle cx="1147.1" cy="167.6" r="3" fill="url(#go8)"/>
<circle cx="1170.8" cy="196.9" r="3.4" fill="url(#r)"/>
<circle cx="1140.3" cy="215.7" r="3.4" fill="url(#r)"/>
<circle cx="1284.2" cy="73.5" r="3.4" fill="url(#r)"/>
<circle cx="1331.5" cy="132" r="3.4" fill="url(#r)"/>
<circle cx="1307.8" cy="102.8" r="3.4" fill="url(#r)"/>
<circle cx="1324.7" cy="180.2" r="3.4" fill="url(#r)"/>
<circle cx="1230" cy="63" r="3.4" fill="url(#r)"/>
<circle cx="1253.7" cy="92.3" r="3.4" fill="url(#r)"/>
<circle cx="1277.4" cy="121.6" r="3.4" fill="url(#r)"/>
<circle cx="1301" cy="150.9" r="3.4" fill="url(#r)"/>
<circle cx="1348.3" cy="209.4" r="3.4" fill="url(#r)"/>
<circle cx="1246.9" cy="140.4" r="3.4" fill="url(#r)"/>
<circle cx="1270.5" cy="169.7" r="3.4" fill="url(#r)"/>
<circle cx="1223.2" cy="111.1" r="3.4" fill="url(#r)"/>
<circle cx="1199.6" cy="81.8" r="3.4" fill="url(#r)"/>
<circle cx="1294.2" cy="199" r="3.4" fill="url(#r)"/>
<circle cx="1263.8" cy="217.8" r="3.4" fill="url(#r)"/>
<circle cx="1145.5" cy="71.4" r="3.4" fill="url(#r)"/>
<circle cx="1169.1" cy="100.7" r="3.4" fill="url(#r)"/>
<circle cx="1192.8" cy="130" r="3.4" fill="url(#r)"/>
<circle cx="1240.1" cy="188.5" r="3.4" fill="url(#r)"/>
<circle cx="1216.5" cy="159.2" r="3.4" fill="url(#r)"/>
<circle cx="1138.7" cy="119.5" r="3.4" fill="url(#r)"/>
<circle cx="1162.3" cy="148.8" r="3.4" fill="url(#r)"/>
<circle cx="1186" cy="178.1" r="3.4" fill="url(#r)"/>
<circle cx="1209.7" cy="207.4" r="3.4" fill="url(#r)"/>
<circle cx="1131.9" cy="167.6" r="3.4" fill="url(#r)"/>
<circle cx="1155.5" cy="196.9" r="3.4" fill="url(#r)"/>
<circle cx="1125.1" cy="215.7" r="3.4" fill="url(#r)"/>
<circle cx="1323" cy="83.9" r="3.4" fill="url(#r)"/>
<circle cx="1292.6" cy="102.7" r="3.4" fill="url(#r)"/>
<circle cx="1316.2" cy="132" r="3" fill="url(#go8)"/>
<circle cx="1268.9" cy="73.5" r="3" fill="url(#go8)"/>
<circle cx="1339.9" cy="161.3" r="3.4" fill="url(#r)"/>
<circle cx="1238.5" cy="92.3" r="3" fill="url(#go8)"/>
<circle cx="1309.4" cy="180.1" r="3.4" fill="url(#r)"/>
<circle cx="1214.8" cy="63" r="3.4" fill="url(#r)"/>
<circle cx="1262.1" cy="121.6" r="3.4" fill="url(#r)"/>
<circle cx="1333.1" cy="209.4" r="3" fill="url(#go8)"/>
<circle cx="1285.8" cy="150.9" r="3" fill="url(#go8)"/>
<circle cx="1231.7" cy="140.4" r="3.4" fill="url(#r)"/>
<circle cx="1255.3" cy="169.7" r="3" fill="url(#go8)"/>
<circle cx="1279" cy="199" r="3.4" fill="url(#r)"/>
<circle cx="1184.4" cy="81.8" r="3.4" fill="url(#r)"/>
<circle cx="1208" cy="111.1" r="3" fill="url(#go8)"/>
<circle cx="1153.9" cy="100.7" r="3.4" fill="url(#r)"/>
<circle cx="1177.6" cy="129.9" r="3" fill="url(#go8)"/>
<circle cx="1201.2" cy="159.2" r="3.4" fill="url(#r)"/>
<circle cx="1224.9" cy="188.5" r="3" fill="url(#go8)"/>
<circle cx="1248.5" cy="217.8" r="3.4" fill="url(#r)"/>
<circle cx="1194.4" cy="207.3" r="3" fill="url(#go8)"/>
<circle cx="1147.1" cy="148.8" r="3" fill="url(#go8)"/>
<circle cx="1170.8" cy="178.1" r="3.4" fill="url(#r)"/>
<circle cx="1140.3" cy="196.9" r="3.4" fill="url(#r)"/>
<circle cx="1331.5" cy="113.2" r="3.4" fill="url(#r)"/>
<circle cx="1307.8" cy="83.9" r="3.4" fill="url(#r)"/>
<circle cx="1324.7" cy="161.3" r="3.4" fill="url(#r)"/>
<circle cx="1253.7" cy="73.4" r="3.4" fill="url(#r)"/>
<circle cx="1301" cy="132" r="3.4" fill="url(#r)"/>
<circle cx="1348.3" cy="190.6" r="3.4" fill="url(#r)"/>
<circle cx="1277.4" cy="102.7" r="3.4" fill="url(#r)"/>
<circle cx="1317.9" cy="209.4" r="3.4" fill="url(#r)"/>
<circle cx="1199.6" cy="63" r="3.4" fill="url(#r)"/>
<circle cx="1223.2" cy="92.3" r="3.4" fill="url(#r)"/>
<circle cx="1246.9" cy="121.6" r="3.4" fill="url(#r)"/>
<circle cx="1270.5" cy="150.8" r="3.4" fill="url(#r)"/>
<circle cx="1294.2" cy="180.1" r="3.4" fill="url(#r)"/>
<circle cx="1169.1" cy="81.8" r="3.4" fill="url(#r)"/>
<circle cx="1192.8" cy="111.1" r="3.4" fill="url(#r)"/>
<circle cx="1240.1" cy="169.7" r="3.4" fill="url(#r)"/>
<circle cx="1263.8" cy="199" r="3.4" fill="url(#r)"/>
<circle cx="1216.5" cy="140.4" r="3.4" fill="url(#r)"/>
<circle cx="1186" cy="159.2" r="3.4" fill="url(#r)"/>
<circle cx="1138.7" cy="100.7" r="3.4" fill="url(#r)"/>
<circle cx="1162.3" cy="129.9" r="3.4" fill="url(#r)"/>
<circle cx="1209.7" cy="188.5" r="3.4" fill="url(#r)"/>
<circle cx="1233.3" cy="217.8" r="3.4" fill="url(#r)"/>
<circle cx="1131.9" cy="148.8" r="3.4" fill="url(#r)"/>
<circle cx="1155.5" cy="178.1" r="3.4" fill="url(#r)"/>
<circle cx="1179.2" cy="207.3" r="3.4" fill="url(#r)"/>
<circle cx="1125.1" cy="196.9" r="3.4" fill="url(#r)"/>
<circle cx="1323" cy="65.1" r="3.4" fill="url(#r)"/>
<circle cx="1292.6" cy="83.9" r="3.4" fill="url(#r)"/>
<circle cx="1316.2" cy="113.2" r="3" fill="url(#go8)"/>
<circle cx="1339.9" cy="142.5" r="3.4" fill="url(#r)"/>
<circle cx="1238.5" cy="73.4" r="3" fill="url(#go8)"/>
<circle cx="1309.4" cy="161.3" r="3.4" fill="url(#r)"/>
<circle cx="1333.1" cy="190.6" r="3" fill="url(#go8)"/>
<circle cx="1262.1" cy="102.7" r="3.4" fill="url(#r)"/>
<circle cx="1285.8" cy="132" r="3" fill="url(#go8)"/>
<circle cx="1184.4" cy="63" r="3.4" fill="url(#r)"/>
<circle cx="1208" cy="92.3" r="3" fill="url(#go8)"/>
<circle cx="1231.7" cy="121.6" r="3.4" fill="url(#r)"/>
<circle cx="1255.3" cy="150.8" r="3" fill="url(#go8)"/>
<circle cx="1279" cy="180.1" r="3.4" fill="url(#r)"/>
<circle cx="1302.6" cy="209.4" r="3" fill="url(#go8)"/>
<circle cx="1153.9" cy="81.8" r="3.4" fill="url(#r)"/>
<circle cx="1177.6" cy="111.1" r="3" fill="url(#go8)"/>
<circle cx="1201.2" cy="140.4" r="3.4" fill="url(#r)"/>
<circle cx="1224.9" cy="169.7" r="3" fill="url(#go8)"/>
<circle cx="1248.5" cy="199" r="3.4" fill="url(#r)"/>
<circle cx="1194.4" cy="188.5" r="3" fill="url(#go8)"/>
<circle cx="1218.1" cy="217.8" r="3.4" fill="url(#r)"/>
<circle cx="1147.1" cy="129.9" r="3" fill="url(#go8)"/>
<circle cx="1170.8" cy="159.2" r="3.4" fill="url(#r)"/>
<circle cx="1140.3" cy="178" r="3.4" fill="url(#r)"/>
<circle cx="1164" cy="207.3" r="3" fill="url(#go8)"/>
<circle cx="1307.8" cy="65.1" r="3.4" fill="url(#r)"/>
<circle cx="1331.5" cy="94.3" r="3.4" fill="url(#r)"/>
<circle cx="1324.7" cy="142.5" r="3.4" fill="url(#r)"/>
<circle cx="1301" cy="113.2" r="3.4" fill="url(#r)"/>
<circle cx="1348.3" cy="171.7" r="3.4" fill="url(#r)"/>
<circle cx="1277.4" cy="83.9" r="3.4" fill="url(#r)"/>
<circle cx="1317.9" cy="190.6" r="3.4" fill="url(#r)"/>
<circle cx="1341.5" cy="219.9" r="3.4" fill="url(#r)"/>
<circle cx="1246.9" cy="102.7" r="3.4" fill="url(#r)"/>
<circle cx="1270.5" cy="132" r="3.4" fill="url(#r)"/>
<circle cx="1223.2" cy="73.4" r="3.4" fill="url(#r)"/>
<circle cx="1294.2" cy="161.3" r="3.4" fill="url(#r)"/>
<circle cx="1169.1" cy="63" r="3.4" fill="url(#r)"/>
<circle cx="1263.8" cy="180.1" r="3.4" fill="url(#r)"/>
<circle cx="1192.8" cy="92.3" r="3.4" fill="url(#r)"/>
<circle cx="1216.5" cy="121.5" r="3.4" fill="url(#r)"/>
<circle cx="1240.1" cy="150.8" r="3.4" fill="url(#r)"/>
<circle cx="1287.4" cy="209.4" r="3.4" fill="url(#r)"/>
<circle cx="1138.7" cy="81.8" r="3.4" fill="url(#r)"/>
<circle cx="1162.3" cy="111.1" r="3.4" fill="url(#r)"/>
<circle cx="1186" cy="140.4" r="3.4" fill="url(#r)"/>
<circle cx="1209.7" cy="169.7" r="3.4" fill="url(#r)"/>
<circle cx="1233.3" cy="198.9" r="3.4" fill="url(#r)"/>
<circle cx="1202.8" cy="217.8" r="3.4" fill="url(#r)"/>
<circle cx="1131.9" cy="129.9" r="3.4" fill="url(#r)"/>
<circle cx="1155.5" cy="159.2" r="3.4" fill="url(#r)"/>
<circle cx="1179.2" cy="188.5" r="3.4" fill="url(#r)"/>
<circle cx="1148.8" cy="207.3" r="3.4" fill="url(#r)"/>
<circle cx="1125.1" cy="178" r="3.4" fill="url(#r)"/>
<circle cx="1292.6" cy="65" r="3.4" fill="url(#r)"/>
<circle cx="1316.2" cy="94.3" r="3" fill="url(#go8)"/>
<circle cx="1339.9" cy="123.6" r="3.4" fill="url(#r)"/>
<circle cx="1309.4" cy="142.4" r="3.4" fill="url(#r)"/>
<circle cx="1333.1" cy="171.7" r="3" fill="url(#go8)"/>
<circle cx="1262.1" cy="83.9" r="3.4" fill="url(#r)"/>
<circle cx="1285.8" cy="113.2" r="3" fill="url(#go8)"/>
<circle cx="1231.7" cy="102.7" r="3.4" fill="url(#r)"/>
<circle cx="1326.3" cy="219.8" r="3.4" fill="url(#r)"/>
<circle cx="1255.3" cy="132" r="3" fill="url(#go8)"/>
<circle cx="1279" cy="161.3" r="3.4" fill="url(#r)"/>
<circle cx="1302.6" cy="190.6" r="3" fill="url(#go8)"/>
<circle cx="1208" cy="73.4" r="3" fill="url(#go8)"/>
<circle cx="1177.6" cy="92.2" r="3" fill="url(#go8)"/>
<circle cx="1272.2" cy="209.4" r="3" fill="url(#go8)"/>
<circle cx="1153.9" cy="63" r="3.4" fill="url(#r)"/>
<circle cx="1201.2" cy="121.5" r="3.4" fill="url(#r)"/>
<circle cx="1224.9" cy="150.8" r="3" fill="url(#go8)"/>
<circle cx="1248.5" cy="180.1" r="3.4" fill="url(#r)"/>
<circle cx="1194.4" cy="169.6" r="3" fill="url(#go8)"/>
<circle cx="1218.1" cy="198.9" r="3.4" fill="url(#r)"/>
<circle cx="1147.1" cy="111.1" r="3" fill="url(#go8)"/>
<circle cx="1170.8" cy="140.4" r="3.4" fill="url(#r)"/>
<circle cx="1140.3" cy="159.2" r="3.4" fill="url(#r)"/>
<circle cx="1187.6" cy="217.8" r="3.4" fill="url(#r)"/>
<circle cx="1164" cy="188.5" r="3" fill="url(#go8)"/>
<circle cx="1133.5" cy="207.3" r="3" fill="url(#go8)"/>
<circle cx="1331.5" cy="75.5" r="3.4" fill="url(#r)"/>
<circle cx="1324.7" cy="123.6" r="3.4" fill="url(#r)"/>
<circle cx="1301" cy="94.3" r="3.4" fill="url(#r)"/>
<circle cx="1277.4" cy="65" r="3.4" fill="url(#r)"/>
<circle cx="1348.3" cy="152.9" r="3.4" fill="url(#r)"/>
<circle cx="1317.9" cy="171.7" r="3.4" fill="url(#r)"/>
<circle cx="1246.9" cy="83.9" r="3.4" fill="url(#r)"/>
<circle cx="1270.5" cy="113.1" r="3.4" fill="url(#r)"/>
<circle cx="1341.5" cy="201" r="3.4" fill="url(#r)"/>
<circle cx="1294.2" cy="142.4" r="3.4" fill="url(#r)"/>
<circle cx="1263.8" cy="161.3" r="3.4" fill="url(#r)"/>
<circle cx="1311.1" cy="219.8" r="3.4" fill="url(#r)"/>
<circle cx="1192.8" cy="73.4" r="3.4" fill="url(#r)"/>
<circle cx="1240.1" cy="132" r="3.4" fill="url(#r)"/>
<circle cx="1287.4" cy="190.5" r="3.4" fill="url(#r)"/>
<circle cx="1216.5" cy="102.7" r="3.4" fill="url(#r)"/>
<circle cx="1186" cy="121.5" r="3.4" fill="url(#r)"/>
<circle cx="1257" cy="209.4" r="3.4" fill="url(#r)"/>
<circle cx="1138.7" cy="63" r="3.4" fill="url(#r)"/>
<circle cx="1162.3" cy="92.2" r="3.4" fill="url(#r)"/>
<circle cx="1209.7" cy="150.8" r="3.4" fill="url(#r)"/>
<circle cx="1233.3" cy="180.1" r="3.4" fill="url(#r)"/>
<circle cx="1202.8" cy="198.9" r="3.4" fill="url(#r)"/>
<circle cx="1131.9" cy="111.1" r="3.4" fill="url(#r)"/>
<circle cx="1155.5" cy="140.4" r="3.4" fill="url(#r)"/>
<circle cx="1179.2" cy="169.6" r="3.4" fill="url(#r)"/>
<circle cx="1125.1" cy="159.2" r="3.4" fill="url(#r)"/>
<circle cx="1148.8" cy="188.5" r="3.4" fill="url(#r)"/>
<circle cx="1172.4" cy="217.8" r="3.4" fill="url(#r)"/>
<circle cx="1118.3" cy="207.3" r="3.4" fill="url(#r)"/>
<circle cx="1316.2" cy="75.5" r="3" fill="url(#go8)"/>
<circle cx="1339.9" cy="104.8" r="3.4" fill="url(#r)"/>
<circle cx="1309.4" cy="123.6" r="3.4" fill="url(#r)"/>
<circle cx="1262.1" cy="65" r="3.4" fill="url(#r)"/>
<circle cx="1285.8" cy="94.3" r="3" fill="url(#go8)"/>
<circle cx="1333.1" cy="152.9" r="3" fill="url(#go8)"/>
<circle cx="1231.7" cy="83.8" r="3.4" fill="url(#r)"/>
<circle cx="1255.3" cy="113.1" r="3" fill="url(#go8)"/>
<circle cx="1279" cy="142.4" r="3.4" fill="url(#r)"/>
<circle cx="1302.6" cy="171.7" r="3" fill="url(#go8)"/>
<circle cx="1326.3" cy="201" r="3.4" fill="url(#r)"/>
<circle cx="1272.2" cy="190.5" r="3" fill="url(#go8)"/>
<circle cx="1295.8" cy="219.8" r="3.4" fill="url(#r)"/>
<circle cx="1177.6" cy="73.4" r="3" fill="url(#go8)"/>
<circle cx="1201.2" cy="102.7" r="3.4" fill="url(#r)"/>
<circle cx="1224.9" cy="132" r="3" fill="url(#go8)"/>
<circle cx="1248.5" cy="161.2" r="3.4" fill="url(#r)"/>
<circle cx="1194.4" cy="150.8" r="3" fill="url(#go8)"/>
<circle cx="1218.1" cy="180.1" r="3.4" fill="url(#r)"/>
<circle cx="1147.1" cy="92.2" r="3" fill="url(#go8)"/>
<circle cx="1170.8" cy="121.5" r="3.4" fill="url(#r)"/>
<circle cx="1241.7" cy="209.4" r="3" fill="url(#go8)"/>
<circle cx="1187.6" cy="198.9" r="3.4" fill="url(#r)"/>
<circle cx="1140.3" cy="140.3" r="3.4" fill="url(#r)"/>
<circle cx="1164" cy="169.6" r="3" fill="url(#go8)"/>
<circle cx="1133.5" cy="188.5" r="3" fill="url(#go8)"/>
<circle cx="1157.2" cy="217.7" r="3.4" fill="url(#r)"/>
<circle cx="1301" cy="75.5" r="3.4" fill="url(#r)"/>
<circle cx="1324.7" cy="104.8" r="3.4" fill="url(#r)"/>
<circle cx="1348.3" cy="134" r="3.4" fill="url(#r)"/>
<circle cx="1317.9" cy="152.9" r="3.4" fill="url(#r)"/>
<circle cx="1246.9" cy="65" r="3.4" fill="url(#r)"/>
<circle cx="1270.5" cy="94.3" r="3.4" fill="url(#r)"/>
<circle cx="1341.5" cy="182.2" r="3.4" fill="url(#r)"/>
<circle cx="1294.2" cy="123.6" r="3.4" fill="url(#r)"/>
<circle cx="1263.8" cy="142.4" r="3.4" fill="url(#r)"/>
<circle cx="1240.1" cy="113.1" r="3.4" fill="url(#r)"/>
<circle cx="1287.4" cy="171.7" r="3.4" fill="url(#r)"/>
<circle cx="1311.1" cy="201" r="3.4" fill="url(#r)"/>
<circle cx="1216.5" cy="83.8" r="3.4" fill="url(#r)"/>
<circle cx="1186" cy="102.7" r="3.4" fill="url(#r)"/>
<circle cx="1257" cy="190.5" r="3.4" fill="url(#r)"/>
<circle cx="1280.6" cy="219.8" r="3.4" fill="url(#r)"/>
<circle cx="1162.3" cy="73.4" r="3.4" fill="url(#r)"/>
<circle cx="1209.7" cy="132" r="3.4" fill="url(#r)"/>
<circle cx="1233.3" cy="161.2" r="3.4" fill="url(#r)"/>
<circle cx="1131.9" cy="92.2" r="3.4" fill="url(#r)"/>
<circle cx="1155.5" cy="121.5" r="3.4" fill="url(#r)"/>
<circle cx="1179.2" cy="150.8" r="3.4" fill="url(#r)"/>
<circle cx="1202.8" cy="180.1" r="3.4" fill="url(#r)"/>
<circle cx="1226.5" cy="209.4" r="3.4" fill="url(#r)"/>
<circle cx="1172.4" cy="198.9" r="3.4" fill="url(#r)"/>
<circle cx="1125.1" cy="140.3" r="3.4" fill="url(#r)"/>
<circle cx="1148.8" cy="169.6" r="3.4" fill="url(#r)"/>
<circle cx="1118.3" cy="188.4" r="3.4" fill="url(#r)"/>
<circle cx="1142" cy="217.7" r="3.4" fill="url(#r)"/>
<circle cx="1339.9" cy="85.9" r="3.4" fill="url(#r)"/>
<circle cx="1309.4" cy="104.7" r="3.4" fill="url(#r)"/>
<circle cx="1333.1" cy="134" r="3" fill="url(#go8)"/>
<circle cx="1285.8" cy="75.5" r="3" fill="url(#go8)"/>
<circle cx="1231.7" cy="65" r="3.4" fill="url(#r)"/>
<circle cx="1255.3" cy="94.3" r="3" fill="url(#go8)"/>
<circle cx="1326.3" cy="182.1" r="3.4" fill="url(#r)"/>
<circle cx="1279" cy="123.6" r="3.4" fill="url(#r)"/>
<circle cx="1302.6" cy="152.9" r="3" fill="url(#go8)"/>
<circle cx="1201.2" cy="83.8" r="3.4" fill="url(#r)"/>
<circle cx="1224.9" cy="113.1" r="3" fill="url(#go8)"/>
<circle cx="1248.5" cy="142.4" r="3.4" fill="url(#r)"/>
<circle cx="1272.2" cy="171.7" r="3" fill="url(#go8)"/>
<circle cx="1295.8" cy="201" r="3.4" fill="url(#r)"/>
<circle cx="1194.4" cy="131.9" r="3" fill="url(#go8)"/>
<circle cx="1218.1" cy="161.2" r="3.4" fill="url(#r)"/>
<circle cx="1147.1" cy="73.4" r="3" fill="url(#go8)"/>
<circle cx="1170.8" cy="102.7" r="3.4" fill="url(#r)"/>
<circle cx="1241.7" cy="190.5" r="3" fill="url(#go8)"/>
<circle cx="1265.4" cy="219.8" r="3.4" fill="url(#r)"/>
<circle cx="1211.3" cy="209.3" r="3" fill="url(#go8)"/>
<circle cx="1140.3" cy="121.5" r="3.4" fill="url(#r)"/>
<circle cx="1164" cy="150.8" r="3" fill="url(#go8)"/>
<circle cx="1187.6" cy="180.1" r="3.4" fill="url(#r)"/>
<circle cx="1133.5" cy="169.6" r="3" fill="url(#go8)"/>
<circle cx="1157.2" cy="198.9" r="3.4" fill="url(#r)"/>
<circle cx="1126.7" cy="217.7" r="3.4" fill="url(#r)"/>
<circle cx="1324.7" cy="85.9" r="3.4" fill="url(#r)"/>
<circle cx="1348.3" cy="115.2" r="3.4" fill="url(#r)"/>
<circle cx="1317.9" cy="134" r="3.4" fill="url(#r)"/>
<circle cx="1270.5" cy="75.4" r="3.4" fill="url(#r)"/>
<circle cx="1341.5" cy="163.3" r="3.4" fill="url(#r)"/>
<circle cx="1294.2" cy="104.7" r="3.4" fill="url(#r)"/>
<circle cx="1263.8" cy="123.6" r="3.4" fill="url(#r)"/>
<circle cx="1334.7" cy="211.4" r="3.4" fill="url(#r)"/>
<circle cx="1240.1" cy="94.3" r="3.4" fill="url(#r)"/>
<circle cx="1311.1" cy="182.1" r="3.4" fill="url(#r)"/>
<circle cx="1216.5" cy="65" r="3.4" fill="url(#r)"/>
<circle cx="1287.4" cy="152.8" r="3.4" fill="url(#r)"/>
<circle cx="1257" cy="171.7" r="3.4" fill="url(#r)"/>
<circle cx="1186" cy="83.8" r="3.4" fill="url(#r)"/>
<circle cx="1209.7" cy="113.1" r="3.4" fill="url(#r)"/>
<circle cx="1233.3" cy="142.4" r="3.4" fill="url(#r)"/>
<circle cx="1280.6" cy="201" r="3.4" fill="url(#r)"/>
<circle cx="1179.2" cy="131.9" r="3.4" fill="url(#r)"/>
<circle cx="1202.8" cy="161.2" r="3.4" fill="url(#r)"/>
<circle cx="1226.5" cy="190.5" r="3.4" fill="url(#r)"/>
<circle cx="1131.9" cy="73.4" r="3.4" fill="url(#r)"/>
<circle cx="1155.5" cy="102.7" r="3.4" fill="url(#r)"/>
<circle cx="1250.2" cy="219.8" r="3.4" fill="url(#r)"/>
<circle cx="1125.1" cy="121.5" r="3.4" fill="url(#r)"/>
<circle cx="1148.8" cy="150.8" r="3.4" fill="url(#r)"/>
<circle cx="1172.4" cy="180.1" r="3.4" fill="url(#r)"/>
<circle cx="1196" cy="209.3" r="3.4" fill="url(#r)"/>
<circle cx="1142" cy="198.9" r="3.4" fill="url(#r)"/>
<circle cx="1118.3" cy="169.6" r="3.4" fill="url(#r)"/>
<circle cx="1111.5" cy="217.7" r="3.4" fill="url(#r)"/>
<circle cx="1339.9" cy="67.1" r="3.4" fill="url(#r)"/>
<circle cx="1309.4" cy="85.9" r="3.4" fill="url(#r)"/>
<circle cx="1333.1" cy="115.2" r="3" fill="url(#go8)"/>
<circle cx="1255.3" cy="75.4" r="3" fill="url(#go8)"/>
<circle cx="1326.3" cy="163.3" r="3.4" fill="url(#r)"/>
<circle cx="1279" cy="104.7" r="3.4" fill="url(#r)"/>
<circle cx="1302.6" cy="134" r="3" fill="url(#go8)"/>
<circle cx="1201.2" cy="65" r="3.4" fill="url(#r)"/>
<circle cx="1224.9" cy="94.3" r="3" fill="url(#go8)"/>
<circle cx="1248.5" cy="123.6" r="3.4" fill="url(#r)"/>
<circle cx="1272.2" cy="152.8" r="3" fill="url(#go8)"/>
<circle cx="1295.8" cy="182.1" r="3.4" fill="url(#r)"/>
<circle cx="1319.5" cy="211.4" r="3" fill="url(#go8)"/>
<circle cx="1194.4" cy="113.1" r="3" fill="url(#go8)"/>
<circle cx="1218.1" cy="142.4" r="3.4" fill="url(#r)"/>
<circle cx="1265.4" cy="201" r="3.4" fill="url(#r)"/>
<circle cx="1170.8" cy="83.8" r="3.4" fill="url(#r)"/>
<circle cx="1241.7" cy="171.7" r="3" fill="url(#go8)"/>
<circle cx="1211.3" cy="190.5" r="3" fill="url(#go8)"/>
<circle cx="1140.3" cy="102.6" r="3.4" fill="url(#r)"/>
<circle cx="1164" cy="131.9" r="3" fill="url(#go8)"/>
<circle cx="1187.6" cy="161.2" r="3.4" fill="url(#r)"/>
<circle cx="1234.9" cy="219.8" r="3.4" fill="url(#r)"/>
<circle cx="1180.8" cy="209.3" r="3" fill="url(#go8)"/>
<circle cx="1133.5" cy="150.8" r="3" fill="url(#go8)"/>
<circle cx="1157.2" cy="180" r="3.4" fill="url(#r)"/>
<circle cx="1126.7" cy="198.9" r="3.4" fill="url(#r)"/>
<circle cx="1324.7" cy="67.1" r="3.4" fill="url(#r)"/>
<circle cx="1348.3" cy="96.3" r="3.4" fill="url(#r)"/>
<circle cx="1317.9" cy="115.2" r="3.4" fill="url(#r)"/>
<circle cx="1341.5" cy="144.5" r="3.4" fill="url(#r)"/>
<circle cx="1294.2" cy="85.9" r="3.4" fill="url(#r)"/>
<circle cx="1334.7" cy="192.6" r="3.4" fill="url(#r)"/>
<circle cx="1240.1" cy="75.4" r="3.4" fill="url(#r)"/>
<circle cx="1263.8" cy="104.7" r="3.4" fill="url(#r)"/>
<circle cx="1311.1" cy="163.3" r="3.4" fill="url(#r)"/>
<circle cx="1287.4" cy="134" r="3.4" fill="url(#r)"/>
<circle cx="1304.2" cy="211.4" r="3.4" fill="url(#r)"/>
<circle cx="1186" cy="65" r="3.4" fill="url(#r)"/>
<circle cx="1209.7" cy="94.3" r="3.4" fill="url(#r)"/>
<circle cx="1257" cy="152.8" r="3.4" fill="url(#r)"/>
<circle cx="1280.6" cy="182.1" r="3.4" fill="url(#r)"/>
<circle cx="1233.3" cy="123.5" r="3.4" fill="url(#r)"/>
<circle cx="1202.8" cy="142.4" r="3.4" fill="url(#r)"/>
<circle cx="1155.5" cy="83.8" r="3.4" fill="url(#r)"/>
<circle cx="1179.2" cy="113.1" r="3.4" fill="url(#r)"/>
<circle cx="1226.5" cy="171.7" r="3.4" fill="url(#r)"/>
<circle cx="1250.2" cy="200.9" r="3.4" fill="url(#r)"/>
<circle cx="1219.7" cy="219.8" r="3.4" fill="url(#r)"/>
<circle cx="1125.1" cy="102.6" r="3.4" fill="url(#r)"/>
<circle cx="1148.8" cy="131.9" r="3.4" fill="url(#r)"/>
<circle cx="1172.4" cy="161.2" r="3.4" fill="url(#r)"/>
<circle cx="1196" cy="190.5" r="3.4" fill="url(#r)"/>
<circle cx="1165.6" cy="209.3" r="3.4" fill="url(#r)"/>
<circle cx="1118.3" cy="150.7" r="3.4" fill="url(#r)"/>
<circle cx="1142" cy="180" r="3.4" fill="url(#r)"/>
<circle cx="1111.5" cy="198.9" r="3.4" fill="url(#r)"/>
<circle cx="1309.4" cy="67" r="3.4" fill="url(#r)"/>
<circle cx="1333.1" cy="96.3" r="3" fill="url(#go8)"/>
<circle cx="1326.3" cy="144.4" r="3.4" fill="url(#r)"/>
<circle cx="1279" cy="85.9" r="3.4" fill="url(#r)"/>
<circle cx="1302.6" cy="115.2" r="3" fill="url(#go8)"/>
<circle cx="1224.9" cy="75.4" r="3" fill="url(#go8)"/>
<circle cx="1272.2" cy="134" r="3" fill="url(#go8)"/>
<circle cx="1295.8" cy="163.3" r="3.4" fill="url(#r)"/>
<circle cx="1248.5" cy="104.7" r="3.4" fill="url(#r)"/>
<circle cx="1319.5" cy="192.6" r="3" fill="url(#go8)"/>
<circle cx="1194.4" cy="94.2" r="3" fill="url(#go8)"/>
<circle cx="1289" cy="211.4" r="3" fill="url(#go8)"/>
<circle cx="1218.1" cy="123.5" r="3.4" fill="url(#r)"/>
<circle cx="1170.8" cy="65" r="3.4" fill="url(#r)"/>
<circle cx="1265.4" cy="182.1" r="3.4" fill="url(#r)"/>
<circle cx="1241.7" cy="152.8" r="3" fill="url(#go8)"/>
<circle cx="1211.3" cy="171.6" r="3" fill="url(#go8)"/>
<circle cx="1187.6" cy="142.4" r="3.4" fill="url(#r)"/>
<circle cx="1140.3" cy="83.8" r="3.4" fill="url(#r)"/>
<circle cx="1164" cy="113.1" r="3" fill="url(#go8)"/>
<circle cx="1234.9" cy="200.9" r="3.4" fill="url(#r)"/>
<circle cx="1204.5" cy="219.8" r="3.4" fill="url(#r)"/>
<circle cx="1133.5" cy="131.9" r="3" fill="url(#go8)"/>
<circle cx="1157.2" cy="161.2" r="3.4" fill="url(#r)"/>
<circle cx="1180.8" cy="190.5" r="3" fill="url(#go8)"/>
<circle cx="1126.7" cy="180" r="3.4" fill="url(#r)"/>
<circle cx="1150.4" cy="209.3" r="3" fill="url(#go8)"/>
<circle cx="1348.3" cy="77.5" r="3.4" fill="url(#r)"/>
<circle cx="1317.9" cy="96.3" r="3.4" fill="url(#r)"/>
<circle cx="1341.5" cy="125.6" r="3.4" fill="url(#r)"/>
<circle cx="1294.2" cy="67" r="3.4" fill="url(#r)"/>
<circle cx="1334.7" cy="173.7" r="3.4" fill="url(#r)"/>
<circle cx="1263.8" cy="85.9" r="3.4" fill="url(#r)"/>
<circle cx="1311.1" cy="144.4" r="3.4" fill="url(#r)"/>
<circle cx="1287.4" cy="115.1" r="3.4" fill="url(#r)"/>
<circle cx="1304.2" cy="192.5" r="3.4" fill="url(#r)"/>
<circle cx="1257" cy="134" r="3.4" fill="url(#r)"/>
<circle cx="1280.6" cy="163.3" r="3.4" fill="url(#r)"/>
<circle cx="1327.9" cy="221.8" r="3.4" fill="url(#r)"/>
<circle cx="1209.7" cy="75.4" r="3.4" fill="url(#r)"/>
<circle cx="1233.3" cy="104.7" r="3.4" fill="url(#r)"/>
<circle cx="1202.8" cy="123.5" r="3.4" fill="url(#r)"/>
<circle cx="1155.5" cy="65" r="3.4" fill="url(#r)"/>
<circle cx="1179.2" cy="94.2" r="3.4" fill="url(#r)"/>
<circle cx="1226.5" cy="152.8" r="3.4" fill="url(#r)"/>
<circle cx="1250.2" cy="182.1" r="3.4" fill="url(#r)"/>
<circle cx="1273.8" cy="211.4" r="3.4" fill="url(#r)"/>
<circle cx="1219.7" cy="200.9" r="3.4" fill="url(#r)"/>
<circle cx="1148.8" cy="113.1" r="3.4" fill="url(#r)"/>
<circle cx="1172.4" cy="142.4" r="3.4" fill="url(#r)"/>
<circle cx="1125.1" cy="83.8" r="3.4" fill="url(#r)"/>
<circle cx="1196" cy="171.6" r="3.4" fill="url(#r)"/>
<circle cx="1118.3" cy="131.9" r="3.4" fill="url(#r)"/>
<circle cx="1142" cy="161.2" r="3.4" fill="url(#r)"/>
<circle cx="1165.6" cy="190.5" r="3.4" fill="url(#r)"/>
<circle cx="1189.2" cy="219.8" r="3.4" fill="url(#r)"/>
<circle cx="1135.1" cy="209.3" r="3.4" fill="url(#r)"/>
<circle cx="1111.5" cy="180" r="3.4" fill="url(#r)"/>
<circle cx="1333.1" cy="77.5" r="3" fill="url(#go8)"/>
<circle cx="1326.3" cy="125.6" r="3.4" fill="url(#r)"/>
<circle cx="1279" cy="67" r="3.4" fill="url(#r)"/>
<circle cx="1302.6" cy="96.3" r="3" fill="url(#go8)"/>
<circle cx="1272.2" cy="115.1" r="3" fill="url(#go8)"/>
<circle cx="1295.8" cy="144.4" r="3.4" fill="url(#r)"/>
<circle cx="1248.5" cy="85.8" r="3.4" fill="url(#r)"/>
<circle cx="1319.5" cy="173.7" r="3" fill="url(#go8)"/>
<circle cx="1289" cy="192.5" r="3" fill="url(#go8)"/>
<circle cx="1194.4" cy="75.4" r="3" fill="url(#go8)"/>
<circle cx="1218.1" cy="104.7" r="3.4" fill="url(#r)"/>
<circle cx="1265.4" cy="163.2" r="3.4" fill="url(#r)"/>
<circle cx="1312.7" cy="221.8" r="3.4" fill="url(#r)"/>
<circle cx="1241.7" cy="134" r="3" fill="url(#go8)"/>
<circle cx="1211.3" cy="152.8" r="3" fill="url(#go8)"/>
<circle cx="1140.3" cy="64.9" r="3.4" fill="url(#r)"/>
<circle cx="1187.6" cy="123.5" r="3.4" fill="url(#r)"/>
<circle cx="1164" cy="94.2" r="3" fill="url(#go8)"/>
<circle cx="1234.9" cy="182.1" r="3.4" fill="url(#r)"/>
<circle cx="1258.6" cy="211.4" r="3" fill="url(#go8)"/>
<circle cx="1204.5" cy="200.9" r="3.4" fill="url(#r)"/>
<circle cx="1133.5" cy="113.1" r="3" fill="url(#go8)"/>
<circle cx="1157.2" cy="142.3" r="3.4" fill="url(#r)"/>
<circle cx="1180.8" cy="171.6" r="3" fill="url(#go8)"/>
<circle cx="1126.7" cy="161.2" r="3.4" fill="url(#r)"/>
<circle cx="1174" cy="219.7" r="3.4" fill="url(#r)"/>
<circle cx="1150.4" cy="190.5" r="3" fill="url(#go8)"/>
<circle cx="1119.9" cy="209.3" r="3" fill="url(#go8)"/>
<circle cx="1317.9" cy="77.5" r="3.4" fill="url(#r)"/>
<circle cx="1341.5" cy="106.8" r="3.4" fill="url(#r)"/>
<circle cx="1263.8" cy="67" r="3.4" fill="url(#r)"/>
<circle cx="1311.1" cy="125.6" r="3.4" fill="url(#r)"/>
<circle cx="1334.7" cy="154.9" r="3.4" fill="url(#r)"/>
<circle cx="1287.4" cy="96.3" r="3.4" fill="url(#r)"/>
<circle cx="1304.2" cy="173.7" r="3.4" fill="url(#r)"/>
<circle cx="1257" cy="115.1" r="3.4" fill="url(#r)"/>
<circle cx="1280.6" cy="144.4" r="3.4" fill="url(#r)"/>
<circle cx="1233.3" cy="85.8" r="3.4" fill="url(#r)"/>
<circle cx="1327.9" cy="203" r="3.4" fill="url(#r)"/>
<circle cx="1297.5" cy="221.8" r="3.4" fill="url(#r)"/>
<circle cx="1202.8" cy="104.7" r="3.4" fill="url(#r)"/>
<circle cx="1179.2" cy="75.4" r="3.4" fill="url(#r)"/>
<circle cx="1226.5" cy="134" r="3.4" fill="url(#r)"/>
<circle cx="1250.2" cy="163.2" r="3.4" fill="url(#r)"/>
<circle cx="1273.8" cy="192.5" r="3.4" fill="url(#r)"/>
<circle cx="1219.7" cy="182.1" r="3.4" fill="url(#r)"/>
<circle cx="1243.4" cy="211.4" r="3.4" fill="url(#r)"/>
<circle cx="1125.1" cy="64.9" r="3.4" fill="url(#r)"/>
<circle cx="1148.8" cy="94.2" r="3.4" fill="url(#r)"/>
<circle cx="1172.4" cy="123.5" r="3.4" fill="url(#r)"/>
<circle cx="1196" cy="152.8" r="3.4" fill="url(#r)"/>
<circle cx="1118.3" cy="113" r="3.4" fill="url(#r)"/>
<circle cx="1142" cy="142.3" r="3.4" fill="url(#r)"/>
<circle cx="1165.6" cy="171.6" r="3.4" fill="url(#r)"/>
<circle cx="1189.2" cy="200.9" r="3.4" fill="url(#r)"/>
<circle cx="1111.5" cy="161.2" r="3.4" fill="url(#r)"/>
<circle cx="1135.1" cy="190.4" r="3.4" fill="url(#r)"/>
<circle cx="1158.8" cy="219.7" r="3.4" fill="url(#r)"/>
<circle cx="1104.7" cy="209.3" r="3.4" fill="url(#r)"/>
<circle cx="1302.6" cy="77.5" r="3" fill="url(#go8)"/>
<circle cx="1326.3" cy="106.7" r="3.4" fill="url(#r)"/>
<circle cx="1272.2" cy="96.3" r="3" fill="url(#go8)"/>
<circle cx="1295.8" cy="125.6" r="3.4" fill="url(#r)"/>
<circle cx="1248.5" cy="67" r="3.4" fill="url(#r)"/>
<circle cx="1319.5" cy="154.9" r="3" fill="url(#go8)"/>
<circle cx="1289" cy="173.7" r="3" fill="url(#go8)"/>
<circle cx="1218.1" cy="85.8" r="3.4" fill="url(#r)"/>
<circle cx="1265.4" cy="144.4" r="3.4" fill="url(#r)"/>
<circle cx="1241.7" cy="115.1" r="3" fill="url(#go8)"/>
<circle cx="1312.7" cy="203" r="3.4" fill="url(#r)"/>
<circle cx="1211.3" cy="133.9" r="3" fill="url(#go8)"/>
<circle cx="1282.2" cy="221.8" r="3.4" fill="url(#r)"/>
<circle cx="1187.6" cy="104.7" r="3.4" fill="url(#r)"/>
<circle cx="1164" cy="75.4" r="3" fill="url(#go8)"/>
<circle cx="1234.9" cy="163.2" r="3.4" fill="url(#r)"/>
<circle cx="1258.6" cy="192.5" r="3" fill="url(#go8)"/>
<circle cx="1180.8" cy="152.8" r="3" fill="url(#go8)"/>
<circle cx="1204.5" cy="182.1" r="3.4" fill="url(#r)"/>
<circle cx="1228.1" cy="211.3" r="3" fill="url(#go8)"/>
<circle cx="1133.5" cy="94.2" r="3" fill="url(#go8)"/>
<circle cx="1157.2" cy="123.5" r="3.4" fill="url(#r)"/>
<circle cx="1174" cy="200.9" r="3.4" fill="url(#r)"/>
<circle cx="1126.7" cy="142.3" r="3.4" fill="url(#r)"/>
<circle cx="1150.4" cy="171.6" r="3" fill="url(#go8)"/>
<circle cx="1119.9" cy="190.4" r="3" fill="url(#go8)"/>
<circle cx="1143.6" cy="219.7" r="3.4" fill="url(#r)"/>
<circle cx="1341.5" cy="87.9" r="3.4" fill="url(#r)"/>
<circle cx="1334.7" cy="136" r="3.4" fill="url(#r)"/>
<circle cx="1287.4" cy="77.4" r="3.4" fill="url(#r)"/>
<circle cx="1311.1" cy="106.7" r="3.4" fill="url(#r)"/>
<circle cx="1257" cy="96.3" r="3.4" fill="url(#r)"/>
<circle cx="1280.6" cy="125.6" r="3.4" fill="url(#r)"/>
<circle cx="1304.2" cy="154.8" r="3.4" fill="url(#r)"/>
<circle cx="1233.3" cy="67" r="3.4" fill="url(#r)"/>
<circle cx="1327.9" cy="184.1" r="3.4" fill="url(#r)"/>
<circle cx="1297.5" cy="203" r="3.4" fill="url(#r)"/>
<circle cx="1202.8" cy="85.8" r="3.4" fill="url(#r)"/>
<circle cx="1226.5" cy="115.1" r="3.4" fill="url(#r)"/>
<circle cx="1250.2" cy="144.4" r="3.4" fill="url(#r)"/>
<circle cx="1273.8" cy="173.7" r="3.4" fill="url(#r)"/>
<circle cx="1219.7" cy="163.2" r="3.4" fill="url(#r)"/>
<circle cx="1243.4" cy="192.5" r="3.4" fill="url(#r)"/>
<circle cx="1172.4" cy="104.7" r="3.4" fill="url(#r)"/>
<circle cx="1148.8" cy="75.4" r="3.4" fill="url(#r)"/>
<circle cx="1196" cy="133.9" r="3.4" fill="url(#r)"/>
<circle cx="1267" cy="221.8" r="3.4" fill="url(#r)"/>
<circle cx="1212.9" cy="211.3" r="3.4" fill="url(#r)"/>
<circle cx="1118.3" cy="94.2" r="3.4" fill="url(#r)"/>
<circle cx="1142" cy="123.5" r="3.4" fill="url(#r)"/>
<circle cx="1165.6" cy="152.8" r="3.4" fill="url(#r)"/>
<circle cx="1189.2" cy="182.1" r="3.4" fill="url(#r)"/>
<circle cx="1158.8" cy="200.9" r="3.4" fill="url(#r)"/>
<circle cx="1111.5" cy="142.3" r="3.4" fill="url(#r)"/>
<circle cx="1135.1" cy="171.6" r="3.4" fill="url(#r)"/>
<circle cx="1104.7" cy="190.4" r="3.4" fill="url(#r)"/>
<circle cx="1128.3" cy="219.7" r="3.4" fill="url(#r)"/>
<circle cx="1326.3" cy="87.9" r="3.4" fill="url(#r)"/>
<circle cx="1272.2" cy="77.4" r="3" fill="url(#go8)"/>
<circle cx="1295.8" cy="106.7" r="3.4" fill="url(#r)"/>
<circle cx="1319.5" cy="136" r="3" fill="url(#go8)"/>
<circle cx="1218.1" cy="67" r="3.4" fill="url(#r)"/>
<circle cx="1289" cy="154.8" r="3" fill="url(#go8)"/>
<circle cx="1241.7" cy="96.3" r="3" fill="url(#go8)"/>
<circle cx="1265.4" cy="125.6" r="3.4" fill="url(#r)"/>
<circle cx="1312.7" cy="184.1" r="3.4" fill="url(#r)"/>
<circle cx="1211.3" cy="115.1" r="3" fill="url(#go8)"/>
<circle cx="1187.6" cy="85.8" r="3.4" fill="url(#r)"/>
<circle cx="1234.9" cy="144.4" r="3.4" fill="url(#r)"/>
<circle cx="1282.2" cy="203" r="3.4" fill="url(#r)"/>
<circle cx="1258.6" cy="173.7" r="3" fill="url(#go8)"/>
<circle cx="1204.5" cy="163.2" r="3.4" fill="url(#r)"/>
<circle cx="1228.1" cy="192.5" r="3" fill="url(#go8)"/>
<circle cx="1180.8" cy="133.9" r="3" fill="url(#go8)"/>
<circle cx="1133.5" cy="75.4" r="3" fill="url(#go8)"/>
<circle cx="1157.2" cy="104.6" r="3.4" fill="url(#r)"/>
<circle cx="1251.8" cy="221.8" r="3.4" fill="url(#r)"/>
<circle cx="1197.7" cy="211.3" r="3" fill="url(#go8)"/>
<circle cx="1126.7" cy="123.5" r="3.4" fill="url(#r)"/>
<circle cx="1174" cy="182" r="3.4" fill="url(#r)"/>
<circle cx="1150.4" cy="152.8" r="3" fill="url(#go8)"/>
<circle cx="1119.9" cy="171.6" r="3" fill="url(#go8)"/>
<circle cx="1143.6" cy="200.9" r="3.4" fill="url(#r)"/>
<circle cx="1341.5" cy="69.1" r="3.4" fill="url(#r)"/>
<circle cx="1113.1" cy="219.7" r="3.4" fill="url(#r)"/>
<circle cx="1311.1" cy="87.9" r="3.4" fill="url(#r)"/>
<circle cx="1334.7" cy="117.2" r="3.4" fill="url(#r)"/>
<circle cx="1257" cy="77.4" r="3.4" fill="url(#r)"/>
<circle cx="1304.2" cy="136" r="3.4" fill="url(#r)"/>
<circle cx="1280.6" cy="106.7" r="3.4" fill="url(#r)"/>
<circle cx="1327.9" cy="165.3" r="3.4" fill="url(#r)"/>
<circle cx="1297.5" cy="184.1" r="3.4" fill="url(#r)"/>
<circle cx="1202.8" cy="67" r="3.4" fill="url(#r)"/>
<circle cx="1226.5" cy="96.3" r="3.4" fill="url(#r)"/>
<circle cx="1250.2" cy="125.5" r="3.4" fill="url(#r)"/>
<circle cx="1321.1" cy="213.4" r="3.4" fill="url(#r)"/>
<circle cx="1273.8" cy="154.8" r="3.4" fill="url(#r)"/>
<circle cx="1219.7" cy="144.4" r="3.4" fill="url(#r)"/>
<circle cx="1243.4" cy="173.7" r="3.4" fill="url(#r)"/>
<circle cx="1172.4" cy="85.8" r="3.4" fill="url(#r)"/>
<circle cx="1196" cy="115.1" r="3.4" fill="url(#r)"/>
<circle cx="1267" cy="202.9" r="3.4" fill="url(#r)"/>
<circle cx="1236.5" cy="221.8" r="3.4" fill="url(#r)"/>
<circle cx="1212.9" cy="192.5" r="3.4" fill="url(#r)"/>
<circle cx="1165.6" cy="133.9" r="3.4" fill="url(#r)"/>
<circle cx="1118.3" cy="75.3" r="3.4" fill="url(#r)"/>
<circle cx="1142" cy="104.6" r="3.4" fill="url(#r)"/>
<circle cx="1189.2" cy="163.2" r="3.4" fill="url(#r)"/>
<circle cx="1111.5" cy="123.5" r="3.4" fill="url(#r)"/>
<circle cx="1135.1" cy="152.7" r="3.4" fill="url(#r)"/>
<circle cx="1158.8" cy="182" r="3.4" fill="url(#r)"/>
<circle cx="1182.5" cy="211.3" r="3.4" fill="url(#r)"/>
<circle cx="1128.3" cy="200.9" r="3.4" fill="url(#r)"/>
<circle cx="1104.7" cy="171.6" r="3.4" fill="url(#r)"/>
<circle cx="1326.3" cy="69" r="3.4" fill="url(#r)"/>
<circle cx="1295.8" cy="87.9" r="3.4" fill="url(#r)"/>
<circle cx="1319.5" cy="117.2" r="3" fill="url(#go8)"/>
<circle cx="1289" cy="136" r="3" fill="url(#go8)"/>
<circle cx="1241.7" cy="77.4" r="3" fill="url(#go8)"/>
<circle cx="1265.4" cy="106.7" r="3.4" fill="url(#r)"/>
<circle cx="1312.7" cy="165.3" r="3.4" fill="url(#r)"/>
<circle cx="1211.3" cy="96.2" r="3" fill="url(#go8)"/>
<circle cx="1187.6" cy="67" r="3.4" fill="url(#r)"/>
<circle cx="1234.9" cy="125.5" r="3.4" fill="url(#r)"/>
<circle cx="1282.2" cy="184.1" r="3.4" fill="url(#r)"/>
<circle cx="1305.9" cy="213.4" r="3" fill="url(#go8)"/>
<circle cx="1258.6" cy="154.8" r="3" fill="url(#go8)"/>
<circle cx="1204.5" cy="144.4" r="3.4" fill="url(#r)"/>
<circle cx="1251.8" cy="202.9" r="3.4" fill="url(#r)"/>
<circle cx="1180.8" cy="115.1" r="3" fill="url(#go8)"/>
<circle cx="1228.1" cy="173.6" r="3" fill="url(#go8)"/>
<circle cx="1157.2" cy="85.8" r="3.4" fill="url(#r)"/>
<circle cx="1197.7" cy="192.5" r="3" fill="url(#go8)"/>
<circle cx="1174" cy="163.2" r="3.4" fill="url(#r)"/>
<circle cx="1126.7" cy="104.6" r="3.4" fill="url(#r)"/>
<circle cx="1150.4" cy="133.9" r="3" fill="url(#go8)"/>
<circle cx="1221.3" cy="221.8" r="3.4" fill="url(#r)"/>
<circle cx="1167.2" cy="211.3" r="3" fill="url(#go8)"/>
<circle cx="1119.9" cy="152.7" r="3" fill="url(#go8)"/>
<circle cx="1143.6" cy="182" r="3.4" fill="url(#r)"/>
<circle cx="1113.1" cy="200.9" r="3.4" fill="url(#r)"/>
<circle cx="1311.1" cy="69" r="3.4" fill="url(#r)"/>
<circle cx="1334.7" cy="98.3" r="3.4" fill="url(#r)"/>
<circle cx="1304.2" cy="117.1" r="3.4" fill="url(#r)"/>
<circle cx="1280.6" cy="87.9" r="3.4" fill="url(#r)"/>
<circle cx="1327.9" cy="146.4" r="3.4" fill="url(#r)"/>
<circle cx="1297.5" cy="165.3" r="3.4" fill="url(#r)"/>
<circle cx="1226.5" cy="77.4" r="3.4" fill="url(#r)"/>
<circle cx="1321.1" cy="194.5" r="3.4" fill="url(#r)"/>
<circle cx="1250.2" cy="106.7" r="3.4" fill="url(#r)"/>
<circle cx="1273.8" cy="136" r="3.4" fill="url(#r)"/>
<circle cx="1290.7" cy="213.4" r="3.4" fill="url(#r)"/>
<circle cx="1219.7" cy="125.5" r="3.4" fill="url(#r)"/>
<circle cx="1172.4" cy="67" r="3.4" fill="url(#r)"/>
<circle cx="1196" cy="96.2" r="3.4" fill="url(#r)"/>
<circle cx="1243.4" cy="154.8" r="3.4" fill="url(#r)"/>
<circle cx="1267" cy="184.1" r="3.4" fill="url(#r)"/>
<circle cx="1236.5" cy="202.9" r="3.4" fill="url(#r)"/>
<circle cx="1142" cy="85.8" r="3.4" fill="url(#r)"/>
<circle cx="1165.6" cy="115.1" r="3.4" fill="url(#r)"/>
<circle cx="1189.2" cy="144.4" r="3.4" fill="url(#r)"/>
<circle cx="1212.9" cy="173.6" r="3.4" fill="url(#r)"/>
<circle cx="1111.5" cy="104.6" r="3.4" fill="url(#r)"/>
<circle cx="1135.1" cy="133.9" r="3.4" fill="url(#r)"/>
<circle cx="1158.8" cy="163.2" r="3.4" fill="url(#r)"/>
<circle cx="1206.1" cy="221.8" r="3.4" fill="url(#r)"/>
<circle cx="1182.5" cy="192.5" r="3.4" fill="url(#r)"/>
<circle cx="1152" cy="211.3" r="3.4" fill="url(#r)"/>
<circle cx="1104.7" cy="152.7" r="3.4" fill="url(#r)"/>
<circle cx="1128.3" cy="182" r="3.4" fill="url(#r)"/>
<circle cx="1295.8" cy="69" r="3.4" fill="url(#r)"/>
<circle cx="1319.5" cy="98.3" r="3" fill="url(#go8)"/>
<circle cx="1289" cy="117.1" r="3" fill="url(#go8)"/>
<circle cx="1265.4" cy="87.8" r="3.4" fill="url(#r)"/>
<circle cx="1312.7" cy="146.4" r="3.4" fill="url(#r)"/>
<circle cx="1211.3" cy="77.4" r="3" fill="url(#go8)"/>
<circle cx="1282.2" cy="165.2" r="3.4" fill="url(#r)"/>
<circle cx="1305.9" cy="194.5" r="3" fill="url(#go8)"/>
<circle cx="1234.9" cy="106.7" r="3.4" fill="url(#r)"/>
<circle cx="1258.6" cy="136" r="3" fill="url(#go8)"/>
<circle cx="1180.8" cy="96.2" r="3" fill="url(#go8)"/>
<circle cx="1204.5" cy="125.5" r="3.4" fill="url(#r)"/>
<circle cx="1157.2" cy="66.9" r="3.4" fill="url(#r)"/>
<circle cx="1228.1" cy="154.8" r="3" fill="url(#go8)"/>
<circle cx="1251.8" cy="184.1" r="3.4" fill="url(#r)"/>
<circle cx="1275.4" cy="213.4" r="3" fill="url(#go8)"/>
<circle cx="1197.7" cy="173.6" r="3" fill="url(#go8)"/>
<circle cx="1174" cy="144.3" r="3.4" fill="url(#r)"/>
<circle cx="1126.7" cy="85.8" r="3.4" fill="url(#r)"/>
<circle cx="1150.4" cy="115.1" r="3" fill="url(#go8)"/>
<circle cx="1221.3" cy="202.9" r="3.4" fill="url(#r)"/>
<circle cx="1190.9" cy="221.7" r="3.4" fill="url(#r)"/>
<circle cx="1167.2" cy="192.5" r="3" fill="url(#go8)"/>
<circle cx="1119.9" cy="133.9" r="3" fill="url(#go8)"/>
<circle cx="1143.6" cy="163.2" r="3.4" fill="url(#r)"/>
<circle cx="1113.1" cy="182" r="3.4" fill="url(#r)"/>
<circle cx="1136.8" cy="211.3" r="3" fill="url(#go8)"/>
<circle cx="1334.7" cy="79.5" r="3.4" fill="url(#r)"/>
<circle cx="1280.6" cy="69" r="3.4" fill="url(#r)"/>
<circle cx="1304.2" cy="98.3" r="3.4" fill="url(#r)"/>
<circle cx="1327.9" cy="127.6" r="3.4" fill="url(#r)"/>
<circle cx="1297.5" cy="146.4" r="3.4" fill="url(#r)"/>
<circle cx="1321.1" cy="175.7" r="3.4" fill="url(#r)"/>
<circle cx="1250.2" cy="87.8" r="3.4" fill="url(#r)"/>
<circle cx="1273.8" cy="117.1" r="3.4" fill="url(#r)"/>
<circle cx="1290.7" cy="194.5" r="3.4" fill="url(#r)"/>
<circle cx="1314.3" cy="223.8" r="3.4" fill="url(#r)"/>
<circle cx="1219.7" cy="106.7" r="3.4" fill="url(#r)"/>
<circle cx="1243.4" cy="136" r="3.4" fill="url(#r)"/>
<circle cx="1196" cy="77.4" r="3.4" fill="url(#r)"/>
<circle cx="1267" cy="165.2" r="3.4" fill="url(#r)"/>
<circle cx="1236.5" cy="184.1" r="3.4" fill="url(#r)"/>
<circle cx="1142" cy="66.9" r="3.4" fill="url(#r)"/>
<circle cx="1165.6" cy="96.2" r="3.4" fill="url(#r)"/>
<circle cx="1189.2" cy="125.5" r="3.4" fill="url(#r)"/>
<circle cx="1212.9" cy="154.8" r="3.4" fill="url(#r)"/>
<circle cx="1260.2" cy="213.4" r="3.4" fill="url(#r)"/>
<circle cx="1206.1" cy="202.9" r="3.4" fill="url(#r)"/>
<circle cx="1111.5" cy="85.8" r="3.4" fill="url(#r)"/>
<circle cx="1135.1" cy="115" r="3.4" fill="url(#r)"/>
<circle cx="1158.8" cy="144.3" r="3.4" fill="url(#r)"/>
<circle cx="1182.5" cy="173.6" r="3.4" fill="url(#r)"/>
<circle cx="1104.7" cy="133.9" r="3.4" fill="url(#r)"/>
<circle cx="1128.3" cy="163.2" r="3.4" fill="url(#r)"/>
<circle cx="1152" cy="192.4" r="3.4" fill="url(#r)"/>
<circle cx="1175.7" cy="221.7" r="3.4" fill="url(#r)"/>
<circle cx="1121.5" cy="211.3" r="3.4" fill="url(#r)"/>
<circle cx="1319.5" cy="79.5" r="3" fill="url(#go8)"/>
<circle cx="1289" cy="98.3" r="3" fill="url(#go8)"/>
<circle cx="1265.4" cy="69" r="3.4" fill="url(#r)"/>
<circle cx="1312.7" cy="127.6" r="3.4" fill="url(#r)"/>
<circle cx="1282.2" cy="146.4" r="3.4" fill="url(#r)"/>
<circle cx="1305.9" cy="175.7" r="3" fill="url(#go8)"/>
<circle cx="1234.9" cy="87.8" r="3.4" fill="url(#r)"/>
<circle cx="1258.6" cy="117.1" r="3" fill="url(#go8)"/>
<circle cx="1204.5" cy="106.7" r="3.4" fill="url(#r)"/>
<circle cx="1180.8" cy="77.4" r="3" fill="url(#go8)"/>
<circle cx="1228.1" cy="135.9" r="3" fill="url(#go8)"/>
<circle cx="1251.8" cy="165.2" r="3.4" fill="url(#r)"/>
<circle cx="1275.4" cy="194.5" r="3" fill="url(#go8)"/>
<circle cx="1299.1" cy="223.8" r="3.4" fill="url(#r)"/>
<circle cx="1245" cy="213.3" r="3" fill="url(#go8)"/>
<circle cx="1174" cy="125.5" r="3.4" fill="url(#r)"/>
<circle cx="1197.7" cy="154.8" r="3" fill="url(#go8)"/>
<circle cx="1126.7" cy="66.9" r="3.4" fill="url(#r)"/>
<circle cx="1150.4" cy="96.2" r="3" fill="url(#go8)"/>
<circle cx="1221.3" cy="184.1" r="3.4" fill="url(#r)"/>
<circle cx="1190.9" cy="202.9" r="3.4" fill="url(#r)"/>
<circle cx="1167.2" cy="173.6" r="3" fill="url(#go8)"/>
<circle cx="1119.9" cy="115" r="3" fill="url(#go8)"/>
<circle cx="1143.6" cy="144.3" r="3.4" fill="url(#r)"/>
<circle cx="1160.4" cy="221.7" r="3.4" fill="url(#r)"/>
<circle cx="1113.1" cy="163.2" r="3.4" fill="url(#r)"/>
<circle cx="1136.8" cy="192.4" r="3" fill="url(#go8)"/>
<circle cx="1304.2" cy="79.4" r="3.4" fill="url(#r)"/>
<circle cx="1327.9" cy="108.7" r="3.4" fill="url(#r)"/>
<circle cx="1297.5" cy="127.6" r="3.4" fill="url(#r)"/>
<circle cx="1250.2" cy="69" r="3.4" fill="url(#r)"/>
<circle cx="1273.8" cy="98.3" r="3.4" fill="url(#r)"/>
<circle cx="1321.1" cy="156.8" r="3.4" fill="url(#r)"/>
<circle cx="1290.7" cy="175.7" r="3.4" fill="url(#r)"/>
<circle cx="1219.7" cy="87.8" r="3.4" fill="url(#r)"/>
<circle cx="1243.4" cy="117.1" r="3.4" fill="url(#r)"/>
<circle cx="1314.3" cy="205" r="3.4" fill="url(#r)"/>
<circle cx="1267" cy="146.4" r="3.4" fill="url(#r)"/>
<circle cx="1236.5" cy="165.2" r="3.4" fill="url(#r)"/>
<circle cx="1283.9" cy="223.8" r="3.4" fill="url(#r)"/>
<circle cx="1165.6" cy="77.4" r="3.4" fill="url(#r)"/>
<circle cx="1189.2" cy="106.7" r="3.4" fill="url(#r)"/>
<circle cx="1212.9" cy="135.9" r="3.4" fill="url(#r)"/>
<circle cx="1260.2" cy="194.5" r="3.4" fill="url(#r)"/>
<circle cx="1229.8" cy="213.3" r="3.4" fill="url(#r)"/>
<circle cx="1111.5" cy="66.9" r="3.4" fill="url(#r)"/>
<circle cx="1135.1" cy="96.2" r="3.4" fill="url(#r)"/>
<circle cx="1158.8" cy="125.5" r="3.4" fill="url(#r)"/>
<circle cx="1206.1" cy="184.1" r="3.4" fill="url(#r)"/>
<circle cx="1182.5" cy="154.8" r="3.4" fill="url(#r)"/>
<circle cx="1104.7" cy="115" r="3.4" fill="url(#r)"/>
<circle cx="1128.3" cy="144.3" r="3.4" fill="url(#r)"/>
<circle cx="1152" cy="173.6" r="3.4" fill="url(#r)"/>
<circle cx="1175.7" cy="202.9" r="3.4" fill="url(#r)"/>
<circle cx="1121.5" cy="192.4" r="3.4" fill="url(#r)"/>
<circle cx="1145.2" cy="221.7" r="3.4" fill="url(#r)"/>
<circle cx="1289" cy="79.4" r="3" fill="url(#go8)"/>
<circle cx="1312.7" cy="108.7" r="3.4" fill="url(#r)"/>
<circle cx="1282.2" cy="127.6" r="3.4" fill="url(#r)"/>
<circle cx="1234.9" cy="69" r="3.4" fill="url(#r)"/>
<circle cx="1258.6" cy="98.3" r="3" fill="url(#go8)"/>
<circle cx="1305.9" cy="156.8" r="3" fill="url(#go8)"/>
<circle cx="1204.5" cy="87.8" r="3.4" fill="url(#r)"/>
<circle cx="1228.1" cy="117.1" r="3" fill="url(#go8)"/>
<circle cx="1251.8" cy="146.4" r="3.4" fill="url(#r)"/>
<circle cx="1275.4" cy="175.7" r="3" fill="url(#go8)"/>
<circle cx="1299.1" cy="205" r="3.4" fill="url(#r)"/>
<circle cx="1245" cy="194.5" r="3" fill="url(#go8)"/>
<circle cx="1268.6" cy="223.8" r="3.4" fill="url(#r)"/>
<circle cx="1174" cy="106.6" r="3.4" fill="url(#r)"/>
<circle cx="1197.7" cy="135.9" r="3" fill="url(#go8)"/>
<circle cx="1150.4" cy="77.4" r="3" fill="url(#go8)"/>
<circle cx="1221.3" cy="165.2" r="3.4" fill="url(#r)"/>
<circle cx="1190.9" cy="184" r="3.4" fill="url(#r)"/>
<circle cx="1167.2" cy="154.8" r="3" fill="url(#go8)"/>
<circle cx="1119.9" cy="96.2" r="3" fill="url(#go8)"/>
<circle cx="1143.6" cy="125.5" r="3.4" fill="url(#r)"/>
<circle cx="1214.5" cy="213.3" r="3" fill="url(#go8)"/>
<circle cx="1160.4" cy="202.9" r="3.4" fill="url(#r)"/>
<circle cx="1113.1" cy="144.3" r="3.4" fill="url(#r)"/>
<circle cx="1136.8" cy="173.6" r="3" fill="url(#go8)"/>
<circle cx="1130" cy="221.7" r="3.4" fill="url(#r)"/>
<circle cx="1327.9" cy="89.9" r="3.4" fill="url(#r)"/>
<circle cx="1297.5" cy="108.7" r="3.4" fill="url(#r)"/>
<circle cx="1321.1" cy="138" r="3.4" fill="url(#r)"/>
<circle cx="1273.8" cy="79.4" r="3.4" fill="url(#r)"/>
<circle cx="1219.7" cy="69" r="3.4" fill="url(#r)"/>
<circle cx="1243.4" cy="98.3" r="3.4" fill="url(#r)"/>
<circle cx="1290.7" cy="156.8" r="3.4" fill="url(#r)"/>
<circle cx="1314.3" cy="186.1" r="3.4" fill="url(#r)"/>
<circle cx="1267" cy="127.5" r="3.4" fill="url(#r)"/>
<circle cx="1236.5" cy="146.4" r="3.4" fill="url(#r)"/>
<circle cx="1212.9" cy="117.1" r="3.4" fill="url(#r)"/>
<circle cx="1260.2" cy="175.7" r="3.4" fill="url(#r)"/>
<circle cx="1283.9" cy="204.9" r="3.4" fill="url(#r)"/>
<circle cx="1189.2" cy="87.8" r="3.4" fill="url(#r)"/>
<circle cx="1229.8" cy="194.5" r="3.4" fill="url(#r)"/>
<circle cx="1253.4" cy="223.8" r="3.4" fill="url(#r)"/>
<circle cx="1158.8" cy="106.6" r="3.4" fill="url(#r)"/>
<circle cx="1206.1" cy="165.2" r="3.4" fill="url(#r)"/>
<circle cx="1135.1" cy="77.3" r="3.4" fill="url(#r)"/>
<circle cx="1182.5" cy="135.9" r="3.4" fill="url(#r)"/>
<circle cx="1199.3" cy="213.3" r="3.4" fill="url(#r)"/>
<circle cx="1104.7" cy="96.2" r="3.4" fill="url(#r)"/>
<circle cx="1128.3" cy="125.5" r="3.4" fill="url(#r)"/>
<circle cx="1152" cy="154.7" r="3.4" fill="url(#r)"/>
<circle cx="1175.7" cy="184" r="3.4" fill="url(#r)"/>
<circle cx="1145.2" cy="202.9" r="3.4" fill="url(#r)"/>
<circle cx="1121.5" cy="173.6" r="3.4" fill="url(#r)"/>
<circle cx="1312.7" cy="89.9" r="3.4" fill="url(#r)"/>
<circle cx="1305.9" cy="138" r="3" fill="url(#go8)"/>
<circle cx="1258.6" cy="79.4" r="3" fill="url(#go8)"/>
<circle cx="1282.2" cy="108.7" r="3.4" fill="url(#r)"/>
<circle cx="1204.5" cy="69" r="3.4" fill="url(#r)"/>
<circle cx="1228.1" cy="98.2" r="3" fill="url(#go8)"/>
<circle cx="1251.8" cy="127.5" r="3.4" fill="url(#r)"/>
<circle cx="1275.4" cy="156.8" r="3" fill="url(#go8)"/>
<circle cx="1299.1" cy="186.1" r="3.4" fill="url(#r)"/>
<circle cx="1197.7" cy="117.1" r="3" fill="url(#go8)"/>
<circle cx="1174" cy="87.8" r="3.4" fill="url(#r)"/>
<circle cx="1221.3" cy="146.4" r="3.4" fill="url(#r)"/>
<circle cx="1245" cy="175.6" r="3" fill="url(#go8)"/>
<circle cx="1268.6" cy="204.9" r="3.4" fill="url(#r)"/>
<circle cx="1190.9" cy="165.2" r="3.4" fill="url(#r)"/>
<circle cx="1167.2" cy="135.9" r="3" fill="url(#go8)"/>
<circle cx="1119.9" cy="77.3" r="3" fill="url(#go8)"/>
<circle cx="1143.6" cy="106.6" r="3.4" fill="url(#r)"/>
<circle cx="1214.5" cy="194.5" r="3" fill="url(#go8)"/>
<circle cx="1238.2" cy="223.8" r="3.4" fill="url(#r)"/>
<circle cx="1184.1" cy="213.3" r="3" fill="url(#go8)"/>
<circle cx="1160.4" cy="184" r="3.4" fill="url(#r)"/>
<circle cx="1113.1" cy="125.5" r="3.4" fill="url(#r)"/>
<circle cx="1136.8" cy="154.7" r="3" fill="url(#go8)"/>
<circle cx="1130" cy="202.9" r="3.4" fill="url(#r)"/>
<circle cx="1327.9" cy="71" r="3.4" fill="url(#r)"/>
<circle cx="1297.5" cy="89.9" r="3.4" fill="url(#r)"/>
<circle cx="1321.1" cy="119.1" r="3.4" fill="url(#r)"/>
<circle cx="1243.4" cy="79.4" r="3.4" fill="url(#r)"/>
<circle cx="1290.7" cy="138" r="3.4" fill="url(#r)"/>
<circle cx="1314.3" cy="167.3" r="3.4" fill="url(#r)"/>
<circle cx="1267" cy="108.7" r="3.4" fill="url(#r)"/>
<circle cx="1236.5" cy="127.5" r="3.4" fill="url(#r)"/>
<circle cx="1212.9" cy="98.2" r="3.4" fill="url(#r)"/>
<circle cx="1283.9" cy="186.1" r="3.4" fill="url(#r)"/>
<circle cx="1307.5" cy="215.4" r="3.4" fill="url(#r)"/>
<circle cx="1189.2" cy="69" r="3.4" fill="url(#r)"/>
<circle cx="1260.2" cy="156.8" r="3.4" fill="url(#r)"/>
<circle cx="1229.8" cy="175.6" r="3.4" fill="url(#r)"/>
<circle cx="1206.1" cy="146.4" r="3.4" fill="url(#r)"/>
<circle cx="1158.8" cy="87.8" r="3.4" fill="url(#r)"/>
<circle cx="1182.5" cy="117.1" r="3.4" fill="url(#r)"/>
<circle cx="1253.4" cy="204.9" r="3.4" fill="url(#r)"/>
<circle cx="1199.3" cy="194.5" r="3.4" fill="url(#r)"/>
<circle cx="1223" cy="223.8" r="3.4" fill="url(#r)"/>
<circle cx="1152" cy="135.9" r="3.4" fill="url(#r)"/>
<circle cx="1128.3" cy="106.6" r="3.4" fill="url(#r)"/>
<circle cx="1104.7" cy="77.3" r="3.4" fill="url(#r)"/>
<circle cx="1175.7" cy="165.2" r="3.4" fill="url(#r)"/>
<circle cx="1121.5" cy="154.7" r="3.4" fill="url(#r)"/>
<circle cx="1145.2" cy="184" r="3.4" fill="url(#r)"/>
<circle cx="1168.8" cy="213.3" r="3.4" fill="url(#r)"/>
<circle cx="1312.7" cy="71" r="3.4" fill="url(#r)"/>
<circle cx="1282.2" cy="89.8" r="3.4" fill="url(#r)"/>
<circle cx="1305.9" cy="119.1" r="3" fill="url(#go8)"/>
<circle cx="1228.1" cy="79.4" r="3" fill="url(#go8)"/>
<circle cx="1251.8" cy="108.7" r="3.4" fill="url(#r)"/>
<circle cx="1275.4" cy="138" r="3" fill="url(#go8)"/>
<circle cx="1299.1" cy="167.2" r="3.4" fill="url(#r)"/>
<circle cx="1197.7" cy="98.2" r="3" fill="url(#go8)"/>
<circle cx="1174" cy="68.9" r="3.4" fill="url(#r)"/>
<circle cx="1221.3" cy="127.5" r="3.4" fill="url(#r)"/>
<circle cx="1245" cy="156.8" r="3" fill="url(#go8)"/>
<circle cx="1268.6" cy="186.1" r="3.4" fill="url(#r)"/>
<circle cx="1292.3" cy="215.4" r="3" fill="url(#go8)"/>
<circle cx="1190.9" cy="146.3" r="3.4" fill="url(#r)"/>
<circle cx="1238.2" cy="204.9" r="3.4" fill="url(#r)"/>
<circle cx="1167.2" cy="117.1" r="3" fill="url(#go8)"/>
<circle cx="1143.6" cy="87.8" r="3.4" fill="url(#r)"/>
<circle cx="1214.5" cy="175.6" r="3" fill="url(#go8)"/>
<circle cx="1184.1" cy="194.5" r="3" fill="url(#go8)"/>
<circle cx="1160.4" cy="165.2" r="3.4" fill="url(#r)"/>
<circle cx="1113.1" cy="106.6" r="3.4" fill="url(#r)"/>
<circle cx="1136.8" cy="135.9" r="3" fill="url(#go8)"/>
<circle cx="1207.7" cy="223.7" r="3.4" fill="url(#r)"/>
<circle cx="1153.6" cy="213.3" r="3" fill="url(#go8)"/>
<circle cx="1130" cy="184" r="3.4" fill="url(#r)"/>
<circle cx="1297.5" cy="71" r="3.4" fill="url(#r)"/>
<circle cx="1321.1" cy="100.3" r="3.4" fill="url(#r)"/>
<circle cx="1290.7" cy="119.1" r="3.4" fill="url(#r)"/>
<circle cx="1314.3" cy="148.4" r="3.4" fill="url(#r)"/>
<circle cx="1267" cy="89.8" r="3.4" fill="url(#r)"/>
<circle cx="1212.9" cy="79.4" r="3.4" fill="url(#r)"/>
<circle cx="1236.5" cy="108.7" r="3.4" fill="url(#r)"/>
<circle cx="1283.9" cy="167.2" r="3.4" fill="url(#r)"/>
<circle cx="1307.5" cy="196.5" r="3.4" fill="url(#r)"/>
<circle cx="1260.2" cy="138" r="3.4" fill="url(#r)"/>
<circle cx="1277.1" cy="215.4" r="3.4" fill="url(#r)"/>
<circle cx="1158.8" cy="68.9" r="3.4" fill="url(#r)"/>
<circle cx="1182.5" cy="98.2" r="3.4" fill="url(#r)"/>
<circle cx="1206.1" cy="127.5" r="3.4" fill="url(#r)"/>
<circle cx="1229.8" cy="156.8" r="3.4" fill="url(#r)"/>
<circle cx="1253.4" cy="186.1" r="3.4" fill="url(#r)"/>
<circle cx="1223" cy="204.9" r="3.4" fill="url(#r)"/>
<circle cx="1128.3" cy="87.8" r="3.4" fill="url(#r)"/>
<circle cx="1152" cy="117" r="3.4" fill="url(#r)"/>
<circle cx="1175.7" cy="146.3" r="3.4" fill="url(#r)"/>
<circle cx="1199.3" cy="175.6" r="3.4" fill="url(#r)"/>
<circle cx="1121.5" cy="135.9" r="3.4" fill="url(#r)"/>
<circle cx="1145.2" cy="165.2" r="3.4" fill="url(#r)"/>
<circle cx="1192.5" cy="223.7" r="3.4" fill="url(#r)"/>
<circle cx="1168.8" cy="194.4" r="3.4" fill="url(#r)"/>
<circle cx="1138.4" cy="213.3" r="3.4" fill="url(#r)"/>
<circle cx="1282.2" cy="71" r="3.4" fill="url(#r)"/>
<circle cx="1305.9" cy="100.3" r="3" fill="url(#go8)"/>
<circle cx="1251.8" cy="89.8" r="3.4" fill="url(#r)"/>
<circle cx="1275.4" cy="119.1" r="3" fill="url(#go8)"/>
<circle cx="1299.1" cy="148.4" r="3.4" fill="url(#r)"/>
<circle cx="1197.7" cy="79.4" r="3" fill="url(#go8)"/>
<circle cx="1245" cy="137.9" r="3" fill="url(#go8)"/>
<circle cx="1268.6" cy="167.2" r="3.4" fill="url(#r)"/>
<circle cx="1221.3" cy="108.7" r="3.4" fill="url(#r)"/>
<circle cx="1292.3" cy="196.5" r="3" fill="url(#go8)"/>
<circle cx="1261.8" cy="215.3" r="3" fill="url(#go8)"/>
<circle cx="1167.2" cy="98.2" r="3" fill="url(#go8)"/>
<circle cx="1190.9" cy="127.5" r="3.4" fill="url(#r)"/>
<circle cx="1143.6" cy="68.9" r="3.4" fill="url(#r)"/>
<circle cx="1238.2" cy="186.1" r="3.4" fill="url(#r)"/>
<circle cx="1214.5" cy="156.8" r="3" fill="url(#go8)"/>
<circle cx="1184.1" cy="175.6" r="3" fill="url(#go8)"/>
<circle cx="1160.4" cy="146.3" r="3.4" fill="url(#r)"/>
<circle cx="1113.1" cy="87.8" r="3.4" fill="url(#r)"/>
<circle cx="1136.8" cy="117" r="3" fill="url(#go8)"/>
<circle cx="1207.7" cy="204.9" r="3.4" fill="url(#r)"/>
<circle cx="1177.3" cy="223.7" r="3.4" fill="url(#r)"/>
<circle cx="1153.6" cy="194.4" r="3" fill="url(#go8)"/>
<circle cx="1130" cy="165.2" r="3.4" fill="url(#r)"/>
<circle cx="1321.1" cy="81.4" r="3.4" fill="url(#r)"/>
<circle cx="1314.3" cy="129.6" r="3.4" fill="url(#r)"/>
<circle cx="1290.7" cy="100.3" r="3.4" fill="url(#r)"/>
<circle cx="1267" cy="71" r="3.4" fill="url(#r)"/>
<circle cx="1236.5" cy="89.8" r="3.4" fill="url(#r)"/>
<circle cx="1283.9" cy="148.4" r="3.4" fill="url(#r)"/>
<circle cx="1307.5" cy="177.7" r="3.4" fill="url(#r)"/>
<circle cx="1260.2" cy="119.1" r="3.4" fill="url(#r)"/>
<circle cx="1277.1" cy="196.5" r="3.4" fill="url(#r)"/>
<circle cx="1229.8" cy="137.9" r="3.4" fill="url(#r)"/>
<circle cx="1253.4" cy="167.2" r="3.4" fill="url(#r)"/>
<circle cx="1300.7" cy="225.8" r="3.4" fill="url(#r)"/>
<circle cx="1182.5" cy="79.4" r="3.4" fill="url(#r)"/>
<circle cx="1206.1" cy="108.7" r="3.4" fill="url(#r)"/>
<circle cx="1223" cy="186.1" r="3.4" fill="url(#r)"/>
<circle cx="1128.3" cy="68.9" r="3.4" fill="url(#r)"/>
<circle cx="1152" cy="98.2" r="3.4" fill="url(#r)"/>
<circle cx="1175.7" cy="127.5" r="3.4" fill="url(#r)"/>
<circle cx="1199.3" cy="156.8" r="3.4" fill="url(#r)"/>
<circle cx="1246.6" cy="215.3" r="3.4" fill="url(#r)"/>
<circle cx="1192.5" cy="204.9" r="3.4" fill="url(#r)"/>
<circle cx="1121.5" cy="117" r="3.4" fill="url(#r)"/>
<circle cx="1145.2" cy="146.3" r="3.4" fill="url(#r)"/>
<circle cx="1168.8" cy="175.6" r="3.4" fill="url(#r)"/>
<circle cx="1138.4" cy="194.4" r="3.4" fill="url(#r)"/>
<circle cx="1162" cy="223.7" r="3.4" fill="url(#r)"/>
<circle cx="1305.9" cy="81.4" r="3" fill="url(#go8)"/>
<circle cx="1251.8" cy="71" r="3.4" fill="url(#r)"/>
<circle cx="1275.4" cy="100.3" r="3" fill="url(#go8)"/>
<circle cx="1299.1" cy="129.6" r="3.4" fill="url(#r)"/>
<circle cx="1245" cy="119.1" r="3" fill="url(#go8)"/>
<circle cx="1268.6" cy="148.4" r="3.4" fill="url(#r)"/>
<circle cx="1221.3" cy="89.8" r="3.4" fill="url(#r)"/>
<circle cx="1292.3" cy="177.7" r="3" fill="url(#go8)"/>
<circle cx="1261.8" cy="196.5" r="3" fill="url(#go8)"/>
<circle cx="1190.9" cy="108.6" r="3.4" fill="url(#r)"/>
<circle cx="1167.2" cy="79.4" r="3" fill="url(#go8)"/>
<circle cx="1238.2" cy="167.2" r="3.4" fill="url(#r)"/>
<circle cx="1285.5" cy="225.8" r="3.4" fill="url(#r)"/>
<circle cx="1214.5" cy="137.9" r="3" fill="url(#go8)"/>
<circle cx="1160.4" cy="127.5" r="3.4" fill="url(#r)"/>
<circle cx="1184.1" cy="156.8" r="3" fill="url(#go8)"/>
<circle cx="1231.4" cy="215.3" r="3" fill="url(#go8)"/>
<circle cx="1113.1" cy="68.9" r="3.4" fill="url(#r)"/>
<circle cx="1136.8" cy="98.2" r="3" fill="url(#go8)"/>
<circle cx="1207.7" cy="186" r="3.4" fill="url(#r)"/>
<circle cx="1177.3" cy="204.9" r="3.4" fill="url(#r)"/>
<circle cx="1153.6" cy="175.6" r="3" fill="url(#go8)"/>
<circle cx="1130" cy="146.3" r="3.4" fill="url(#r)"/>
<circle cx="1146.8" cy="223.7" r="3.4" fill="url(#r)"/>
<circle cx="1290.7" cy="81.4" r="3.4" fill="url(#r)"/>
<circle cx="1314.3" cy="110.7" r="3.4" fill="url(#r)"/>
<circle cx="1236.5" cy="71" r="3.4" fill="url(#r)"/>
<circle cx="1283.9" cy="129.5" r="3.4" fill="url(#r)"/>
<circle cx="1260.2" cy="100.3" r="3.4" fill="url(#r)"/>
<circle cx="1307.5" cy="158.8" r="3.4" fill="url(#r)"/>
<circle cx="1277.1" cy="177.7" r="3.4" fill="url(#r)"/>
<circle cx="1229.8" cy="119.1" r="3.4" fill="url(#r)"/>
<circle cx="1253.4" cy="148.4" r="3.4" fill="url(#r)"/>
<circle cx="1206.1" cy="89.8" r="3.4" fill="url(#r)"/>
<circle cx="1300.7" cy="206.9" r="3.4" fill="url(#r)"/>
<circle cx="1270.2" cy="225.8" r="3.4" fill="url(#r)"/>
<circle cx="1223" cy="167.2" r="3.4" fill="url(#r)"/>
<circle cx="1152" cy="79.3" r="3.4" fill="url(#r)"/>
<circle cx="1175.7" cy="108.6" r="3.4" fill="url(#r)"/>
<circle cx="1199.3" cy="137.9" r="3.4" fill="url(#r)"/>
<circle cx="1246.6" cy="196.5" r="3.4" fill="url(#r)"/>
<circle cx="1216.2" cy="215.3" r="3.4" fill="url(#r)"/>
<circle cx="1121.5" cy="98.2" r="3.4" fill="url(#r)"/>
<circle cx="1145.2" cy="127.5" r="3.4" fill="url(#r)"/>
<circle cx="1192.5" cy="186" r="3.4" fill="url(#r)"/>
<circle cx="1168.8" cy="156.7" r="3.4" fill="url(#r)"/>
<circle cx="1138.4" cy="175.6" r="3.4" fill="url(#r)"/>
<circle cx="1162" cy="204.9" r="3.4" fill="url(#r)"/>
<circle cx="1275.4" cy="81.4" r="3" fill="url(#go8)"/>
<circle cx="1299.1" cy="110.7" r="3.4" fill="url(#r)"/>
<circle cx="1245" cy="100.2" r="3" fill="url(#go8)"/>
<circle cx="1268.6" cy="129.5" r="3.4" fill="url(#r)"/>
<circle cx="1221.3" cy="71" r="3.4" fill="url(#r)"/>
<circle cx="1292.3" cy="158.8" r="3" fill="url(#go8)"/>
<circle cx="1261.8" cy="177.6" r="3" fill="url(#go8)"/>
<circle cx="1190.9" cy="89.8" r="3.4" fill="url(#r)"/>
<circle cx="1238.2" cy="148.4" r="3.4" fill="url(#r)"/>
<circle cx="1214.5" cy="119.1" r="3" fill="url(#go8)"/>
<circle cx="1285.5" cy="206.9" r="3.4" fill="url(#r)"/>
<circle cx="1255" cy="225.8" r="3.4" fill="url(#r)"/>
<circle cx="1160.4" cy="108.6" r="3.4" fill="url(#r)"/>
<circle cx="1184.1" cy="137.9" r="3" fill="url(#go8)"/>
<circle cx="1231.4" cy="196.5" r="3" fill="url(#go8)"/>
<circle cx="1136.8" cy="79.3" r="3" fill="url(#go8)"/>
<circle cx="1207.7" cy="167.2" r="3.4" fill="url(#r)"/>
<circle cx="1177.3" cy="186" r="3.4" fill="url(#r)"/>
<circle cx="1153.6" cy="156.7" r="3" fill="url(#go8)"/>
<circle cx="1130" cy="127.5" r="3.4" fill="url(#r)"/>
<circle cx="1200.9" cy="215.3" r="3" fill="url(#go8)"/>
<circle cx="1146.8" cy="204.9" r="3.4" fill="url(#r)"/>
<circle cx="1314.3" cy="91.9" r="3.4" fill="url(#r)"/>
<circle cx="1307.5" cy="140" r="3.4" fill="url(#r)"/>
<circle cx="1260.2" cy="81.4" r="3.4" fill="url(#r)"/>
<circle cx="1283.9" cy="110.7" r="3.4" fill="url(#r)"/>
<circle cx="1229.8" cy="100.2" r="3.4" fill="url(#r)"/>
<circle cx="1253.4" cy="129.5" r="3.4" fill="url(#r)"/>
<circle cx="1277.1" cy="158.8" r="3.4" fill="url(#r)"/>
<circle cx="1206.1" cy="71" r="3.4" fill="url(#r)"/>
<circle cx="1300.7" cy="188.1" r="3.4" fill="url(#r)"/>
<circle cx="1270.2" cy="206.9" r="3.4" fill="url(#r)"/>
<circle cx="1223" cy="148.4" r="3.4" fill="url(#r)"/>
<circle cx="1199.3" cy="119.1" r="3.4" fill="url(#r)"/>
<circle cx="1246.6" cy="177.6" r="3.4" fill="url(#r)"/>
<circle cx="1175.7" cy="89.8" r="3.4" fill="url(#r)"/>
<circle cx="1216.2" cy="196.5" r="3.4" fill="url(#r)"/>
<circle cx="1145.2" cy="108.6" r="3.4" fill="url(#r)"/>
<circle cx="1192.5" cy="167.2" r="3.4" fill="url(#r)"/>
<circle cx="1239.8" cy="225.8" r="3.4" fill="url(#r)"/>
<circle cx="1121.5" cy="79.3" r="3.4" fill="url(#r)"/>
<circle cx="1168.8" cy="137.9" r="3.4" fill="url(#r)"/>
<circle cx="1185.7" cy="215.3" r="3.4" fill="url(#r)"/>
<circle cx="1138.4" cy="156.7" r="3.4" fill="url(#r)"/>
<circle cx="1162" cy="186" r="3.4" fill="url(#r)"/>
<circle cx="1299.1" cy="91.8" r="3.4" fill="url(#r)"/>
<circle cx="1245" cy="81.4" r="3" fill="url(#go8)"/>
<circle cx="1268.6" cy="110.7" r="3.4" fill="url(#r)"/>
<circle cx="1292.3" cy="140" r="3" fill="url(#go8)"/>
<circle cx="1190.9" cy="70.9" r="3.4" fill="url(#r)"/>
<circle cx="1261.8" cy="158.8" r="3" fill="url(#go8)"/>
<circle cx="1214.5" cy="100.2" r="3" fill="url(#go8)"/>
<circle cx="1238.2" cy="129.5" r="3.4" fill="url(#r)"/>
<circle cx="1285.5" cy="188.1" r="3.4" fill="url(#r)"/>
<circle cx="1184.1" cy="119.1" r="3" fill="url(#go8)"/>
<circle cx="1160.4" cy="89.8" r="3.4" fill="url(#r)"/>
<circle cx="1207.7" cy="148.3" r="3.4" fill="url(#r)"/>
<circle cx="1255" cy="206.9" r="3.4" fill="url(#r)"/>
<circle cx="1231.4" cy="177.6" r="3" fill="url(#go8)"/>
<circle cx="1177.3" cy="167.2" r="3.4" fill="url(#r)"/>
<circle cx="1153.6" cy="137.9" r="3" fill="url(#go8)"/>
<circle cx="1130" cy="108.6" r="3.4" fill="url(#r)"/>
<circle cx="1200.9" cy="196.5" r="3" fill="url(#go8)"/>
<circle cx="1224.6" cy="225.7" r="3.4" fill="url(#r)"/>
<circle cx="1170.5" cy="215.3" r="3" fill="url(#go8)"/>
<circle cx="1146.8" cy="186" r="3.4" fill="url(#r)"/>
<circle cx="1314.3" cy="73" r="3.4" fill="url(#r)"/>
<circle cx="1283.9" cy="91.8" r="3.4" fill="url(#r)"/>
<circle cx="1307.5" cy="121.1" r="3.4" fill="url(#r)"/>
<circle cx="1229.8" cy="81.4" r="3.4" fill="url(#r)"/>
<circle cx="1277.1" cy="140" r="3.4" fill="url(#r)"/>
<circle cx="1253.4" cy="110.7" r="3.4" fill="url(#r)"/>
<circle cx="1300.7" cy="169.2" r="3.4" fill="url(#r)"/>
<circle cx="1270.2" cy="188.1" r="3.4" fill="url(#r)"/>
<circle cx="1223" cy="129.5" r="3.4" fill="url(#r)"/>
<circle cx="1199.3" cy="100.2" r="3.4" fill="url(#r)"/>
<circle cx="1293.9" cy="217.4" r="3.4" fill="url(#r)"/>
<circle cx="1175.7" cy="70.9" r="3.4" fill="url(#r)"/>
<circle cx="1246.6" cy="158.8" r="3.4" fill="url(#r)"/>
<circle cx="1216.2" cy="177.6" r="3.4" fill="url(#r)"/>
<circle cx="1192.5" cy="148.3" r="3.4" fill="url(#r)"/>
<circle cx="1145.2" cy="89.8" r="3.4" fill="url(#r)"/>
<circle cx="1168.8" cy="119" r="3.4" fill="url(#r)"/>
<circle cx="1239.8" cy="206.9" r="3.4" fill="url(#r)"/>
<circle cx="1185.7" cy="196.4" r="3.4" fill="url(#r)"/>
<circle cx="1209.4" cy="225.7" r="3.4" fill="url(#r)"/>
<circle cx="1138.4" cy="137.9" r="3.4" fill="url(#r)"/>
<circle cx="1162" cy="167.2" r="3.4" fill="url(#r)"/>
<circle cx="1155.2" cy="215.3" r="3.4" fill="url(#r)"/>
<circle cx="1299.1" cy="73" r="3.4" fill="url(#r)"/>
<circle cx="1268.6" cy="91.8" r="3.4" fill="url(#r)"/>
<circle cx="1292.3" cy="121.1" r="3" fill="url(#go8)"/>
<circle cx="1261.8" cy="139.9" r="3" fill="url(#go8)"/>
<circle cx="1214.5" cy="81.4" r="3" fill="url(#go8)"/>
<circle cx="1238.2" cy="110.7" r="3.4" fill="url(#r)"/>
<circle cx="1285.5" cy="169.2" r="3.4" fill="url(#r)"/>
<circle cx="1184.1" cy="100.2" r="3" fill="url(#go8)"/>
<circle cx="1160.4" cy="70.9" r="3.4" fill="url(#r)"/>
<circle cx="1207.7" cy="129.5" r="3.4" fill="url(#r)"/>
<circle cx="1255" cy="188.1" r="3.4" fill="url(#r)"/>
<circle cx="1278.7" cy="217.3" r="3" fill="url(#go8)"/>
<circle cx="1231.4" cy="158.8" r="3" fill="url(#go8)"/>
<circle cx="1177.3" cy="148.3" r="3.4" fill="url(#r)"/>
<circle cx="1224.6" cy="206.9" r="3.4" fill="url(#r)"/>
<circle cx="1153.6" cy="119" r="3" fill="url(#go8)"/>
<circle cx="1130" cy="89.8" r="3.4" fill="url(#r)"/>
<circle cx="1200.9" cy="177.6" r="3" fill="url(#go8)"/>
<circle cx="1170.5" cy="196.4" r="3" fill="url(#go8)"/>
<circle cx="1146.8" cy="167.2" r="3.4" fill="url(#r)"/>
<circle cx="1194.1" cy="225.7" r="3.4" fill="url(#r)"/>
<circle cx="1283.9" cy="73" r="3.4" fill="url(#r)"/>
<circle cx="1307.5" cy="102.3" r="3.4" fill="url(#r)"/>
<circle cx="1277.1" cy="121.1" r="3.4" fill="url(#r)"/>
<circle cx="1253.4" cy="91.8" r="3.4" fill="url(#r)"/>
<circle cx="1300.7" cy="150.4" r="3.4" fill="url(#r)"/>
<circle cx="1270.2" cy="169.2" r="3.4" fill="url(#r)"/>
<circle cx="1199.3" cy="81.4" r="3.4" fill="url(#r)"/>
<circle cx="1293.9" cy="198.5" r="3.4" fill="url(#r)"/>
<circle cx="1223" cy="110.7" r="3.4" fill="url(#r)"/>
<circle cx="1246.6" cy="139.9" r="3.4" fill="url(#r)"/>
<circle cx="1263.5" cy="217.3" r="3.4" fill="url(#r)"/>
<circle cx="1145.2" cy="70.9" r="3.4" fill="url(#r)"/>
<circle cx="1168.8" cy="100.2" r="3.4" fill="url(#r)"/>
<circle cx="1192.5" cy="129.5" r="3.4" fill="url(#r)"/>
<circle cx="1216.2" cy="158.8" r="3.4" fill="url(#r)"/>
<circle cx="1239.8" cy="188.1" r="3.4" fill="url(#r)"/>
<circle cx="1209.4" cy="206.9" r="3.4" fill="url(#r)"/>
<circle cx="1138.4" cy="119" r="3.4" fill="url(#r)"/>
<circle cx="1162" cy="148.3" r="3.4" fill="url(#r)"/>
<circle cx="1185.7" cy="177.6" r="3.4" fill="url(#r)"/>
<circle cx="1178.9" cy="225.7" r="3.4" fill="url(#r)"/>
<circle cx="1155.2" cy="196.4" r="3.4" fill="url(#r)"/>
<circle cx="1268.6" cy="73" r="3.4" fill="url(#r)"/>
<circle cx="1292.3" cy="102.3" r="3" fill="url(#go8)"/>
<circle cx="1261.8" cy="121.1" r="3" fill="url(#go8)"/>
<circle cx="1238.2" cy="91.8" r="3.4" fill="url(#r)"/>
<circle cx="1285.5" cy="150.4" r="3.4" fill="url(#r)"/>
<circle cx="1184.1" cy="81.4" r="3" fill="url(#go8)"/>
<circle cx="1255" cy="169.2" r="3.4" fill="url(#r)"/>
<circle cx="1278.7" cy="198.5" r="3" fill="url(#go8)"/>
<circle cx="1231.4" cy="139.9" r="3" fill="url(#go8)"/>
<circle cx="1207.7" cy="110.6" r="3.4" fill="url(#r)"/>
<circle cx="1153.6" cy="100.2" r="3" fill="url(#go8)"/>
<circle cx="1177.3" cy="129.5" r="3.4" fill="url(#r)"/>
<circle cx="1248.2" cy="217.3" r="3" fill="url(#go8)"/>
<circle cx="1130" cy="70.9" r="3.4" fill="url(#r)"/>
<circle cx="1224.6" cy="188" r="3.4" fill="url(#r)"/>
<circle cx="1200.9" cy="158.8" r="3" fill="url(#go8)"/>
<circle cx="1170.5" cy="177.6" r="3" fill="url(#go8)"/>
<circle cx="1146.8" cy="148.3" r="3.4" fill="url(#r)"/>
<circle cx="1194.1" cy="206.9" r="3.4" fill="url(#r)"/>
<circle cx="1163.7" cy="225.7" r="3.4" fill="url(#r)"/>
<circle cx="1307.5" cy="83.4" r="3.4" fill="url(#r)"/>
<circle cx="1253.4" cy="73" r="3.4" fill="url(#r)"/>
<circle cx="1277.1" cy="102.3" r="3.4" fill="url(#r)"/>
<circle cx="1300.7" cy="131.5" r="3.4" fill="url(#r)"/>
<circle cx="1270.2" cy="150.4" r="3.4" fill="url(#r)"/>
<circle cx="1293.9" cy="179.7" r="3.4" fill="url(#r)"/>
<circle cx="1223" cy="91.8" r="3.4" fill="url(#r)"/>
<circle cx="1246.6" cy="121.1" r="3.4" fill="url(#r)"/>
<circle cx="1263.5" cy="198.5" r="3.4" fill="url(#r)"/>
<circle cx="1287.1" cy="227.8" r="3.4" fill="url(#r)"/>
<circle cx="1216.2" cy="139.9" r="3.4" fill="url(#r)"/>
<circle cx="1168.8" cy="81.3" r="3.4" fill="url(#r)"/>
<circle cx="1192.5" cy="110.6" r="3.4" fill="url(#r)"/>
<circle cx="1239.8" cy="169.2" r="3.4" fill="url(#r)"/>
<circle cx="1209.4" cy="188" r="3.4" fill="url(#r)"/>
<circle cx="1138.4" cy="100.2" r="3.4" fill="url(#r)"/>
<circle cx="1162" cy="129.5" r="3.4" fill="url(#r)"/>
<circle cx="1185.7" cy="158.7" r="3.4" fill="url(#r)"/>
<circle cx="1233" cy="217.3" r="3.4" fill="url(#r)"/>
<circle cx="1178.9" cy="206.9" r="3.4" fill="url(#r)"/>
<circle cx="1155.2" cy="177.6" r="3.4" fill="url(#r)"/>
<circle cx="1292.3" cy="83.4" r="3" fill="url(#go8)"/>
<circle cx="1261.8" cy="102.2" r="3" fill="url(#go8)"/>
<circle cx="1238.2" cy="73" r="3.4" fill="url(#r)"/>
<circle cx="1285.5" cy="131.5" r="3.4" fill="url(#r)"/>
<circle cx="1255" cy="150.4" r="3.4" fill="url(#r)"/>
<circle cx="1278.7" cy="179.6" r="3" fill="url(#go8)"/>
<circle cx="1231.4" cy="121.1" r="3" fill="url(#go8)"/>
<circle cx="1207.7" cy="91.8" r="3.4" fill="url(#r)"/>
<circle cx="1177.3" cy="110.6" r="3.4" fill="url(#r)"/>
<circle cx="1248.2" cy="198.5" r="3" fill="url(#go8)"/>
<circle cx="1153.6" cy="81.3" r="3" fill="url(#go8)"/>
<circle cx="1224.6" cy="169.2" r="3.4" fill="url(#r)"/>
<circle cx="1271.9" cy="227.8" r="3.4" fill="url(#r)"/>
<circle cx="1200.9" cy="139.9" r="3" fill="url(#go8)"/>
<circle cx="1146.8" cy="129.5" r="3.4" fill="url(#r)"/>
<circle cx="1170.5" cy="158.7" r="3" fill="url(#go8)"/>
<circle cx="1217.8" cy="217.3" r="3" fill="url(#go8)"/>
<circle cx="1194.1" cy="188" r="3.4" fill="url(#r)"/>
<circle cx="1163.7" cy="206.9" r="3.4" fill="url(#r)"/>
<circle cx="1277.1" cy="83.4" r="3.4" fill="url(#r)"/>
<circle cx="1300.7" cy="112.7" r="3.4" fill="url(#r)"/>
<circle cx="1270.2" cy="131.5" r="3.4" fill="url(#r)"/>
<circle cx="1223" cy="73" r="3.4" fill="url(#r)"/>
<circle cx="1246.6" cy="102.2" r="3.4" fill="url(#r)"/>
<circle cx="1293.9" cy="160.8" r="3.4" fill="url(#r)"/>
<circle cx="1263.5" cy="179.6" r="3.4" fill="url(#r)"/>
<circle cx="1216.2" cy="121.1" r="3.4" fill="url(#r)"/>
<circle cx="1287.1" cy="208.9" r="3.4" fill="url(#r)"/>
<circle cx="1192.5" cy="91.8" r="3.4" fill="url(#r)"/>
<circle cx="1239.8" cy="150.4" r="3.4" fill="url(#r)"/>
<circle cx="1256.7" cy="227.8" r="3.4" fill="url(#r)"/>
<circle cx="1209.4" cy="169.2" r="3.4" fill="url(#r)"/>
<circle cx="1138.4" cy="81.3" r="3.4" fill="url(#r)"/>
<circle cx="1162" cy="110.6" r="3.4" fill="url(#r)"/>
<circle cx="1185.7" cy="139.9" r="3.4" fill="url(#r)"/>
<circle cx="1233" cy="198.5" r="3.4" fill="url(#r)"/>
<circle cx="1202.5" cy="217.3" r="3.4" fill="url(#r)"/>
<circle cx="1178.9" cy="188" r="3.4" fill="url(#r)"/>
<circle cx="1155.2" cy="158.7" r="3.4" fill="url(#r)"/>
<circle cx="1261.8" cy="83.4" r="3" fill="url(#go8)"/>
<circle cx="1285.5" cy="112.7" r="3.4" fill="url(#r)"/>
<circle cx="1255" cy="131.5" r="3.4" fill="url(#r)"/>
<circle cx="1231.4" cy="102.2" r="3" fill="url(#go8)"/>
<circle cx="1207.7" cy="72.9" r="3.4" fill="url(#r)"/>
<circle cx="1278.7" cy="160.8" r="3" fill="url(#go8)"/>
<circle cx="1248.2" cy="179.6" r="3" fill="url(#go8)"/>
<circle cx="1177.3" cy="91.8" r="3.4" fill="url(#r)"/>
<circle cx="1224.6" cy="150.3" r="3.4" fill="url(#r)"/>
<circle cx="1200.9" cy="121.1" r="3" fill="url(#go8)"/>
<circle cx="1271.9" cy="208.9" r="3.4" fill="url(#r)"/>
<circle cx="1241.4" cy="227.7" r="3.4" fill="url(#r)"/>
<circle cx="1146.8" cy="110.6" r="3.4" fill="url(#r)"/>
<circle cx="1170.5" cy="139.9" r="3" fill="url(#go8)"/>
<circle cx="1217.8" cy="198.5" r="3" fill="url(#go8)"/>
<circle cx="1194.1" cy="169.2" r="3.4" fill="url(#r)"/>
<circle cx="1163.7" cy="188" r="3.4" fill="url(#r)"/>
<circle cx="1187.3" cy="217.3" r="3" fill="url(#go8)"/>
<circle cx="1300.7" cy="93.8" r="3.4" fill="url(#r)"/>
<circle cx="1270.2" cy="112.7" r="3.4" fill="url(#r)"/>
<circle cx="1293.9" cy="142" r="3.4" fill="url(#r)"/>
<circle cx="1246.6" cy="83.4" r="3.4" fill="url(#r)"/>
<circle cx="1216.2" cy="102.2" r="3.4" fill="url(#r)"/>
<circle cx="1263.5" cy="160.8" r="3.4" fill="url(#r)"/>
<circle cx="1287.1" cy="190.1" r="3.4" fill="url(#r)"/>
<circle cx="1192.5" cy="72.9" r="3.4" fill="url(#r)"/>
<circle cx="1239.8" cy="131.5" r="3.4" fill="url(#r)"/>
<circle cx="1209.4" cy="150.3" r="3.4" fill="url(#r)"/>
<circle cx="1256.7" cy="208.9" r="3.4" fill="url(#r)"/>
<circle cx="1185.7" cy="121" r="3.4" fill="url(#r)"/>
<circle cx="1233" cy="179.6" r="3.4" fill="url(#r)"/>
<circle cx="1162" cy="91.8" r="3.4" fill="url(#r)"/>
<circle cx="1202.5" cy="198.4" r="3.4" fill="url(#r)"/>
<circle cx="1178.9" cy="169.2" r="3.4" fill="url(#r)"/>
<circle cx="1226.2" cy="227.7" r="3.4" fill="url(#r)"/>
<circle cx="1155.2" cy="139.9" r="3.4" fill="url(#r)"/>
<circle cx="1172.1" cy="217.3" r="3.4" fill="url(#r)"/>
<circle cx="1285.5" cy="93.8" r="3.4" fill="url(#r)"/>
<circle cx="1278.7" cy="141.9" r="3" fill="url(#go8)"/>
<circle cx="1231.4" cy="83.4" r="3" fill="url(#go8)"/>
<circle cx="1255" cy="112.7" r="3.4" fill="url(#r)"/>
<circle cx="1177.3" cy="72.9" r="3.4" fill="url(#r)"/>
<circle cx="1200.9" cy="102.2" r="3" fill="url(#go8)"/>
<circle cx="1248.2" cy="160.8" r="3" fill="url(#go8)"/>
<circle cx="1224.6" cy="131.5" r="3.4" fill="url(#r)"/>
<circle cx="1271.9" cy="190.1" r="3.4" fill="url(#r)"/>
<circle cx="1170.5" cy="121" r="3" fill="url(#go8)"/>
<circle cx="1146.8" cy="91.8" r="3.4" fill="url(#r)"/>
<circle cx="1194.1" cy="150.3" r="3.4" fill="url(#r)"/>
<circle cx="1241.4" cy="208.9" r="3.4" fill="url(#r)"/>
<circle cx="1217.8" cy="179.6" r="3" fill="url(#go8)"/>
<circle cx="1163.7" cy="169.2" r="3.4" fill="url(#r)"/>
<circle cx="1187.3" cy="198.4" r="3" fill="url(#go8)"/>
<circle cx="1211" cy="227.7" r="3.4" fill="url(#r)"/>
<circle cx="1300.7" cy="75" r="3.4" fill="url(#r)"/>
<circle cx="1270.2" cy="93.8" r="3.4" fill="url(#r)"/>
<circle cx="1293.9" cy="123.1" r="3.4" fill="url(#r)"/>
<circle cx="1216.2" cy="83.4" r="3.4" fill="url(#r)"/>
<circle cx="1263.5" cy="141.9" r="3.4" fill="url(#r)"/>
<circle cx="1287.1" cy="171.2" r="3.4" fill="url(#r)"/>
<circle cx="1239.8" cy="112.7" r="3.4" fill="url(#r)"/>
<circle cx="1209.4" cy="131.5" r="3.4" fill="url(#r)"/>
<circle cx="1256.7" cy="190.1" r="3.4" fill="url(#r)"/>
<circle cx="1185.7" cy="102.2" r="3.4" fill="url(#r)"/>
<circle cx="1280.3" cy="219.3" r="3.4" fill="url(#r)"/>
<circle cx="1162" cy="72.9" r="3.4" fill="url(#r)"/>
<circle cx="1233" cy="160.8" r="3.4" fill="url(#r)"/>
<circle cx="1202.5" cy="179.6" r="3.4" fill="url(#r)"/>
<circle cx="1178.9" cy="150.3" r="3.4" fill="url(#r)"/>
<circle cx="1155.2" cy="121" r="3.4" fill="url(#r)"/>
<circle cx="1226.2" cy="208.9" r="3.4" fill="url(#r)"/>
<circle cx="1172.1" cy="198.4" r="3.4" fill="url(#r)"/>
<circle cx="1195.8" cy="227.7" r="3.4" fill="url(#r)"/>
<circle cx="1285.5" cy="75" r="3.4" fill="url(#r)"/>
<circle cx="1255" cy="93.8" r="3.4" fill="url(#r)"/>
<circle cx="1278.7" cy="123.1" r="3" fill="url(#go8)"/>
<circle cx="1200.9" cy="83.4" r="3" fill="url(#go8)"/>
<circle cx="1248.2" cy="141.9" r="3" fill="url(#go8)"/>
<circle cx="1224.6" cy="112.6" r="3.4" fill="url(#r)"/>
<circle cx="1271.9" cy="171.2" r="3.4" fill="url(#r)"/>
<circle cx="1170.5" cy="102.2" r="3" fill="url(#go8)"/>
<circle cx="1146.8" cy="72.9" r="3.4" fill="url(#r)"/>
<circle cx="1194.1" cy="131.5" r="3.4" fill="url(#r)"/>
<circle cx="1241.4" cy="190" r="3.4" fill="url(#r)"/>
<circle cx="1217.8" cy="160.8" r="3" fill="url(#go8)"/>
<circle cx="1265.1" cy="219.3" r="3" fill="url(#go8)"/>
<circle cx="1163.7" cy="150.3" r="3.4" fill="url(#r)"/>
<circle cx="1211" cy="208.9" r="3.4" fill="url(#r)"/>
<circle cx="1187.3" cy="179.6" r="3" fill="url(#go8)"/>
<circle cx="1180.5" cy="227.7" r="3.4" fill="url(#r)"/>
<circle cx="1270.2" cy="75" r="3.4" fill="url(#r)"/>
<circle cx="1293.9" cy="104.3" r="3.4" fill="url(#r)"/>
<circle cx="1263.5" cy="123.1" r="3.4" fill="url(#r)"/>
<circle cx="1287.1" cy="152.4" r="3.4" fill="url(#r)"/>
<circle cx="1239.8" cy="93.8" r="3.4" fill="url(#r)"/>
<circle cx="1256.7" cy="171.2" r="3.4" fill="url(#r)"/>
<circle cx="1185.7" cy="83.3" r="3.4" fill="url(#r)"/>
<circle cx="1280.3" cy="200.5" r="3.4" fill="url(#r)"/>
<circle cx="1209.4" cy="112.6" r="3.4" fill="url(#r)"/>
<circle cx="1233" cy="141.9" r="3.4" fill="url(#r)"/>
<circle cx="1249.9" cy="219.3" r="3.4" fill="url(#r)"/>
<circle cx="1155.2" cy="102.2" r="3.4" fill="url(#r)"/>
<circle cx="1178.9" cy="131.5" r="3.4" fill="url(#r)"/>
<circle cx="1202.5" cy="160.7" r="3.4" fill="url(#r)"/>
<circle cx="1226.2" cy="190" r="3.4" fill="url(#r)"/>
<circle cx="1195.8" cy="208.9" r="3.4" fill="url(#r)"/>
<circle cx="1172.1" cy="179.6" r="3.4" fill="url(#r)"/>
<circle cx="1255" cy="75" r="3.4" fill="url(#r)"/>
<circle cx="1278.7" cy="104.2" r="3" fill="url(#go8)"/>
<circle cx="1248.2" cy="123.1" r="3" fill="url(#go8)"/>
<circle cx="1224.6" cy="93.8" r="3.4" fill="url(#r)"/>
<circle cx="1271.9" cy="152.4" r="3.4" fill="url(#r)"/>
<circle cx="1170.5" cy="83.3" r="3" fill="url(#go8)"/>
<circle cx="1241.4" cy="171.2" r="3.4" fill="url(#r)"/>
<circle cx="1217.8" cy="141.9" r="3" fill="url(#go8)"/>
<circle cx="1265.1" cy="200.5" r="3" fill="url(#go8)"/>
<circle cx="1194.1" cy="112.6" r="3.4" fill="url(#r)"/>
<circle cx="1163.7" cy="131.5" r="3.4" fill="url(#r)"/>
<circle cx="1234.6" cy="219.3" r="3" fill="url(#go8)"/>
<circle cx="1211" cy="190" r="3.4" fill="url(#r)"/>
<circle cx="1187.3" cy="160.7" r="3" fill="url(#go8)"/>
<circle cx="1180.5" cy="208.9" r="3.4" fill="url(#r)"/>
<circle cx="1293.9" cy="85.4" r="3.4" fill="url(#r)"/>
<circle cx="1287.1" cy="133.5" r="3.4" fill="url(#r)"/>
<circle cx="1263.5" cy="104.2" r="3.4" fill="url(#r)"/>
<circle cx="1239.8" cy="75" r="3.4" fill="url(#r)"/>
<circle cx="1256.7" cy="152.4" r="3.4" fill="url(#r)"/>
<circle cx="1280.3" cy="181.6" r="3.4" fill="url(#r)"/>
<circle cx="1209.4" cy="93.8" r="3.4" fill="url(#r)"/>
<circle cx="1233" cy="123.1" r="3.4" fill="url(#r)"/>
<circle cx="1249.9" cy="200.5" r="3.4" fill="url(#r)"/>
<circle cx="1273.5" cy="229.8" r="3.4" fill="url(#r)"/>
<circle cx="1202.5" cy="141.9" r="3.4" fill="url(#r)"/>
<circle cx="1155.2" cy="83.3" r="3.4" fill="url(#r)"/>
<circle cx="1178.9" cy="112.6" r="3.4" fill="url(#r)"/>
<circle cx="1226.2" cy="171.2" r="3.4" fill="url(#r)"/>
<circle cx="1195.8" cy="190" r="3.4" fill="url(#r)"/>
<circle cx="1172.1" cy="160.7" r="3.4" fill="url(#r)"/>
<circle cx="1219.4" cy="219.3" r="3.4" fill="url(#r)"/>
<circle cx="1278.7" cy="85.4" r="3" fill="url(#go8)"/>
<circle cx="1248.2" cy="104.2" r="3" fill="url(#go8)"/>
<circle cx="1224.6" cy="74.9" r="3.4" fill="url(#r)"/>
<circle cx="1271.9" cy="133.5" r="3.4" fill="url(#r)"/>
<circle cx="1241.4" cy="152.3" r="3.4" fill="url(#r)"/>
<circle cx="1217.8" cy="123.1" r="3" fill="url(#go8)"/>
<circle cx="1265.1" cy="181.6" r="3" fill="url(#go8)"/>
<circle cx="1194.1" cy="93.8" r="3.4" fill="url(#r)"/>
<circle cx="1163.7" cy="112.6" r="3.4" fill="url(#r)"/>
<circle cx="1234.6" cy="200.5" r="3" fill="url(#go8)"/>
<circle cx="1211" cy="171.2" r="3.4" fill="url(#r)"/>
<circle cx="1258.3" cy="229.7" r="3.4" fill="url(#r)"/>
<circle cx="1187.3" cy="141.9" r="3" fill="url(#go8)"/>
<circle cx="1204.2" cy="219.3" r="3" fill="url(#go8)"/>
<circle cx="1180.5" cy="190" r="3.4" fill="url(#r)"/>
<circle cx="1263.5" cy="85.4" r="3.4" fill="url(#r)"/>
<circle cx="1287.1" cy="114.7" r="3.4" fill="url(#r)"/>
<circle cx="1256.7" cy="133.5" r="3.4" fill="url(#r)"/>
<circle cx="1209.4" cy="74.9" r="3.4" fill="url(#r)"/>
<circle cx="1233" cy="104.2" r="3.4" fill="url(#r)"/>
<circle cx="1280.3" cy="162.8" r="3.4" fill="url(#r)"/>
<circle cx="1249.9" cy="181.6" r="3.4" fill="url(#r)"/>
<circle cx="1202.5" cy="123" r="3.4" fill="url(#r)"/>
<circle cx="1178.9" cy="93.8" r="3.4" fill="url(#r)"/>
<circle cx="1226.2" cy="152.3" r="3.4" fill="url(#r)"/>
<circle cx="1273.5" cy="210.9" r="3.4" fill="url(#r)"/>
<circle cx="1243.1" cy="229.7" r="3.4" fill="url(#r)"/>
<circle cx="1195.8" cy="171.2" r="3.4" fill="url(#r)"/>
<circle cx="1172.1" cy="141.9" r="3.4" fill="url(#r)"/>
<circle cx="1219.4" cy="200.4" r="3.4" fill="url(#r)"/>
<circle cx="1189" cy="219.3" r="3.4" fill="url(#r)"/>
<circle cx="1248.2" cy="85.4" r="3" fill="url(#go8)"/>
<circle cx="1271.9" cy="114.7" r="3.4" fill="url(#r)"/>
<circle cx="1241.4" cy="133.5" r="3.4" fill="url(#r)"/>
<circle cx="1217.8" cy="104.2" r="3" fill="url(#go8)"/>
<circle cx="1194.1" cy="74.9" r="3.4" fill="url(#r)"/>
<circle cx="1265.1" cy="162.8" r="3" fill="url(#go8)"/>
<circle cx="1234.6" cy="181.6" r="3" fill="url(#go8)"/>
<circle cx="1163.7" cy="93.8" r="3.4" fill="url(#r)"/>
<circle cx="1211" cy="152.3" r="3.4" fill="url(#r)"/>
<circle cx="1187.3" cy="123" r="3" fill="url(#go8)"/>
<circle cx="1258.3" cy="210.9" r="3.4" fill="url(#r)"/>
<circle cx="1227.8" cy="229.7" r="3.4" fill="url(#r)"/>
<circle cx="1204.2" cy="200.4" r="3" fill="url(#go8)"/>
<circle cx="1180.5" cy="171.2" r="3.4" fill="url(#r)"/>
<circle cx="1287.1" cy="95.8" r="3.4" fill="url(#r)"/>
<circle cx="1280.3" cy="143.9" r="3.4" fill="url(#r)"/>
<circle cx="1233" cy="85.4" r="3.4" fill="url(#r)"/>
<circle cx="1256.7" cy="114.7" r="3.4" fill="url(#r)"/>
<circle cx="1178.9" cy="74.9" r="3.4" fill="url(#r)"/>
<circle cx="1202.5" cy="104.2" r="3.4" fill="url(#r)"/>
<circle cx="1226.2" cy="133.5" r="3.4" fill="url(#r)"/>
<circle cx="1249.9" cy="162.8" r="3.4" fill="url(#r)"/>
<circle cx="1273.5" cy="192.1" r="3.4" fill="url(#r)"/>
<circle cx="1195.8" cy="152.3" r="3.4" fill="url(#r)"/>
<circle cx="1243.1" cy="210.9" r="3.4" fill="url(#r)"/>
<circle cx="1172.1" cy="123" r="3.4" fill="url(#r)"/>
<circle cx="1219.4" cy="181.6" r="3.4" fill="url(#r)"/>
<circle cx="1189" cy="200.4" r="3.4" fill="url(#r)"/>
<circle cx="1212.6" cy="229.7" r="3.4" fill="url(#r)"/>
<circle cx="1271.9" cy="95.8" r="3.4" fill="url(#r)"/>
<circle cx="1217.8" cy="85.4" r="3" fill="url(#go8)"/>
<circle cx="1241.4" cy="114.6" r="3.4" fill="url(#r)"/>
<circle cx="1265.1" cy="143.9" r="3" fill="url(#go8)"/>
<circle cx="1163.7" cy="74.9" r="3.4" fill="url(#r)"/>
<circle cx="1187.3" cy="104.2" r="3" fill="url(#go8)"/>
<circle cx="1234.6" cy="162.8" r="3" fill="url(#go8)"/>
<circle cx="1211" cy="133.5" r="3.4" fill="url(#r)"/>
<circle cx="1258.3" cy="192" r="3.4" fill="url(#r)"/>
<circle cx="1180.5" cy="152.3" r="3.4" fill="url(#r)"/>
<circle cx="1227.8" cy="210.9" r="3.4" fill="url(#r)"/>
<circle cx="1204.2" cy="181.6" r="3" fill="url(#go8)"/>
<circle cx="1197.4" cy="229.7" r="3.4" fill="url(#r)"/>
<circle cx="1287.1" cy="77" r="3.4" fill="url(#r)"/>
<circle cx="1256.7" cy="95.8" r="3.4" fill="url(#r)"/>
<circle cx="1280.3" cy="125.1" r="3.4" fill="url(#r)"/>
<circle cx="1202.5" cy="85.3" r="3.4" fill="url(#r)"/>
<circle cx="1249.9" cy="143.9" r="3.4" fill="url(#r)"/>
<circle cx="1226.2" cy="114.6" r="3.4" fill="url(#r)"/>
<circle cx="1273.5" cy="173.2" r="3.4" fill="url(#r)"/>
<circle cx="1172.1" cy="104.2" r="3.4" fill="url(#r)"/>
<circle cx="1195.8" cy="133.5" r="3.4" fill="url(#r)"/>
<circle cx="1243.1" cy="192" r="3.4" fill="url(#r)"/>
<circle cx="1266.7" cy="221.3" r="3.4" fill="url(#r)"/>
<circle cx="1219.4" cy="162.7" r="3.4" fill="url(#r)"/>
<circle cx="1189" cy="181.6" r="3.4" fill="url(#r)"/>
<circle cx="1212.6" cy="210.9" r="3.4" fill="url(#r)"/>
<circle cx="1271.9" cy="77" r="3.4" fill="url(#r)"/>
<circle cx="1241.4" cy="95.8" r="3.4" fill="url(#r)"/>
<circle cx="1265.1" cy="125.1" r="3" fill="url(#go8)"/>
<circle cx="1187.3" cy="85.3" r="3" fill="url(#go8)"/>
<circle cx="1211" cy="114.6" r="3.4" fill="url(#r)"/>
<circle cx="1234.6" cy="143.9" r="3" fill="url(#go8)"/>
<circle cx="1258.3" cy="173.2" r="3.4" fill="url(#r)"/>
<circle cx="1180.5" cy="133.5" r="3.4" fill="url(#r)"/>
<circle cx="1204.2" cy="162.7" r="3" fill="url(#go8)"/>
<circle cx="1227.8" cy="192" r="3.4" fill="url(#r)"/>
<circle cx="1251.5" cy="221.3" r="3" fill="url(#go8)"/>
<circle cx="1197.4" cy="210.9" r="3.4" fill="url(#r)"/>
<circle cx="1256.7" cy="77" r="3.4" fill="url(#r)"/>
<circle cx="1280.3" cy="106.2" r="3.4" fill="url(#r)"/>
<circle cx="1249.9" cy="125.1" r="3.4" fill="url(#r)"/>
<circle cx="1226.2" cy="95.8" r="3.4" fill="url(#r)"/>
<circle cx="1273.5" cy="154.4" r="3.4" fill="url(#r)"/>
<circle cx="1243.1" cy="173.2" r="3.4" fill="url(#r)"/>
<circle cx="1172.1" cy="85.3" r="3.4" fill="url(#r)"/>
<circle cx="1266.7" cy="202.5" r="3.4" fill="url(#r)"/>
<circle cx="1195.8" cy="114.6" r="3.4" fill="url(#r)"/>
<circle cx="1219.4" cy="143.9" r="3.4" fill="url(#r)"/>
<circle cx="1236.2" cy="221.3" r="3.4" fill="url(#r)"/>
<circle cx="1189" cy="162.7" r="3.4" fill="url(#r)"/>
<circle cx="1212.6" cy="192" r="3.4" fill="url(#r)"/>
<circle cx="1241.4" cy="76.9" r="3.4" fill="url(#r)"/>
<circle cx="1265.1" cy="106.2" r="3" fill="url(#go8)"/>
<circle cx="1234.6" cy="125.1" r="3" fill="url(#go8)"/>
<circle cx="1211" cy="95.8" r="3.4" fill="url(#r)"/>
<circle cx="1258.3" cy="154.3" r="3.4" fill="url(#r)"/>
<circle cx="1227.8" cy="173.2" r="3.4" fill="url(#r)"/>
<circle cx="1180.5" cy="114.6" r="3.4" fill="url(#r)"/>
<circle cx="1204.2" cy="143.9" r="3" fill="url(#go8)"/>
<circle cx="1251.5" cy="202.5" r="3" fill="url(#go8)"/>
<circle cx="1197.4" cy="192" r="3.4" fill="url(#r)"/>
<circle cx="1221" cy="221.3" r="3" fill="url(#go8)"/>
<circle cx="1280.3" cy="87.4" r="3.4" fill="url(#r)"/>
<circle cx="1226.2" cy="76.9" r="3.4" fill="url(#r)"/>
<circle cx="1249.9" cy="106.2" r="3.4" fill="url(#r)"/>
<circle cx="1273.5" cy="135.5" r="3.4" fill="url(#r)"/>
<circle cx="1195.8" cy="95.8" r="3.4" fill="url(#r)"/>
<circle cx="1243.1" cy="154.3" r="3.4" fill="url(#r)"/>
<circle cx="1266.7" cy="183.6" r="3.4" fill="url(#r)"/>
<circle cx="1219.4" cy="125" r="3.4" fill="url(#r)"/>
<circle cx="1236.2" cy="202.4" r="3.4" fill="url(#r)"/>
<circle cx="1259.9" cy="231.7" r="3.4" fill="url(#r)"/>
<circle cx="1189" cy="143.9" r="3.4" fill="url(#r)"/>
<circle cx="1212.6" cy="173.2" r="3.4" fill="url(#r)"/>
<circle cx="1205.8" cy="221.3" r="3.4" fill="url(#r)"/>
<circle cx="1265.1" cy="87.4" r="3" fill="url(#go8)"/>
<circle cx="1211" cy="76.9" r="3.4" fill="url(#r)"/>
<circle cx="1234.6" cy="106.2" r="3" fill="url(#go8)"/>
<circle cx="1258.3" cy="135.5" r="3.4" fill="url(#r)"/>
<circle cx="1204.2" cy="125" r="3" fill="url(#go8)"/>
<circle cx="1227.8" cy="154.3" r="3.4" fill="url(#r)"/>
<circle cx="1251.5" cy="183.6" r="3" fill="url(#go8)"/>
<circle cx="1180.5" cy="95.8" r="3.4" fill="url(#r)"/>
<circle cx="1221" cy="202.4" r="3" fill="url(#go8)"/>
<circle cx="1197.4" cy="173.2" r="3.4" fill="url(#r)"/>
<circle cx="1244.7" cy="231.7" r="3.4" fill="url(#r)"/>
<circle cx="1249.9" cy="87.4" r="3.4" fill="url(#r)"/>
<circle cx="1273.5" cy="116.7" r="3.4" fill="url(#r)"/>
<circle cx="1243.1" cy="135.5" r="3.4" fill="url(#r)"/>
<circle cx="1195.8" cy="76.9" r="3.4" fill="url(#r)"/>
<circle cx="1219.4" cy="106.2" r="3.4" fill="url(#r)"/>
<circle cx="1266.7" cy="164.8" r="3.4" fill="url(#r)"/>
<circle cx="1236.2" cy="183.6" r="3.4" fill="url(#r)"/>
<circle cx="1189" cy="125" r="3.4" fill="url(#r)"/>
<circle cx="1212.6" cy="154.3" r="3.4" fill="url(#r)"/>
<circle cx="1259.9" cy="212.9" r="3.4" fill="url(#r)"/>
<circle cx="1229.5" cy="231.7" r="3.4" fill="url(#r)"/>
<circle cx="1205.8" cy="202.4" r="3.4" fill="url(#r)"/>
<circle cx="1234.6" cy="87.4" r="3" fill="url(#go8)"/>
<circle cx="1258.3" cy="116.6" r="3.4" fill="url(#r)"/>
<circle cx="1227.8" cy="135.5" r="3.4" fill="url(#r)"/>
<circle cx="1180.5" cy="76.9" r="3.4" fill="url(#r)"/>
<circle cx="1204.2" cy="106.2" r="3" fill="url(#go8)"/>
<circle cx="1251.5" cy="164.8" r="3" fill="url(#go8)"/>
<circle cx="1197.4" cy="154.3" r="3.4" fill="url(#r)"/>
<circle cx="1221" cy="183.6" r="3" fill="url(#go8)"/>
<circle cx="1244.7" cy="212.9" r="3.4" fill="url(#r)"/>
<circle cx="1214.2" cy="231.7" r="3.4" fill="url(#r)"/>
<circle cx="1273.5" cy="97.8" r="3.4" fill="url(#r)"/>
<circle cx="1243.1" cy="116.6" r="3.4" fill="url(#r)"/>
<circle cx="1266.7" cy="145.9" r="3.4" fill="url(#r)"/>
<circle cx="1219.4" cy="87.3" r="3.4" fill="url(#r)"/>
<circle cx="1189" cy="106.2" r="3.4" fill="url(#r)"/>
<circle cx="1236.2" cy="164.7" r="3.4" fill="url(#r)"/>
<circle cx="1212.6" cy="135.5" r="3.4" fill="url(#r)"/>
<circle cx="1259.9" cy="194" r="3.4" fill="url(#r)"/>
<circle cx="1205.8" cy="183.6" r="3.4" fill="url(#r)"/>
<circle cx="1229.5" cy="212.9" r="3.4" fill="url(#r)"/>
<circle cx="1258.3" cy="97.8" r="3.4" fill="url(#r)"/>
<circle cx="1204.2" cy="87.3" r="3" fill="url(#go8)"/>
<circle cx="1251.5" cy="145.9" r="3" fill="url(#go8)"/>
<circle cx="1227.8" cy="116.6" r="3.4" fill="url(#r)"/>
<circle cx="1197.4" cy="135.5" r="3.4" fill="url(#r)"/>
<circle cx="1221" cy="164.7" r="3" fill="url(#go8)"/>
<circle cx="1244.7" cy="194" r="3.4" fill="url(#r)"/>
<circle cx="1214.2" cy="212.9" r="3.4" fill="url(#r)"/>
<circle cx="1273.5" cy="79" r="3.4" fill="url(#r)"/>
<circle cx="1243.1" cy="97.8" r="3.4" fill="url(#r)"/>
<circle cx="1266.7" cy="127.1" r="3.4" fill="url(#r)"/>
<circle cx="1189" cy="87.3" r="3.4" fill="url(#r)"/>
<circle cx="1236.2" cy="145.9" r="3.4" fill="url(#r)"/>
<circle cx="1259.9" cy="175.2" r="3.4" fill="url(#r)"/>
<circle cx="1212.6" cy="116.6" r="3.4" fill="url(#r)"/>
<circle cx="1229.5" cy="194" r="3.4" fill="url(#r)"/>
<circle cx="1253.1" cy="223.3" r="3.4" fill="url(#r)"/>
<circle cx="1205.8" cy="164.7" r="3.4" fill="url(#r)"/>
<circle cx="1258.3" cy="78.9" r="3.4" fill="url(#r)"/>
<circle cx="1227.8" cy="97.8" r="3.4" fill="url(#r)"/>
<circle cx="1251.5" cy="127.1" r="3" fill="url(#go8)"/>
<circle cx="1221" cy="145.9" r="3" fill="url(#go8)"/>
<circle cx="1197.4" cy="116.6" r="3.4" fill="url(#r)"/>
<circle cx="1244.7" cy="175.2" r="3.4" fill="url(#r)"/>
<circle cx="1214.2" cy="194" r="3.4" fill="url(#r)"/>
<circle cx="1237.9" cy="223.3" r="3" fill="url(#go8)"/>
<circle cx="1243.1" cy="78.9" r="3.4" fill="url(#r)"/>
<circle cx="1266.7" cy="108.2" r="3.4" fill="url(#r)"/>
<circle cx="1236.2" cy="127" r="3.4" fill="url(#r)"/>
<circle cx="1212.6" cy="97.8" r="3.4" fill="url(#r)"/>
<circle cx="1259.9" cy="156.3" r="3.4" fill="url(#r)"/>
<circle cx="1229.5" cy="175.2" r="3.4" fill="url(#r)"/>
<circle cx="1253.1" cy="204.4" r="3.4" fill="url(#r)"/>
<circle cx="1205.8" cy="145.9" r="3.4" fill="url(#r)"/>
<circle cx="1222.7" cy="223.3" r="3.4" fill="url(#r)"/>
<circle cx="1227.8" cy="78.9" r="3.4" fill="url(#r)"/>
<circle cx="1251.5" cy="108.2" r="3" fill="url(#go8)"/>
<circle cx="1197.4" cy="97.8" r="3.4" fill="url(#r)"/>
<circle cx="1221" cy="127" r="3" fill="url(#go8)"/>
<circle cx="1244.7" cy="156.3" r="3.4" fill="url(#r)"/>
<circle cx="1214.2" cy="175.2" r="3.4" fill="url(#r)"/>
<circle cx="1237.9" cy="204.4" r="3" fill="url(#go8)"/>
<circle cx="1266.7" cy="89.4" r="3.4" fill="url(#r)"/>
<circle cx="1259.9" cy="137.5" r="3.4" fill="url(#r)"/>
<circle cx="1236.2" cy="108.2" r="3.4" fill="url(#r)"/>
<circle cx="1212.6" cy="78.9" r="3.4" fill="url(#r)"/>
<circle cx="1229.5" cy="156.3" r="3.4" fill="url(#r)"/>
<circle cx="1253.1" cy="185.6" r="3.4" fill="url(#r)"/>
<circle cx="1205.8" cy="127" r="3.4" fill="url(#r)"/>
<circle cx="1222.7" cy="204.4" r="3.4" fill="url(#r)"/>
<circle cx="1246.3" cy="233.7" r="3.4" fill="url(#r)"/>
<circle cx="1251.5" cy="89.4" r="3" fill="url(#go8)"/>
<circle cx="1221" cy="108.2" r="3" fill="url(#go8)"/>
<circle cx="1197.4" cy="78.9" r="3.4" fill="url(#r)"/>
<circle cx="1244.7" cy="137.5" r="3.4" fill="url(#r)"/>
<circle cx="1214.2" cy="156.3" r="3.4" fill="url(#r)"/>
<circle cx="1237.9" cy="185.6" r="3" fill="url(#go8)"/>
<circle cx="1231.1" cy="233.7" r="3.4" fill="url(#r)"/>
<circle cx="1236.2" cy="89.3" r="3.4" fill="url(#r)"/>
<circle cx="1259.9" cy="118.6" r="3.4" fill="url(#r)"/>
<circle cx="1229.5" cy="137.5" r="3.4" fill="url(#r)"/>
<circle cx="1205.8" cy="108.2" r="3.4" fill="url(#r)"/>
<circle cx="1253.1" cy="166.7" r="3.4" fill="url(#r)"/>
<circle cx="1222.7" cy="185.6" r="3.4" fill="url(#r)"/>
<circle cx="1246.3" cy="214.9" r="3.4" fill="url(#r)"/>
<circle cx="1221" cy="89.3" r="3" fill="url(#go8)"/>
<circle cx="1244.7" cy="118.6" r="3.4" fill="url(#r)"/>
<circle cx="1214.2" cy="137.5" r="3.4" fill="url(#r)"/>
<circle cx="1237.9" cy="166.7" r="3" fill="url(#go8)"/>
<circle cx="1231.1" cy="214.9" r="3.4" fill="url(#r)"/>
<circle cx="1259.9" cy="99.8" r="3.4" fill="url(#r)"/>
<circle cx="1253.1" cy="147.9" r="3.4" fill="url(#r)"/>
<circle cx="1205.8" cy="89.3" r="3.4" fill="url(#r)"/>
<circle cx="1229.5" cy="118.6" r="3.4" fill="url(#r)"/>
<circle cx="1222.7" cy="166.7" r="3.4" fill="url(#r)"/>
<circle cx="1246.3" cy="196" r="3.4" fill="url(#r)"/>
<circle cx="1244.7" cy="99.8" r="3.4" fill="url(#r)"/>
<circle cx="1214.2" cy="118.6" r="3.4" fill="url(#r)"/>
<circle cx="1237.9" cy="147.9" r="3" fill="url(#go8)"/>
<circle cx="1231.1" cy="196" r="3.4" fill="url(#r)"/>
<circle cx="1259.9" cy="80.9" r="3.4" fill="url(#r)"/>
<circle cx="1229.5" cy="99.8" r="3.4" fill="url(#r)"/>
<circle cx="1253.1" cy="129" r="3.4" fill="url(#r)"/>
<circle cx="1222.7" cy="147.9" r="3.4" fill="url(#r)"/>
<circle cx="1246.3" cy="177.2" r="3.4" fill="url(#r)"/>
<circle cx="1239.5" cy="225.3" r="3.4" fill="url(#r)"/>
<circle cx="1244.7" cy="80.9" r="3.4" fill="url(#r)"/>
<circle cx="1214.2" cy="99.8" r="3.4" fill="url(#r)"/>
<circle cx="1237.9" cy="129" r="3" fill="url(#go8)"/>
<circle cx="1231.1" cy="177.2" r="3.4" fill="url(#r)"/>
<circle cx="1229.5" cy="80.9" r="3.4" fill="url(#r)"/>
<circle cx="1253.1" cy="110.2" r="3.4" fill="url(#r)"/>
<circle cx="1222.7" cy="129" r="3.4" fill="url(#r)"/>
<circle cx="1246.3" cy="158.3" r="3.4" fill="url(#r)"/>
<circle cx="1239.5" cy="206.4" r="3.4" fill="url(#r)"/>
<circle cx="1214.2" cy="80.9" r="3.4" fill="url(#r)"/>
<circle cx="1237.9" cy="110.2" r="3" fill="url(#go8)"/>
<circle cx="1231.1" cy="158.3" r="3.4" fill="url(#r)"/>
<circle cx="1253.1" cy="91.3" r="3.4" fill="url(#r)"/>
<circle cx="1222.7" cy="110.2" r="3.4" fill="url(#r)"/>
<circle cx="1246.3" cy="139.5" r="3.4" fill="url(#r)"/>
<circle cx="1239.5" cy="187.6" r="3.4" fill="url(#r)"/>
<circle cx="1237.9" cy="91.3" r="3" fill="url(#go8)"/>
<circle cx="1231.1" cy="139.5" r="3.4" fill="url(#r)"/>
<circle cx="1222.7" cy="91.3" r="3.4" fill="url(#r)"/>
<circle cx="1246.3" cy="120.6" r="3.4" fill="url(#r)"/>
<circle cx="1239.5" cy="168.7" r="3.4" fill="url(#r)"/>
<circle cx="1231.1" cy="120.6" r="3.4" fill="url(#r)"/>
<circle cx="1246.3" cy="101.8" r="3.4" fill="url(#r)"/>
<circle cx="1239.5" cy="149.9" r="3.4" fill="url(#r)"/>
<circle cx="1231.1" cy="101.8" r="3.4" fill="url(#r)"/>
<circle cx="1246.3" cy="82.9" r="3.4" fill="url(#r)"/>
<circle cx="1239.5" cy="131" r="3.4" fill="url(#r)"/>
<circle cx="1231.1" cy="82.9" r="3.4" fill="url(#r)"/>
<circle cx="1239.5" cy="112.2" r="3.4" fill="url(#r)"/>
<circle cx="1239.5" cy="93.3" r="3.4" fill="url(#r)"/></g>

<!-- labels -->
<text class="b" x="71.3" y="267.1" font-size="27" textLength="115" lengthAdjust="spacingAndGlyphs">unit cell</text>
<text class="b" x="359" y="266.5" font-size="27" textLength="291" lengthAdjust="spacingAndGlyphs">super cells (2<tspan font-weight="normal" font-size="33" dy="3.5">×</tspan><tspan dy="-3.5">2</tspan><tspan font-weight="normal" font-size="33" dy="3.5">×</tspan><tspan dy="-3.5">2)</tspan></text>
<text class="b" x="729" y="266.5" font-size="27" textLength="289" lengthAdjust="spacingAndGlyphs">super cells (3<tspan font-weight="normal" font-size="33" dy="3.5">×</tspan><tspan dy="-3.5">3</tspan><tspan font-weight="normal" font-size="33" dy="3.5">×</tspan><tspan dy="-3.5">3)</tspan></text>
<text class="b" x="1101" y="266.8" font-size="27" textLength="291" lengthAdjust="spacingAndGlyphs">super cells (8<tspan font-weight="normal" font-size="33" dy="3.5">×</tspan><tspan dy="-3.5">8</tspan><tspan font-weight="normal" font-size="33" dy="3.5">×</tspan><tspan dy="-3.5">8)</tspan></text>

<!-- emojis -->
<g>
<ellipse cx="116.5" cy="296.5" rx="30.2" ry="23.5" fill="#f4d24a"/>
<ellipse cx="116.5" cy="294.5" rx="30.2" ry="22.3" fill="url(#fy1)"/>
<ellipse cx="102.7" cy="290.4" rx="4.8" ry="4.2" fill="#fff"/><circle cx="102.7" cy="290.6" r="2.4" fill="#1a1a1a"/>
<ellipse cx="129.6" cy="290.4" rx="4.8" ry="4.2" fill="#fff"/><circle cx="129.6" cy="290.6" r="2.4" fill="#1a1a1a"/>
<path d="M97.8 284.5 Q102.8 280.5 107.8 284.5" stroke="#3a3a10" stroke-width="1.4" fill="none"/>
<path d="M125 284.5 Q130 280.5 135 284.5" stroke="#3a3a10" stroke-width="1.4" fill="none"/>
<path d="M108.5 309.2 Q116.6 302 125 309.2" stroke="#3a3a10" stroke-width="1.8" fill="none"/>
</g>
<g>
<ellipse cx="500.6" cy="295.2" rx="27.7" ry="24.4" fill="url(#fy2)"/>
<ellipse cx="500.6" cy="284" rx="17" ry="8.5" fill="#fff" opacity="0.55"/>
<ellipse cx="492.5" cy="291" rx="2.7" ry="3.3" fill="#d89040"/><ellipse cx="492.5" cy="291" rx="1.4" ry="2" fill="#f4b070"/>
<ellipse cx="509.2" cy="291" rx="2.7" ry="3.3" fill="#d89040"/><ellipse cx="509.2" cy="291" rx="1.4" ry="2" fill="#f4b070"/>
<line x1="486.7" y1="302.5" x2="515" y2="302.5" stroke="#8a6a10" stroke-width="2" stroke-linecap="round"/>
</g>
<g>
<ellipse cx="868.1" cy="295" rx="26.9" ry="24.2" fill="url(#fy2)"/>
<ellipse cx="868.1" cy="284" rx="16.5" ry="8.5" fill="#fff" opacity="0.55"/>
<ellipse cx="859.6" cy="291" rx="2.7" ry="3.3" fill="#d89040"/><ellipse cx="859.6" cy="291" rx="1.4" ry="2" fill="#f4b070"/>
<ellipse cx="876" cy="291" rx="2.7" ry="3.3" fill="#d89040"/><ellipse cx="876" cy="291" rx="1.4" ry="2" fill="#f4b070"/>
<line x1="854.6" y1="302.3" x2="882.1" y2="302.3" stroke="#8a6a10" stroke-width="2" stroke-linecap="round"/>
</g>
<g>
<ellipse cx="1252.7" cy="295.4" rx="26.5" ry="23.3" fill="url(#fy3)" stroke="#e89a20" stroke-width="0.8"/>
<path d="M1241 295 Q1244.6 283.5 1248.4 295" stroke="#6a3c0c" stroke-width="2.6" fill="none"/>
<path d="M1256.8 295 Q1260.4 283.5 1264 295" stroke="#6a3c0c" stroke-width="2.6" fill="none"/>
<path d="M1234.6 299.2 Q1252.5 303 1270.2 299.2 Q1267 313.5 1252.5 313.5 Q1238 313.5 1234.6 299.2 Z" fill="#8a4a12"/>
<path d="M1236 300.2 Q1252.5 303.5 1269 300.2 Q1268 305.5 1252.5 306 Q1237 305.5 1236 300.2 Z" fill="#fff"/>
<path d="M1243 309.5 Q1252.5 306.5 1262 309.5 Q1258 312.8 1252.5 312.8 Q1247 312.8 1243 309.5 Z" fill="#c06a20"/>
</g>

<!-- arrow -->
<path d="M159.8 330.2 L1124.4 330.2 L1124.4 308.3 L1234.5 338.4 L1124.4 369 L1124.4 347 L159.8 347 Z" fill="#5b9bd5" stroke="#2e5488" stroke-width="1.5" stroke-linejoin="miter"/>

<!-- side texts -->
<text class="b" x="78.5" y="348.8" font-size="28" textLength="70" lengthAdjust="spacingAndGlyphs">ideal</text>
<text class="b" x="26" y="378.2" font-size="28" textLength="187" lengthAdjust="spacingAndGlyphs">imperfection</text>
<line x1="14.3" y1="357.7" x2="239" y2="383" stroke="#e8141c" stroke-width="2.4"/>
<line x1="14.3" y1="383" x2="239" y2="363.6" stroke="#e8141c" stroke-width="2.4"/>
<text class="b" x="1247.4" y="348.6" font-size="28" textLength="54.5" lengthAdjust="spacingAndGlyphs">real</text>
<text class="b" x="1191.8" y="377.9" font-size="28" textLength="186" lengthAdjust="spacingAndGlyphs">imperfection</text>

<text class="b" transform="translate(46,524) rotate(-13)" x="0" y="0" font-size="24" textLength="282" lengthAdjust="spacingAndGlyphs">Perovskite (CaTiO<tspan font-size="15" dy="1">3</tspan><tspan dy="-1">)</tspan></text>

<!-- chart -->
<rect x="467.9" y="351.9" width="616.3" height="320.9" fill="none" stroke="#1a1a1a" stroke-width="1.6"/>
<line x1="467.9" y1="444.5" x2="1084.2" y2="444.5" stroke="#1a1a1a" stroke-width="1.6"/>
<line x1="467.9" y1="562.2" x2="1084.2" y2="562.2" stroke="#1a1a1a" stroke-width="1.6"/>
<line x1="467.9" y1="672.8" x2="1084.2" y2="672.8" stroke="#1a1a1a" stroke-width="2.2"/>
<path d="M458.9 444.2H467.9M462.9 435.8H467.9M458.9 427.3H467.9M462.9 418.9H467.9M458.9 410.4H467.9M462.9 402H467.9M458.9 393.6H467.9M462.9 385.1H467.9M458.9 376.7H467.9M462.9 368.2H467.9M458.9 359.8H467.9M468.3 444.5V449.5M497.6 444.5V448M526.8 444.5V449.5M556.1 444.5V448M585.3 444.5V449.5M614.5 444.5V448M643.8 444.5V449.5M673.1 444.5V448M702.3 444.5V449.5M731.5 444.5V448M760.8 444.5V449.5M790 444.5V448M819.3 444.5V449.5M848.5 444.5V448M877.8 444.5V449.5M907 444.5V448M936.3 444.5V449.5M965.6 444.5V448M994.8 444.5V449.5M1024 444.5V448M1053.3 444.5V449.5M458.9 562.2H467.9M462.9 553.3H467.9M458.9 544.5H467.9M462.9 535.6H467.9M458.9 526.8H467.9M462.9 517.9H467.9M458.9 509H467.9M462.9 500.2H467.9M458.9 491.3H467.9M462.9 482.5H467.9M458.9 473.6H467.9M468.3 562.2V567.2M497.6 562.2V565.7M526.8 562.2V567.2M556.1 562.2V565.7M585.3 562.2V567.2M614.5 562.2V565.7M643.8 562.2V567.2M673.1 562.2V565.7M702.3 562.2V567.2M731.5 562.2V565.7M760.8 562.2V567.2M790 562.2V565.7M819.3 562.2V567.2M848.5 562.2V565.7M877.8 562.2V567.2M907 562.2V565.7M936.3 562.2V567.2M965.6 562.2V565.7M994.8 562.2V567.2M1024 562.2V565.7M1053.3 562.2V567.2M458.9 672.8H467.9M462.9 664.5H467.9M458.9 656.2H467.9M462.9 647.9H467.9M458.9 639.6H467.9M462.9 631.3H467.9M458.9 623H467.9M462.9 614.7H467.9M458.9 606.4H467.9M462.9 598.1H467.9M458.9 589.8H467.9M468.3 672.8V677.8M497.6 672.8V676.3M526.8 672.8V677.8M556.1 672.8V676.3M585.3 672.8V677.8M614.5 672.8V676.3M643.8 672.8V677.8M673.1 672.8V676.3M702.3 672.8V677.8M731.5 672.8V676.3M760.8 672.8V677.8M790 672.8V676.3M819.3 672.8V677.8M848.5 672.8V676.3M877.8 672.8V677.8M907 672.8V676.3M936.3 672.8V677.8M965.6 672.8V676.3M994.8 672.8V677.8M1024 672.8V676.3M1053.3 672.8V677.8" stroke="#1a1a1a" stroke-width="1.3" fill="none"/>
<text class="b" x="431.6" y="448" font-size="10.5" textLength="21" lengthAdjust="spacingAndGlyphs">50</text>
<text class="b" x="421.1" y="431.1" font-size="10.5" textLength="31.5" lengthAdjust="spacingAndGlyphs">100</text>
<text class="b" x="421.1" y="414.2" font-size="10.5" textLength="31.5" lengthAdjust="spacingAndGlyphs">150</text>
<text class="b" x="421.1" y="397.4" font-size="10.5" textLength="31.5" lengthAdjust="spacingAndGlyphs">200</text>
<text class="b" x="421.1" y="380.5" font-size="10.5" textLength="31.5" lengthAdjust="spacingAndGlyphs">250</text>
<text class="b" x="421.1" y="363.6" font-size="10.5" textLength="31.5" lengthAdjust="spacingAndGlyphs">300</text>
<text class="b" x="431.6" y="566" font-size="10.5" textLength="21" lengthAdjust="spacingAndGlyphs">50</text>
<text class="b" x="421.1" y="548.3" font-size="10.5" textLength="31.5" lengthAdjust="spacingAndGlyphs">100</text>
<text class="b" x="421.1" y="530.6" font-size="10.5" textLength="31.5" lengthAdjust="spacingAndGlyphs">150</text>
<text class="b" x="421.1" y="512.8" font-size="10.5" textLength="31.5" lengthAdjust="spacingAndGlyphs">200</text>
<text class="b" x="421.1" y="495.1" font-size="10.5" textLength="31.5" lengthAdjust="spacingAndGlyphs">250</text>
<text class="b" x="421.1" y="477.4" font-size="10.5" textLength="31.5" lengthAdjust="spacingAndGlyphs">300</text>
<text class="b" x="431.6" y="676.6" font-size="10.5" textLength="21" lengthAdjust="spacingAndGlyphs">50</text>
<text class="b" x="421.1" y="660" font-size="10.5" textLength="31.5" lengthAdjust="spacingAndGlyphs">100</text>
<text class="b" x="421.1" y="643.4" font-size="10.5" textLength="31.5" lengthAdjust="spacingAndGlyphs">150</text>
<text class="b" x="421.1" y="626.8" font-size="10.5" textLength="31.5" lengthAdjust="spacingAndGlyphs">200</text>
<text class="b" x="421.1" y="610.2" font-size="10.5" textLength="31.5" lengthAdjust="spacingAndGlyphs">250</text>
<text class="b" x="421.1" y="593.6" font-size="10.5" textLength="31.5" lengthAdjust="spacingAndGlyphs">300</text>
<text class="b" x="455.3" y="693.8" font-size="12.5" textLength="26" lengthAdjust="spacingAndGlyphs">0.0</text>
<text class="b" x="513.8" y="693.8" font-size="12.5" textLength="26" lengthAdjust="spacingAndGlyphs">0.1</text>
<text class="b" x="572.3" y="693.8" font-size="12.5" textLength="26" lengthAdjust="spacingAndGlyphs">0.2</text>
<text class="b" x="630.8" y="693.8" font-size="12.5" textLength="26" lengthAdjust="spacingAndGlyphs">0.3</text>
<text class="b" x="689.3" y="693.8" font-size="12.5" textLength="26" lengthAdjust="spacingAndGlyphs">0.4</text>
<text class="b" x="747.8" y="693.8" font-size="12.5" textLength="26" lengthAdjust="spacingAndGlyphs">0.5</text>
<text class="b" x="806.3" y="693.8" font-size="12.5" textLength="26" lengthAdjust="spacingAndGlyphs">0.6</text>
<text class="b" x="864.8" y="693.8" font-size="12.5" textLength="26" lengthAdjust="spacingAndGlyphs">0.7</text>
<text class="b" x="923.3" y="693.8" font-size="12.5" textLength="26" lengthAdjust="spacingAndGlyphs">0.8</text>
<text class="b" x="981.8" y="693.8" font-size="12.5" textLength="26" lengthAdjust="spacingAndGlyphs">0.9</text>
<text class="b" x="1040.3" y="693.8" font-size="12.5" textLength="26" lengthAdjust="spacingAndGlyphs">1.0</text>
<text class="b" x="683" y="708.8" font-size="14.5" textLength="162" lengthAdjust="spacingAndGlyphs">Planar density</text>
<text transform="translate(409.3,577) rotate(-90)" font-size="21" stroke="#000" stroke-width="0.35" textLength="166" lengthAdjust="spacingAndGlyphs">Young's modulus, GPa</text>
<text class="b" x="477.6" y="366.3" font-size="13.5" textLength="159.7" lengthAdjust="spacingAndGlyphs">Symmetry cells</text>
<text class="b" x="476.7" y="472.6" font-size="13.5" textLength="114.6" lengthAdjust="spacingAndGlyphs">Super cells</text>
<text class="b" x="476.7" y="586.5" font-size="13.5" textLength="83.5" lengthAdjust="spacingAndGlyphs">Unit cell</text>
<text class="b" x="840.9" y="406" font-size="13.5" textLength="157.5" lengthAdjust="spacingAndGlyphs">y=62.41+152.21</text>
<text class="b" x="854.6" y="520.6" font-size="13.5" textLength="157" lengthAdjust="spacingAndGlyphs">y=63.67+151.71</text>
<text class="b" x="847.5" y="621.2" font-size="13.5" textLength="159.6" lengthAdjust="spacingAndGlyphs">y=37.23+162.62</text>
<line x1="480" y1="408.6" x2="1013.5" y2="390.1" stroke="#b86868" stroke-width="1.6"/>
<line x1="483.1" y1="525.8" x2="1013.5" y2="505.7" stroke="#b86868" stroke-width="1.6"/>
<line x1="492" y1="635.6" x2="1048.6" y2="623.2" stroke="#b86868" stroke-width="1.6"/>
<ellipse cx="479.5" cy="413.5" rx="8.3" ry="5.2" fill="url(#pk)"/>
<ellipse cx="491.4" cy="400.7" rx="8.3" ry="5.2" fill="url(#pk)"/>
<ellipse cx="609.4" cy="397.5" rx="8.3" ry="5.2" fill="url(#pk)"/>
<ellipse cx="615" cy="410" rx="8.3" ry="5.2" fill="url(#pk)"/>
<ellipse cx="650" cy="424.2" rx="8.3" ry="5.2" fill="url(#pk)"/>
<ellipse cx="708.5" cy="395.3" rx="8.3" ry="5.2" fill="url(#pk)"/>
<ellipse cx="767.6" cy="386" rx="8.3" ry="5.2" fill="url(#pk)"/>
<ellipse cx="819.8" cy="417" rx="8.3" ry="5.2" fill="url(#pk)"/>
<ellipse cx="843.5" cy="363.2" rx="8.3" ry="5.2" fill="url(#pk)"/>
<ellipse cx="983.9" cy="432.9" rx="8.3" ry="5.2" fill="url(#pk)"/>
<ellipse cx="1013.5" cy="363.2" rx="8.3" ry="5.2" fill="url(#pk)"/>
<ellipse cx="484.4" cy="529.6" rx="8.3" ry="5.2" fill="url(#pb)"/>
<ellipse cx="492" cy="515.9" rx="8.3" ry="5.2" fill="url(#pb)"/>
<ellipse cx="609.1" cy="513.3" rx="8.3" ry="5.2" fill="url(#pb)"/>
<ellipse cx="614.7" cy="526.6" rx="8.3" ry="5.2" fill="url(#pb)"/>
<ellipse cx="638.4" cy="541.1" rx="8.3" ry="5.2" fill="url(#pb)"/>
<ellipse cx="708.4" cy="511.3" rx="8.3" ry="5.2" fill="url(#pb)"/>
<ellipse cx="767" cy="501" rx="8.3" ry="5.2" fill="url(#pb)"/>
<ellipse cx="843.5" cy="477.2" rx="8.3" ry="5.2" fill="url(#pb)"/>
<ellipse cx="819.8" cy="533.8" rx="8.3" ry="5.2" fill="url(#pb)"/>
<ellipse cx="983.9" cy="550.1" rx="8.3" ry="5.2" fill="url(#pb)"/>
<ellipse cx="1013.5" cy="477.2" rx="8.3" ry="5.2" fill="url(#pb)"/>
<ellipse cx="491.3" cy="643.2" rx="8.3" ry="5.2" fill="url(#pg)"/>
<ellipse cx="491.3" cy="630" rx="8.3" ry="5.2" fill="url(#pg)"/>
<ellipse cx="561.3" cy="640.2" rx="8.3" ry="5.2" fill="url(#pg)"/>
<ellipse cx="609.1" cy="627.5" rx="8.3" ry="5.2" fill="url(#pg)"/>
<ellipse cx="708.4" cy="625.4" rx="8.3" ry="5.2" fill="url(#pg)"/>
<ellipse cx="737" cy="654" rx="8.3" ry="5.2" fill="url(#pg)"/>
<ellipse cx="767" cy="615.3" rx="8.3" ry="5.2" fill="url(#pg)"/>
<ellipse cx="819.8" cy="647" rx="8.3" ry="5.2" fill="url(#pg)"/>
<ellipse cx="843.5" cy="592.9" rx="8.3" ry="5.2" fill="url(#pg)"/>
<ellipse cx="1013.5" cy="592.9" rx="8.3" ry="5.2" fill="url(#pg)"/>
<ellipse cx="1048.6" cy="662.8" rx="8.3" ry="5.2" fill="url(#pg)"/>
<text class="b" x="473.6" y="395.5" font-size="11" textLength="39.6" lengthAdjust="spacingAndGlyphs">(111)</text>
<text class="b" x="590.8" y="392.6" font-size="11" textLength="38.5" lengthAdjust="spacingAndGlyphs">(310)</text>
<text class="b" x="632" y="419.7" font-size="11" textLength="38.5" lengthAdjust="spacingAndGlyphs">(221)</text>
<text class="b" x="995.8" y="378.8" font-size="11" textLength="38.2" lengthAdjust="spacingAndGlyphs">(100)</text>
<text class="b" x="800.5" y="434.4" font-size="11" textLength="38.8" lengthAdjust="spacingAndGlyphs">(220)</text>
<text class="b" x="965.4" y="428" font-size="11" textLength="38.3" lengthAdjust="spacingAndGlyphs">(222)</text>
<text class="b" x="625.7" y="535.4" font-size="11" textLength="38.2" lengthAdjust="spacingAndGlyphs">(221)</text>
<text class="b" x="995.8" y="472.7" font-size="11" textLength="38.2" lengthAdjust="spacingAndGlyphs">(100)</text>
<text class="b" x="801.3" y="549.1" font-size="11" textLength="38" lengthAdjust="spacingAndGlyphs">(220)</text>
<text class="b" x="965" y="544.6" font-size="11" textLength="38.7" lengthAdjust="spacingAndGlyphs">(222)</text>
<text class="b" x="823" y="587.6" font-size="11" textLength="38.2" lengthAdjust="spacingAndGlyphs">(200)</text>
<text class="b" x="994.5" y="587.6" font-size="11" textLength="38.2" lengthAdjust="spacingAndGlyphs">(100)</text>
<text class="b" x="720" y="647.2" font-size="11" textLength="38" lengthAdjust="spacingAndGlyphs">(221)</text>
<text class="b" x="802.6" y="643.2" font-size="11" textLength="38.8" lengthAdjust="spacingAndGlyphs">(220)</text>
<text class="b" transform="translate(483.6,440.5) rotate(-90)" font-size="9.8" textLength="22.5" lengthAdjust="spacingAndGlyphs">(311)</text>
<text class="b" transform="translate(619.6,440.5) rotate(-90)" font-size="9.8" textLength="24.9" lengthAdjust="spacingAndGlyphs">(211)</text>
<text class="b" transform="translate(715.9,395) rotate(-90)" font-size="9.8" textLength="30.3" lengthAdjust="spacingAndGlyphs">(210)</text>
<text class="b" transform="translate(775.9,384) rotate(-90)" font-size="9.8" textLength="30.6" lengthAdjust="spacingAndGlyphs">(110)</text>
<text class="b" transform="translate(847.6,391.5) rotate(-90)" font-size="9.8" textLength="25.1" lengthAdjust="spacingAndGlyphs">(200)</text>
<text class="b" transform="translate(489.2,557.1) rotate(-90)" font-size="9.8" textLength="21.6" lengthAdjust="spacingAndGlyphs">(311)</text>
<text class="b" transform="translate(495.6,508.7) rotate(-90)" font-size="9.8" textLength="25.4" lengthAdjust="spacingAndGlyphs">(111)</text>
<text class="b" transform="translate(612.7,507.5) rotate(-90)" font-size="9.8" textLength="24.2" lengthAdjust="spacingAndGlyphs">(310)</text>
<text class="b" transform="translate(618.3,557.1) rotate(-90)" font-size="9.8" textLength="22.9" lengthAdjust="spacingAndGlyphs">(211)</text>
<text class="b" transform="translate(712,502.4) rotate(-90)" font-size="9.8" textLength="21.7" lengthAdjust="spacingAndGlyphs">(210)</text>
<text class="b" transform="translate(772.4,497) rotate(-90)" font-size="9.8" textLength="26.4" lengthAdjust="spacingAndGlyphs">(110)</text>
<text class="b" transform="translate(847.6,509) rotate(-90)" font-size="9.8" textLength="25.2" lengthAdjust="spacingAndGlyphs">(200)</text>
<text class="b" transform="translate(494.9,670.7) rotate(-90)" font-size="9.8" textLength="24.1" lengthAdjust="spacingAndGlyphs">(311)</text>
<text class="b" transform="translate(495.6,623.6) rotate(-90)" font-size="9.8" textLength="25.6" lengthAdjust="spacingAndGlyphs">(111)</text>
<text class="b" transform="translate(565.6,670.7) rotate(-90)" font-size="9.8" textLength="26.7" lengthAdjust="spacingAndGlyphs">(211)</text>
<text class="b" transform="translate(615.3,620) rotate(-90)" font-size="9.8" textLength="23" lengthAdjust="spacingAndGlyphs">(310)</text>
<text class="b" transform="translate(712,617.3) rotate(-90)" font-size="9.8" textLength="24.3" lengthAdjust="spacingAndGlyphs">(210)</text>
<text class="b" transform="translate(772.4,608.2) rotate(-90)" font-size="9.8" textLength="23.7" lengthAdjust="spacingAndGlyphs">(110)</text>
<text class="b" transform="translate(1053.5,655.7) rotate(-90)" font-size="9.8" textLength="25.1" lengthAdjust="spacingAndGlyphs">(222)</text>
</svg>
</body></html>
